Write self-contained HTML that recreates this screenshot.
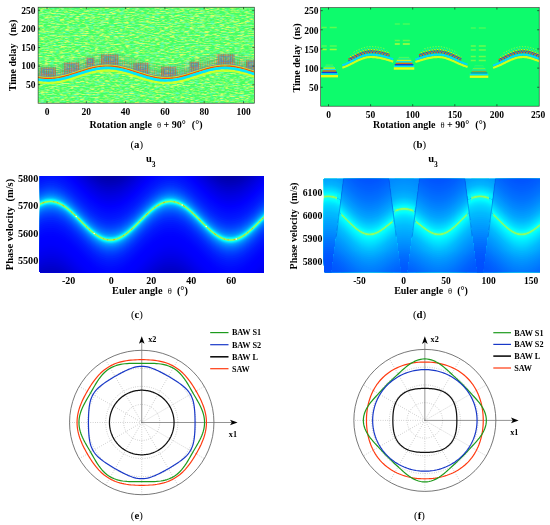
<!DOCTYPE html>
<html lang="en"><head><meta charset="utf-8"><title>Figure</title>
<style>html,body{margin:0;padding:0;background:#fff}svg{display:block}text{font-family:"Liberation Serif",serif;fill:#000}</style>
</head><body>
<svg width="550" height="525" viewBox="0 0 550 525">
<rect width="550" height="525" fill="#fff"/>
<defs>
<filter id="nzA" x="0" y="0" width="100%" height="100%"><feTurbulence type="fractalNoise" baseFrequency="0.2 0.9" numOctaves="2" seed="3"/><feColorMatrix type="matrix" values="0 0 0 0 0.72  0 0 0 0 1  0 0 0 0 0.14  3.2 0 0 0 -1.36"/></filter>
<filter id="nzA2" x="0" y="0" width="100%" height="100%"><feTurbulence type="fractalNoise" baseFrequency="0.2 0.9" numOctaves="2" seed="11"/><feColorMatrix type="matrix" values="0 0 0 0 0.10  0 0 0 0 1  0 0 0 0 0.55  2.4 0 0 0 -1.12"/></filter>
<filter id="b1" filterUnits="userSpaceOnUse" x="0" y="0" width="550" height="525"><feGaussianBlur stdDeviation="0.5"/></filter>
<filter id="b2" filterUnits="userSpaceOnUse" x="0" y="0" width="550" height="525"><feGaussianBlur stdDeviation="0.35"/></filter>
<clipPath id="cA"><rect x="38.1" y="7.2" width="216.2" height="96"/></clipPath>
<clipPath id="cB"><rect x="320.7" y="7.5" width="218.5" height="98.7"/></clipPath>
<clipPath id="cC"><rect x="39.9" y="176" width="223.8" height="96.3"/></clipPath>
<clipPath id="cD"><rect x="323.9" y="178.8" width="216.1" height="93.4"/></clipPath>
</defs>
<g clip-path="url(#cA)">
<rect x="38" y="7" width="216.5" height="96.5" fill="#44ff62"/>
<rect x="38" y="7" width="216.5" height="96.5" filter="url(#nzA)"/>
<rect x="38" y="7" width="216.5" height="96.5" filter="url(#nzA2)"/>
<defs><pattern id="stA" width="2.3" height="4" patternUnits="userSpaceOnUse"><rect width="2.3" height="4" fill="#9aa8b0" fill-opacity="0.18"/><rect x="0" width="0.85" height="4" fill="#c8452c"/><rect x="1.1" width="0.85" height="4" fill="#4a5cc4"/></pattern>
<clipPath id="rgA1"><path d="M35.21 75.54 L37.17 75.93 L39.14 76.26 L41.1 76.54 L43.07 76.75 L45.03 76.9 L47 76.98 L48.97 77 L50.93 76.94 L52.9 76.82 L54.86 76.63 L56.83 76.38 L58.79 76.07 L60.76 75.7 L62.72 75.27 L64.69 74.8 L66.65 74.28 L68.62 73.73 L70.58 73.14 L72.55 72.53 L74.51 71.9 L76.47 71.25 L78.44 70.61 L80.41 69.96 L82.37 69.32 L84.34 68.7 L86.3 68.1 L88.27 67.53 L90.23 67 L92.19 66.51 L94.16 66.06 L96.12 65.67 L98.09 65.34 L100.06 65.06 L102.02 64.85 L103.98 64.7 L105.95 64.62 L107.91 64.6 L109.88 64.66 L111.84 64.78 L113.81 64.97 L115.78 65.22 L117.74 65.53 L119.7 65.9 L121.67 66.33 L123.64 66.8 L125.6 67.32 L127.56 67.87 L129.53 68.46 L131.5 69.07 L133.46 69.7 L135.43 70.35 L137.39 70.99 L139.36 71.64 L141.32 72.28 L143.29 72.9 L145.25 73.5 L147.22 74.07 L149.18 74.6 L151.15 75.09 L153.11 75.54 L155.07 75.93 L157.04 76.26 L159 76.54 L160.97 76.75 L162.94 76.9 L164.9 76.98 L166.87 77 L168.83 76.94 L170.8 76.82 L172.76 76.63 L174.73 76.38 L176.69 76.07 L178.66 75.7 L180.62 75.27 L182.59 74.8 L184.55 74.28 L186.52 73.73 L188.48 73.14 L190.44 72.53 L192.41 71.9 L194.38 71.25 L196.34 70.61 L198.31 69.96 L200.27 69.32 L202.24 68.7 L204.2 68.1 L206.17 67.53 L208.13 67 L210.09 66.51 L212.06 66.06 L214.03 65.67 L215.99 65.34 L217.96 65.06 L219.92 64.85 L221.89 64.7 L223.85 64.62 L225.81 64.6 L227.78 64.66 L229.75 64.78 L231.71 64.97 L233.68 65.22 L235.64 65.53 L237.61 65.9 L239.57 66.33 L241.53 66.8 L243.5 67.32 L245.47 67.87 L247.43 68.46 L249.4 69.07 L251.36 69.7 L253.33 70.35 L255.29 70.99 L257.25 71.64 L257.25 65.54 L255.29 64.89 L253.33 64.25 L251.36 63.6 L249.4 62.97 L247.43 62.36 L245.47 61.77 L243.5 61.22 L241.53 60.7 L239.57 60.23 L237.61 59.8 L235.64 59.43 L233.68 59.12 L231.71 58.87 L229.75 58.68 L227.78 58.56 L225.81 58.5 L223.85 58.52 L221.89 58.6 L219.92 58.75 L217.96 58.96 L215.99 59.24 L214.03 59.57 L212.06 59.96 L210.09 60.41 L208.13 60.9 L206.17 61.43 L204.2 62 L202.24 62.6 L200.27 63.22 L198.31 63.86 L196.34 64.51 L194.38 65.15 L192.41 65.8 L190.44 66.43 L188.48 67.04 L186.52 67.63 L184.55 68.18 L182.59 68.7 L180.62 69.17 L178.66 69.6 L176.69 69.97 L174.73 70.28 L172.76 70.53 L170.8 70.72 L168.83 70.84 L166.87 70.9 L164.9 70.88 L162.94 70.8 L160.97 70.65 L159 70.44 L157.04 70.16 L155.07 69.83 L153.11 69.44 L151.15 68.99 L149.18 68.5 L147.22 67.97 L145.25 67.4 L143.29 66.8 L141.32 66.18 L139.36 65.54 L137.39 64.89 L135.43 64.25 L133.46 63.6 L131.5 62.97 L129.53 62.36 L127.56 61.77 L125.6 61.22 L123.64 60.7 L121.67 60.23 L119.7 59.8 L117.74 59.43 L115.78 59.12 L113.81 58.87 L111.84 58.68 L109.88 58.56 L107.91 58.5 L105.95 58.52 L103.98 58.6 L102.02 58.75 L100.06 58.96 L98.09 59.24 L96.12 59.57 L94.16 59.96 L92.19 60.41 L90.23 60.9 L88.27 61.43 L86.3 62 L84.34 62.6 L82.37 63.22 L80.41 63.86 L78.44 64.51 L76.47 65.15 L74.51 65.8 L72.55 66.43 L70.58 67.04 L68.62 67.63 L66.65 68.18 L64.69 68.7 L62.72 69.17 L60.76 69.6 L58.79 69.97 L56.83 70.28 L54.86 70.53 L52.9 70.72 L50.93 70.84 L48.97 70.9 L47 70.88 L45.03 70.8 L43.07 70.65 L41.1 70.44 L39.14 70.16 L37.17 69.83 L35.21 69.44Z"/></clipPath>
<clipPath id="rgA2"><path d="M35.21 69.44 L37.17 69.83 L39.14 70.16 L41.1 70.44 L43.07 70.65 L45.03 70.8 L47 70.88 L48.97 70.9 L50.93 70.84 L52.9 70.72 L54.86 70.53 L56.83 70.28 L58.79 69.97 L60.76 69.6 L62.72 69.17 L64.69 68.7 L66.65 68.18 L68.62 67.63 L70.58 67.04 L72.55 66.43 L74.51 65.8 L76.47 65.15 L78.44 64.51 L80.41 63.86 L82.37 63.22 L84.34 62.6 L86.3 62 L88.27 61.43 L90.23 60.9 L92.19 60.41 L94.16 59.96 L96.12 59.57 L98.09 59.24 L100.06 58.96 L102.02 58.75 L103.98 58.6 L105.95 58.52 L107.91 58.5 L109.88 58.56 L111.84 58.68 L113.81 58.87 L115.78 59.12 L117.74 59.43 L119.7 59.8 L121.67 60.23 L123.64 60.7 L125.6 61.22 L127.56 61.77 L129.53 62.36 L131.5 62.97 L133.46 63.6 L135.43 64.25 L137.39 64.89 L139.36 65.54 L141.32 66.18 L143.29 66.8 L145.25 67.4 L147.22 67.97 L149.18 68.5 L151.15 68.99 L153.11 69.44 L155.07 69.83 L157.04 70.16 L159 70.44 L160.97 70.65 L162.94 70.8 L164.9 70.88 L166.87 70.9 L168.83 70.84 L170.8 70.72 L172.76 70.53 L174.73 70.28 L176.69 69.97 L178.66 69.6 L180.62 69.17 L182.59 68.7 L184.55 68.18 L186.52 67.63 L188.48 67.04 L190.44 66.43 L192.41 65.8 L194.38 65.15 L196.34 64.51 L198.31 63.86 L200.27 63.22 L202.24 62.6 L204.2 62 L206.17 61.43 L208.13 60.9 L210.09 60.41 L212.06 59.96 L214.03 59.57 L215.99 59.24 L217.96 58.96 L219.92 58.75 L221.89 58.6 L223.85 58.52 L225.81 58.5 L227.78 58.56 L229.75 58.68 L231.71 58.87 L233.68 59.12 L235.64 59.43 L237.61 59.8 L239.57 60.23 L241.53 60.7 L243.5 61.22 L245.47 61.77 L247.43 62.36 L249.4 62.97 L251.36 63.6 L253.33 64.25 L255.29 64.89 L257.25 65.54 L257.25 59.54 L255.29 58.89 L253.33 58.25 L251.36 57.6 L249.4 56.97 L247.43 56.36 L245.47 55.77 L243.5 55.22 L241.53 54.7 L239.57 54.23 L237.61 53.8 L235.64 53.43 L233.68 53.12 L231.71 52.87 L229.75 52.68 L227.78 52.56 L225.81 52.5 L223.85 52.52 L221.89 52.6 L219.92 52.75 L217.96 52.96 L215.99 53.24 L214.03 53.57 L212.06 53.96 L210.09 54.41 L208.13 54.9 L206.17 55.43 L204.2 56 L202.24 56.6 L200.27 57.22 L198.31 57.86 L196.34 58.51 L194.38 59.15 L192.41 59.8 L190.44 60.43 L188.48 61.04 L186.52 61.63 L184.55 62.18 L182.59 62.7 L180.62 63.17 L178.66 63.6 L176.69 63.97 L174.73 64.28 L172.76 64.53 L170.8 64.72 L168.83 64.84 L166.87 64.9 L164.9 64.88 L162.94 64.8 L160.97 64.65 L159 64.44 L157.04 64.16 L155.07 63.83 L153.11 63.44 L151.15 62.99 L149.18 62.5 L147.22 61.97 L145.25 61.4 L143.29 60.8 L141.32 60.18 L139.36 59.54 L137.39 58.89 L135.43 58.25 L133.46 57.6 L131.5 56.97 L129.53 56.36 L127.56 55.77 L125.6 55.22 L123.64 54.7 L121.67 54.23 L119.7 53.8 L117.74 53.43 L115.78 53.12 L113.81 52.87 L111.84 52.68 L109.88 52.56 L107.91 52.5 L105.95 52.52 L103.98 52.6 L102.02 52.75 L100.06 52.96 L98.09 53.24 L96.12 53.57 L94.16 53.96 L92.19 54.41 L90.23 54.9 L88.27 55.43 L86.3 56 L84.34 56.6 L82.37 57.22 L80.41 57.86 L78.44 58.51 L76.47 59.15 L74.51 59.8 L72.55 60.43 L70.58 61.04 L68.62 61.63 L66.65 62.18 L64.69 62.7 L62.72 63.17 L60.76 63.6 L58.79 63.97 L56.83 64.28 L54.86 64.53 L52.9 64.72 L50.93 64.84 L48.97 64.9 L47 64.88 L45.03 64.8 L43.07 64.65 L41.1 64.44 L39.14 64.16 L37.17 63.83 L35.21 63.44Z"/></clipPath>
<clipPath id="rgA3"><path d="M35.21 75.54 L37.17 75.93 L39.14 76.26 L41.1 76.54 L43.07 76.75 L45.03 76.9 L47 76.98 L48.97 77 L50.93 76.94 L52.9 76.82 L54.86 76.63 L56.83 76.38 L58.79 76.07 L60.76 75.7 L62.72 75.27 L64.69 74.8 L66.65 74.28 L68.62 73.73 L70.58 73.14 L72.55 72.53 L74.51 71.9 L76.47 71.25 L78.44 70.61 L80.41 69.96 L82.37 69.32 L84.34 68.7 L86.3 68.1 L88.27 67.53 L90.23 67 L92.19 66.51 L94.16 66.06 L96.12 65.67 L98.09 65.34 L100.06 65.06 L102.02 64.85 L103.98 64.7 L105.95 64.62 L107.91 64.6 L109.88 64.66 L111.84 64.78 L113.81 64.97 L115.78 65.22 L117.74 65.53 L119.7 65.9 L121.67 66.33 L123.64 66.8 L125.6 67.32 L127.56 67.87 L129.53 68.46 L131.5 69.07 L133.46 69.7 L135.43 70.35 L137.39 70.99 L139.36 71.64 L141.32 72.28 L143.29 72.9 L145.25 73.5 L147.22 74.07 L149.18 74.6 L151.15 75.09 L153.11 75.54 L155.07 75.93 L157.04 76.26 L159 76.54 L160.97 76.75 L162.94 76.9 L164.9 76.98 L166.87 77 L168.83 76.94 L170.8 76.82 L172.76 76.63 L174.73 76.38 L176.69 76.07 L178.66 75.7 L180.62 75.27 L182.59 74.8 L184.55 74.28 L186.52 73.73 L188.48 73.14 L190.44 72.53 L192.41 71.9 L194.38 71.25 L196.34 70.61 L198.31 69.96 L200.27 69.32 L202.24 68.7 L204.2 68.1 L206.17 67.53 L208.13 67 L210.09 66.51 L212.06 66.06 L214.03 65.67 L215.99 65.34 L217.96 65.06 L219.92 64.85 L221.89 64.7 L223.85 64.62 L225.81 64.6 L227.78 64.66 L229.75 64.78 L231.71 64.97 L233.68 65.22 L235.64 65.53 L237.61 65.9 L239.57 66.33 L241.53 66.8 L243.5 67.32 L245.47 67.87 L247.43 68.46 L249.4 69.07 L251.36 69.7 L253.33 70.35 L255.29 70.99 L257.25 71.64 L257.25 45.04 L255.29 44.39 L253.33 43.75 L251.36 43.1 L249.4 42.47 L247.43 41.86 L245.47 41.27 L243.5 40.72 L241.53 40.2 L239.57 39.73 L237.61 39.3 L235.64 38.93 L233.68 38.62 L231.71 38.37 L229.75 38.18 L227.78 38.06 L225.81 38 L223.85 38.02 L221.89 38.1 L219.92 38.25 L217.96 38.46 L215.99 38.74 L214.03 39.07 L212.06 39.46 L210.09 39.91 L208.13 40.4 L206.17 40.93 L204.2 41.5 L202.24 42.1 L200.27 42.72 L198.31 43.36 L196.34 44.01 L194.38 44.65 L192.41 45.3 L190.44 45.93 L188.48 46.54 L186.52 47.13 L184.55 47.68 L182.59 48.2 L180.62 48.67 L178.66 49.1 L176.69 49.47 L174.73 49.78 L172.76 50.03 L170.8 50.22 L168.83 50.34 L166.87 50.4 L164.9 50.38 L162.94 50.3 L160.97 50.15 L159 49.94 L157.04 49.66 L155.07 49.33 L153.11 48.94 L151.15 48.49 L149.18 48 L147.22 47.47 L145.25 46.9 L143.29 46.3 L141.32 45.68 L139.36 45.04 L137.39 44.39 L135.43 43.75 L133.46 43.1 L131.5 42.47 L129.53 41.86 L127.56 41.27 L125.6 40.72 L123.64 40.2 L121.67 39.73 L119.7 39.3 L117.74 38.93 L115.78 38.62 L113.81 38.37 L111.84 38.18 L109.88 38.06 L107.91 38 L105.95 38.02 L103.98 38.1 L102.02 38.25 L100.06 38.46 L98.09 38.74 L96.12 39.07 L94.16 39.46 L92.19 39.91 L90.23 40.4 L88.27 40.93 L86.3 41.5 L84.34 42.1 L82.37 42.72 L80.41 43.36 L78.44 44.01 L76.47 44.65 L74.51 45.3 L72.55 45.93 L70.58 46.54 L68.62 47.13 L66.65 47.68 L64.69 48.2 L62.72 48.67 L60.76 49.1 L58.79 49.47 L56.83 49.78 L54.86 50.03 L52.9 50.22 L50.93 50.34 L48.97 50.4 L47 50.38 L45.03 50.3 L43.07 50.15 L41.1 49.94 L39.14 49.66 L37.17 49.33 L35.21 48.94Z"/></clipPath></defs>
<g filter="url(#b1)">
<rect x="38" y="40" width="216" height="50" fill="url(#stA)" fill-opacity="0.4" clip-path="url(#rgA1)"/>
<rect x="38" y="40" width="216" height="50" fill="url(#stA)" fill-opacity="0.16" clip-path="url(#rgA2)"/>
<rect x="39.98" y="67.19" width="16" height="16.4" fill="url(#stA)" fill-opacity="0.5" clip-path="url(#rgA3)"/>
<rect x="43.58" y="69.5" width="8.8" height="3.78" fill="none" stroke="#6878b8" stroke-width="0.9" stroke-opacity="0.7"/>
<rect x="41.58" y="68.24" width="12.8" height="6.3" fill="none" stroke="#c87850" stroke-width="0.8" stroke-opacity="0.6"/>
<rect x="63.56" y="62.3" width="16" height="17" fill="url(#stA)" fill-opacity="0.5" clip-path="url(#rgA3)"/>
<rect x="67.16" y="64.78" width="8.8" height="4.05" fill="none" stroke="#6878b8" stroke-width="0.9" stroke-opacity="0.7"/>
<rect x="65.16" y="63.43" width="12.8" height="6.75" fill="none" stroke="#c87850" stroke-width="0.8" stroke-opacity="0.6"/>
<rect x="100.88" y="54.34" width="18" height="17.6" fill="url(#stA)" fill-opacity="0.5" clip-path="url(#rgA3)"/>
<rect x="104.93" y="56.98" width="9.9" height="4.32" fill="none" stroke="#6878b8" stroke-width="0.9" stroke-opacity="0.7"/>
<rect x="102.68" y="55.54" width="14.4" height="7.2" fill="none" stroke="#c87850" stroke-width="0.8" stroke-opacity="0.6"/>
<rect x="133.32" y="62.62" width="16" height="17" fill="url(#stA)" fill-opacity="0.5" clip-path="url(#rgA3)"/>
<rect x="136.92" y="65.09" width="8.8" height="4.05" fill="none" stroke="#6878b8" stroke-width="0.9" stroke-opacity="0.7"/>
<rect x="134.92" y="63.74" width="12.8" height="6.75" fill="none" stroke="#c87850" stroke-width="0.8" stroke-opacity="0.6"/>
<rect x="160.83" y="66.46" width="16" height="17.6" fill="url(#stA)" fill-opacity="0.5" clip-path="url(#rgA3)"/>
<rect x="164.43" y="69.1" width="8.8" height="4.32" fill="none" stroke="#6878b8" stroke-width="0.9" stroke-opacity="0.7"/>
<rect x="162.43" y="67.66" width="12.8" height="7.2" fill="none" stroke="#c87850" stroke-width="0.8" stroke-opacity="0.6"/>
<rect x="216.81" y="54.03" width="18" height="18" fill="url(#stA)" fill-opacity="0.5" clip-path="url(#rgA3)"/>
<rect x="220.87" y="56.78" width="9.9" height="4.5" fill="none" stroke="#6878b8" stroke-width="0.9" stroke-opacity="0.7"/>
<rect x="218.62" y="55.28" width="14.4" height="7.5" fill="none" stroke="#c87850" stroke-width="0.8" stroke-opacity="0.6"/>
<rect x="246.36" y="60.05" width="10" height="17" fill="url(#stA)" fill-opacity="0.5" clip-path="url(#rgA3)"/>
<rect x="248.61" y="62.53" width="5.5" height="4.05" fill="none" stroke="#6878b8" stroke-width="0.9" stroke-opacity="0.7"/>
<rect x="247.36" y="61.18" width="8" height="6.75" fill="none" stroke="#c87850" stroke-width="0.8" stroke-opacity="0.6"/>
<rect x="86.23" y="57.55" width="8" height="15" fill="url(#stA)" fill-opacity="0.5" clip-path="url(#rgA3)"/>
<rect x="88.03" y="59.48" width="4.4" height="3.15" fill="none" stroke="#6878b8" stroke-width="0.9" stroke-opacity="0.7"/>
<rect x="87.03" y="58.43" width="6.4" height="5.25" fill="none" stroke="#c87850" stroke-width="0.8" stroke-opacity="0.6"/>
<rect x="189.38" y="61.7" width="10" height="15" fill="url(#stA)" fill-opacity="0.5" clip-path="url(#rgA3)"/>
<rect x="191.62" y="63.62" width="5.5" height="3.15" fill="none" stroke="#6878b8" stroke-width="0.9" stroke-opacity="0.7"/>
<rect x="190.38" y="62.58" width="8" height="5.25" fill="none" stroke="#c87850" stroke-width="0.8" stroke-opacity="0.6"/>
</g>
<path d="M35.21 81.44 L37.17 81.83 L39.14 82.16 L41.1 82.44 L43.07 82.65 L45.03 82.8 L47 82.88 L48.97 82.9 L50.93 82.84 L52.9 82.72 L54.86 82.53 L56.83 82.28 L58.79 81.97 L60.76 81.6 L62.72 81.17 L64.69 80.7 L66.65 80.18 L68.62 79.63 L70.58 79.04 L72.55 78.43 L74.51 77.8 L76.47 77.15 L78.44 76.51 L80.41 75.86 L82.37 75.22 L84.34 74.6 L86.3 74 L88.27 73.43 L90.23 72.9 L92.19 72.41 L94.16 71.96 L96.12 71.57 L98.09 71.24 L100.06 70.96 L102.02 70.75 L103.98 70.6 L105.95 70.52 L107.91 70.5 L109.88 70.56 L111.84 70.68 L113.81 70.87 L115.78 71.12 L117.74 71.43 L119.7 71.8 L121.67 72.23 L123.64 72.7 L125.6 73.22 L127.56 73.77 L129.53 74.36 L131.5 74.97 L133.46 75.6 L135.43 76.25 L137.39 76.89 L139.36 77.54 L141.32 78.18 L143.29 78.8 L145.25 79.4 L147.22 79.97 L149.18 80.5 L151.15 80.99 L153.11 81.44 L155.07 81.83 L157.04 82.16 L159 82.44 L160.97 82.65 L162.94 82.8 L164.9 82.88 L166.87 82.9 L168.83 82.84 L170.8 82.72 L172.76 82.53 L174.73 82.28 L176.69 81.97 L178.66 81.6 L180.62 81.17 L182.59 80.7 L184.55 80.18 L186.52 79.63 L188.48 79.04 L190.44 78.43 L192.41 77.8 L194.38 77.15 L196.34 76.51 L198.31 75.86 L200.27 75.22 L202.24 74.6 L204.2 74 L206.17 73.43 L208.13 72.9 L210.09 72.41 L212.06 71.96 L214.03 71.57 L215.99 71.24 L217.96 70.96 L219.92 70.75 L221.89 70.6 L223.85 70.52 L225.81 70.5 L227.78 70.56 L229.75 70.68 L231.71 70.87 L233.68 71.12 L235.64 71.43 L237.61 71.8 L239.57 72.23 L241.53 72.7 L243.5 73.22 L245.47 73.77 L247.43 74.36 L249.4 74.97 L251.36 75.6 L253.33 76.25 L255.29 76.89 L257.25 77.54" fill="none" stroke="#dcff20" stroke-width="2.4" stroke-opacity="0.85" filter="url(#b1)"/>
<path d="M35.21 75.04 L37.17 75.43 L39.14 75.76 L41.1 76.04 L43.07 76.25 L45.03 76.4 L47 76.48 L48.97 76.5 L50.93 76.44 L52.9 76.32 L54.86 76.13 L56.83 75.88 L58.79 75.57 L60.76 75.2 L62.72 74.77 L64.69 74.3 L66.65 73.78 L68.62 73.23 L70.58 72.64 L72.55 72.03 L74.51 71.4 L76.47 70.75 L78.44 70.11 L80.41 69.46 L82.37 68.82 L84.34 68.2 L86.3 67.6 L88.27 67.03 L90.23 66.5 L92.19 66.01 L94.16 65.56 L96.12 65.17 L98.09 64.84 L100.06 64.56 L102.02 64.35 L103.98 64.2 L105.95 64.12 L107.91 64.1 L109.88 64.16 L111.84 64.28 L113.81 64.47 L115.78 64.72 L117.74 65.03 L119.7 65.4 L121.67 65.83 L123.64 66.3 L125.6 66.82 L127.56 67.37 L129.53 67.96 L131.5 68.57 L133.46 69.2 L135.43 69.85 L137.39 70.49 L139.36 71.14 L141.32 71.78 L143.29 72.4 L145.25 73 L147.22 73.57 L149.18 74.1 L151.15 74.59 L153.11 75.04 L155.07 75.43 L157.04 75.76 L159 76.04 L160.97 76.25 L162.94 76.4 L164.9 76.48 L166.87 76.5 L168.83 76.44 L170.8 76.32 L172.76 76.13 L174.73 75.88 L176.69 75.57 L178.66 75.2 L180.62 74.77 L182.59 74.3 L184.55 73.78 L186.52 73.23 L188.48 72.64 L190.44 72.03 L192.41 71.4 L194.38 70.75 L196.34 70.11 L198.31 69.46 L200.27 68.82 L202.24 68.2 L204.2 67.6 L206.17 67.03 L208.13 66.5 L210.09 66.01 L212.06 65.56 L214.03 65.17 L215.99 64.84 L217.96 64.56 L219.92 64.35 L221.89 64.2 L223.85 64.12 L225.81 64.1 L227.78 64.16 L229.75 64.28 L231.71 64.47 L233.68 64.72 L235.64 65.03 L237.61 65.4 L239.57 65.83 L241.53 66.3 L243.5 66.82 L245.47 67.37 L247.43 67.96 L249.4 68.57 L251.36 69.2 L253.33 69.85 L255.29 70.49 L257.25 71.14" fill="none" stroke="#6a78c0" stroke-width="0.9" stroke-opacity="0.8"/>
<path d="M35.21 75.94 L37.17 76.33 L39.14 76.66 L41.1 76.94 L43.07 77.15 L45.03 77.3 L47 77.38 L48.97 77.4 L50.93 77.34 L52.9 77.22 L54.86 77.03 L56.83 76.78 L58.79 76.47 L60.76 76.1 L62.72 75.67 L64.69 75.2 L66.65 74.68 L68.62 74.13 L70.58 73.54 L72.55 72.93 L74.51 72.3 L76.47 71.65 L78.44 71.01 L80.41 70.36 L82.37 69.72 L84.34 69.1 L86.3 68.5 L88.27 67.93 L90.23 67.4 L92.19 66.91 L94.16 66.46 L96.12 66.07 L98.09 65.74 L100.06 65.46 L102.02 65.25 L103.98 65.1 L105.95 65.02 L107.91 65 L109.88 65.06 L111.84 65.18 L113.81 65.37 L115.78 65.62 L117.74 65.93 L119.7 66.3 L121.67 66.73 L123.64 67.2 L125.6 67.72 L127.56 68.27 L129.53 68.86 L131.5 69.47 L133.46 70.1 L135.43 70.75 L137.39 71.39 L139.36 72.04 L141.32 72.68 L143.29 73.3 L145.25 73.9 L147.22 74.47 L149.18 75 L151.15 75.49 L153.11 75.94 L155.07 76.33 L157.04 76.66 L159 76.94 L160.97 77.15 L162.94 77.3 L164.9 77.38 L166.87 77.4 L168.83 77.34 L170.8 77.22 L172.76 77.03 L174.73 76.78 L176.69 76.47 L178.66 76.1 L180.62 75.67 L182.59 75.2 L184.55 74.68 L186.52 74.13 L188.48 73.54 L190.44 72.93 L192.41 72.3 L194.38 71.65 L196.34 71.01 L198.31 70.36 L200.27 69.72 L202.24 69.1 L204.2 68.5 L206.17 67.93 L208.13 67.4 L210.09 66.91 L212.06 66.46 L214.03 66.07 L215.99 65.74 L217.96 65.46 L219.92 65.25 L221.89 65.1 L223.85 65.02 L225.81 65 L227.78 65.06 L229.75 65.18 L231.71 65.37 L233.68 65.62 L235.64 65.93 L237.61 66.3 L239.57 66.73 L241.53 67.2 L243.5 67.72 L245.47 68.27 L247.43 68.86 L249.4 69.47 L251.36 70.1 L253.33 70.75 L255.29 71.39 L257.25 72.04" fill="none" stroke="#fff200" stroke-width="0.7"/>
<path d="M35.21 76.94 L37.17 77.33 L39.14 77.66 L41.1 77.94 L43.07 78.15 L45.03 78.3 L47 78.38 L48.97 78.4 L50.93 78.34 L52.9 78.22 L54.86 78.03 L56.83 77.78 L58.79 77.47 L60.76 77.1 L62.72 76.67 L64.69 76.2 L66.65 75.68 L68.62 75.13 L70.58 74.54 L72.55 73.93 L74.51 73.3 L76.47 72.65 L78.44 72.01 L80.41 71.36 L82.37 70.72 L84.34 70.1 L86.3 69.5 L88.27 68.93 L90.23 68.4 L92.19 67.91 L94.16 67.46 L96.12 67.07 L98.09 66.74 L100.06 66.46 L102.02 66.25 L103.98 66.1 L105.95 66.02 L107.91 66 L109.88 66.06 L111.84 66.18 L113.81 66.37 L115.78 66.62 L117.74 66.93 L119.7 67.3 L121.67 67.73 L123.64 68.2 L125.6 68.72 L127.56 69.27 L129.53 69.86 L131.5 70.47 L133.46 71.1 L135.43 71.75 L137.39 72.39 L139.36 73.04 L141.32 73.68 L143.29 74.3 L145.25 74.9 L147.22 75.47 L149.18 76 L151.15 76.49 L153.11 76.94 L155.07 77.33 L157.04 77.66 L159 77.94 L160.97 78.15 L162.94 78.3 L164.9 78.38 L166.87 78.4 L168.83 78.34 L170.8 78.22 L172.76 78.03 L174.73 77.78 L176.69 77.47 L178.66 77.1 L180.62 76.67 L182.59 76.2 L184.55 75.68 L186.52 75.13 L188.48 74.54 L190.44 73.93 L192.41 73.3 L194.38 72.65 L196.34 72.01 L198.31 71.36 L200.27 70.72 L202.24 70.1 L204.2 69.5 L206.17 68.93 L208.13 68.4 L210.09 67.91 L212.06 67.46 L214.03 67.07 L215.99 66.74 L217.96 66.46 L219.92 66.25 L221.89 66.1 L223.85 66.02 L225.81 66 L227.78 66.06 L229.75 66.18 L231.71 66.37 L233.68 66.62 L235.64 66.93 L237.61 67.3 L239.57 67.73 L241.53 68.2 L243.5 68.72 L245.47 69.27 L247.43 69.86 L249.4 70.47 L251.36 71.1 L253.33 71.75 L255.29 72.39 L257.25 73.04" fill="none" stroke="#ff4a00" stroke-width="1.2"/>
<path d="M35.21 78.94 L37.17 79.33 L39.14 79.66 L41.1 79.94 L43.07 80.15 L45.03 80.3 L47 80.38 L48.97 80.4 L50.93 80.34 L52.9 80.22 L54.86 80.03 L56.83 79.78 L58.79 79.47 L60.76 79.1 L62.72 78.67 L64.69 78.2 L66.65 77.68 L68.62 77.13 L70.58 76.54 L72.55 75.93 L74.51 75.3 L76.47 74.65 L78.44 74.01 L80.41 73.36 L82.37 72.72 L84.34 72.1 L86.3 71.5 L88.27 70.93 L90.23 70.4 L92.19 69.91 L94.16 69.46 L96.12 69.07 L98.09 68.74 L100.06 68.46 L102.02 68.25 L103.98 68.1 L105.95 68.02 L107.91 68 L109.88 68.06 L111.84 68.18 L113.81 68.37 L115.78 68.62 L117.74 68.93 L119.7 69.3 L121.67 69.73 L123.64 70.2 L125.6 70.72 L127.56 71.27 L129.53 71.86 L131.5 72.47 L133.46 73.1 L135.43 73.75 L137.39 74.39 L139.36 75.04 L141.32 75.68 L143.29 76.3 L145.25 76.9 L147.22 77.47 L149.18 78 L151.15 78.49 L153.11 78.94 L155.07 79.33 L157.04 79.66 L159 79.94 L160.97 80.15 L162.94 80.3 L164.9 80.38 L166.87 80.4 L168.83 80.34 L170.8 80.22 L172.76 80.03 L174.73 79.78 L176.69 79.47 L178.66 79.1 L180.62 78.67 L182.59 78.2 L184.55 77.68 L186.52 77.13 L188.48 76.54 L190.44 75.93 L192.41 75.3 L194.38 74.65 L196.34 74.01 L198.31 73.36 L200.27 72.72 L202.24 72.1 L204.2 71.5 L206.17 70.93 L208.13 70.4 L210.09 69.91 L212.06 69.46 L214.03 69.07 L215.99 68.74 L217.96 68.46 L219.92 68.25 L221.89 68.1 L223.85 68.02 L225.81 68 L227.78 68.06 L229.75 68.18 L231.71 68.37 L233.68 68.62 L235.64 68.93 L237.61 69.3 L239.57 69.73 L241.53 70.2 L243.5 70.72 L245.47 71.27 L247.43 71.86 L249.4 72.47 L251.36 73.1 L253.33 73.75 L255.29 74.39 L257.25 75.04" fill="none" stroke="#00e6ff" stroke-width="2.5"/>
</g>
<path d="M47 103.2 v-2 M47 7.2 v2 M86.3 103.2 v-2 M86.3 7.2 v2 M125.6 103.2 v-2 M125.6 7.2 v2 M164.9 103.2 v-2 M164.9 7.2 v2 M204.2 103.2 v-2 M204.2 7.2 v2 M243.5 103.2 v-2 M243.5 7.2 v2 M38.1 84.7 h2 M254.3 84.7 h-2 M38.1 66.1 h2 M254.3 66.1 h-2 M38.1 47.5 h2 M254.3 47.5 h-2 M38.1 28.9 h2 M254.3 28.9 h-2 M38.1 10.3 h2 M254.3 10.3 h-2" stroke="#111" stroke-width="0.6" fill="none"/>
<rect x="38.1" y="7.2" width="216.2" height="96" fill="none" stroke="#1a2a1a" stroke-width="0.6"/>
<text x="47" y="115.3" font-size="9.5" text-anchor="middle" font-weight="bold" >0</text>
<text x="86.3" y="115.3" font-size="9.5" text-anchor="middle" font-weight="bold" >20</text>
<text x="125.6" y="115.3" font-size="9.5" text-anchor="middle" font-weight="bold" >40</text>
<text x="164.9" y="115.3" font-size="9.5" text-anchor="middle" font-weight="bold" >60</text>
<text x="204.2" y="115.3" font-size="9.5" text-anchor="middle" font-weight="bold" >80</text>
<text x="243.5" y="115.3" font-size="9.5" text-anchor="middle" font-weight="bold" >100</text>
<text x="35.5" y="87.9" font-size="9.5" text-anchor="end" font-weight="bold" >50</text>
<text x="35.5" y="69.3" font-size="9.5" text-anchor="end" font-weight="bold" >100</text>
<text x="35.5" y="50.7" font-size="9.5" text-anchor="end" font-weight="bold" >150</text>
<text x="35.5" y="32.1" font-size="9.5" text-anchor="end" font-weight="bold" >200</text>
<text x="35.5" y="13.5" font-size="9.5" text-anchor="end" font-weight="bold" >250</text>
<text x="146" y="128.2" font-size="10" text-anchor="middle" font-weight="bold" >Rotation angle&#160;&#160;<tspan font-weight="normal" font-size="8.5">&#952;</tspan> + 90&#176;&#160;&#160;<tspan dx="1">(&#176;)</tspan></text>
<text transform="translate(16 55.5) rotate(-90)" font-size="10.1" text-anchor="middle" font-weight="bold">Time delay&#160;&#160;&#160;(ns)</text>
<text x="136.8" y="147.9" font-size="10.8" text-anchor="middle">(<tspan font-weight="bold">a</tspan>)</text>
<g clip-path="url(#cB)"><g filter="url(#b2)">
<rect x="320.7" y="7.5" width="219" height="99" fill="#0efb6c"/>
<path d="M320.7 76.2 H338" fill="none" stroke="#f0ff10" stroke-width="2.4" stroke-opacity="0.95" filter="url(#b1)"/>
<path d="M320.7 73.9 H338" fill="none" stroke="#00e0ff" stroke-width="1.6" stroke-opacity="1"/>
<path d="M321.7 72.4 H337" fill="none" stroke="#1838d8" stroke-width="1.5" stroke-opacity="1.0"/>
<path d="M322.7 70.9 H336" fill="none" stroke="#ff5000" stroke-width="1.3" stroke-opacity="1.0"/>
<path d="M322.7 69.5 H336" fill="none" stroke="#20d8ff" stroke-width="1.3" stroke-opacity="0.9"/>
<path d="M323.7 68.1 H335" fill="none" stroke="#fff000" stroke-width="1.2" stroke-opacity="0.8"/>
<path d="M324.7 66.6 H334" fill="none" stroke="#50e0ff" stroke-width="1.0" stroke-opacity="0.35"/>
<path d="M325.7 65.1 H333" fill="none" stroke="#f0ff30" stroke-width="1.0" stroke-opacity="0.3"/>
<path d="M321.7 49.5 H337" fill="none" stroke="#f4ff20" stroke-width="1.3" stroke-opacity="0.6" stroke-dasharray="5 3 7 4" filter="url(#b1)"/>
<path d="M321.7 27.5 H337" fill="none" stroke="#f4ff20" stroke-width="1.3" stroke-opacity="0.35" stroke-dasharray="5 3 7 4" filter="url(#b1)"/>
<path d="M321.7 46 H337" fill="none" stroke="#f4ff20" stroke-width="1.3" stroke-opacity="0.3" stroke-dasharray="5 3 7 4" filter="url(#b1)"/>
<path d="M353.5 52.24 L354.3 51.83 L355.1 51.42 L355.9 51.02 L356.7 50.62 L357.51 50.24 L358.31 49.86 L359.11 49.5 L359.91 49.15 L360.71 48.82 L361.51 48.51 L362.32 48.21 L363.12 47.94 L363.92 47.69 L364.72 47.46 L365.52 47.26 L366.32 47.08 L367.13 46.93 L367.93 46.81 L368.73 46.72 L369.53 46.65 L370.33 46.61 L371.13 46.6 L371.94 46.61 L372.74 46.64 L373.54 46.68 L374.34 46.73 L375.14 46.81 L375.94 46.89 L376.75 46.99 L377.55 47.11 L378.35 47.23 L379.15 47.37 L379.95 47.53 L380.75 47.69 L381.56 47.87 L382.36 48.06 L383.16 48.25 L383.96 48.46 L384.76 48.67 L385.56 48.89" fill="none" stroke="#f4ff20" stroke-width="1" stroke-opacity="0.5" stroke-dasharray="1.3 1.5" filter="url(#b1)"/>
<path d="M351.46 54.78 L352.37 54.32 L353.27 53.85 L354.17 53.39 L355.08 52.93 L355.98 52.48 L356.88 52.04 L357.79 51.6 L358.69 51.19 L359.59 50.79 L360.5 50.41 L361.4 50.05 L362.3 49.72 L363.21 49.41 L364.11 49.13 L365.01 48.89 L365.92 48.67 L366.82 48.49 L367.72 48.34 L368.63 48.23 L369.53 48.15 L370.43 48.11 L371.34 48.1 L372.24 48.12 L373.15 48.16 L374.05 48.21 L374.95 48.29 L375.86 48.38 L376.76 48.49 L377.66 48.62 L378.57 48.77 L379.47 48.93 L380.37 49.11 L381.28 49.31 L382.18 49.51 L383.08 49.73 L383.99 49.96 L384.89 50.21 L385.79 50.46 L386.7 50.72 L387.6 50.98" fill="none" stroke="#40d0ff" stroke-width="0.9" stroke-opacity="0.55" stroke-dasharray="1.3 1.5"/>
<path d="M349.94 56.94 L350.93 56.45 L351.92 55.94 L352.91 55.44 L353.91 54.93 L354.9 54.42 L355.89 53.92 L356.88 53.44 L357.88 52.96 L358.87 52.51 L359.86 52.07 L360.85 51.66 L361.85 51.28 L362.84 50.93 L363.83 50.62 L364.82 50.34 L365.82 50.09 L366.81 49.89 L367.8 49.73 L368.79 49.61 L369.79 49.53 L370.78 49.5 L371.77 49.51 L372.76 49.54 L373.76 49.59 L374.75 49.67 L375.74 49.77 L376.73 49.89 L377.73 50.03 L378.72 50.2 L379.71 50.38 L380.7 50.58 L381.7 50.8 L382.69 51.04 L383.68 51.29 L384.67 51.55 L385.67 51.82 L386.66 52.11 L387.65 52.4 L388.64 52.7 L389.64 53" fill="none" stroke="#ffe000" stroke-width="1.1" stroke-opacity="0.9" stroke-dasharray="1.3 1.5"/>
<path d="M342.3 67.6 L343.57 67.19 L344.85 66.72 L346.12 66.21 L347.39 65.65 L348.66 65.06 L349.94 64.44 L351.21 63.81 L352.48 63.16 L353.75 62.51 L355.02 61.86 L356.3 61.22 L357.57 60.61 L358.84 60.02 L360.12 59.47 L361.39 58.96 L362.66 58.49 L363.93 58.09 L365.2 57.74 L366.48 57.45 L367.75 57.24 L369.02 57.09 L370.3 57.01 L371.57 57 L372.84 57.04 L374.11 57.12 L375.38 57.23 L376.66 57.38 L377.93 57.56 L379.2 57.78 L380.48 58.03 L381.75 58.31 L383.02 58.62 L384.29 58.95 L385.56 59.29 L386.84 59.66 L388.11 60.04 L389.38 60.42 L390.65 60.81 L391.93 61.21 L393.2 61.6" fill="none" stroke="#f0ff10" stroke-width="2.2" stroke-opacity="0.85" filter="url(#b1)"/>
<path d="M342.3 65.2 L343.57 64.79 L344.85 64.32 L346.12 63.81 L347.39 63.25 L348.66 62.66 L349.94 62.04 L351.21 61.41 L352.48 60.76 L353.75 60.11 L355.02 59.46 L356.3 58.82 L357.57 58.21 L358.84 57.62 L360.12 57.07 L361.39 56.56 L362.66 56.09 L363.93 55.69 L365.2 55.34 L366.48 55.05 L367.75 54.84 L369.02 54.69 L370.3 54.61 L371.57 54.6 L372.84 54.64 L374.11 54.72 L375.38 54.83 L376.66 54.98 L377.93 55.16 L379.2 55.38 L380.48 55.63 L381.75 55.91 L383.02 56.22 L384.29 56.55 L385.56 56.89 L386.84 57.26 L388.11 57.64 L389.38 58.02 L390.65 58.41 L391.93 58.81 L393.2 59.2" fill="none" stroke="#00d8ff" stroke-width="2.0"/>
<path d="M348.41 59.18 L349.44 58.69 L350.47 58.18 L351.5 57.66 L352.53 57.13 L353.56 56.6 L354.59 56.08 L355.62 55.56 L356.65 55.05 L357.68 54.55 L358.72 54.08 L359.75 53.62 L360.78 53.2 L361.81 52.8 L362.84 52.43 L363.87 52.11 L364.9 51.82 L365.93 51.57 L366.96 51.36 L367.99 51.2 L369.02 51.09 L370.05 51.02 L371.08 51 L372.11 51.01 L373.15 51.06 L374.18 51.12 L375.21 51.21 L376.24 51.33 L377.27 51.46 L378.3 51.62 L379.33 51.81 L380.36 52.01 L381.39 52.23 L382.42 52.47 L383.45 52.73 L384.48 53 L385.51 53.28 L386.54 53.57 L387.58 53.88 L388.61 54.19 L389.64 54.5" fill="none" stroke="#ff4800" stroke-width="1.3" stroke-dasharray="1.3 1.5"/>
<path d="M348.41 59.18 L349.44 58.69 L350.47 58.18 L351.5 57.66 L352.53 57.13 L353.56 56.6 L354.59 56.08 L355.62 55.56 L356.65 55.05 L357.68 54.55 L358.72 54.08 L359.75 53.62 L360.78 53.2 L361.81 52.8 L362.84 52.43 L363.87 52.11 L364.9 51.82 L365.93 51.57 L366.96 51.36 L367.99 51.2 L369.02 51.09 L370.05 51.02 L371.08 51 L372.11 51.01 L373.15 51.06 L374.18 51.12 L375.21 51.21 L376.24 51.33 L377.27 51.46 L378.3 51.62 L379.33 51.81 L380.36 52.01 L381.39 52.23 L382.42 52.47 L383.45 52.73 L384.48 53 L385.51 53.28 L386.54 53.57 L387.58 53.88 L388.61 54.19 L389.64 54.5" fill="none" stroke="#2440d8" stroke-width="1.3" stroke-dasharray="1.3 1.5" stroke-dashoffset="1.4"/>
<path d="M348.41 60.68 L349.44 60.19 L350.47 59.68 L351.5 59.16 L352.53 58.63 L353.56 58.1 L354.59 57.58 L355.62 57.06 L356.65 56.55 L357.68 56.05 L358.72 55.58 L359.75 55.12 L360.78 54.7 L361.81 54.3 L362.84 53.93 L363.87 53.61 L364.9 53.32 L365.93 53.07 L366.96 52.86 L367.99 52.7 L369.02 52.59 L370.05 52.52 L371.08 52.5 L372.11 52.51 L373.15 52.56 L374.18 52.62 L375.21 52.71 L376.24 52.83 L377.27 52.96 L378.3 53.12 L379.33 53.31 L380.36 53.51 L381.39 53.73 L382.42 53.97 L383.45 54.23 L384.48 54.5 L385.51 54.78 L386.54 55.07 L387.58 55.38 L388.61 55.69 L389.64 56" fill="none" stroke="#1848e0" stroke-width="1.3" stroke-dasharray="1.3 1.5"/>
<path d="M348.41 60.68 L349.44 60.19 L350.47 59.68 L351.5 59.16 L352.53 58.63 L353.56 58.1 L354.59 57.58 L355.62 57.06 L356.65 56.55 L357.68 56.05 L358.72 55.58 L359.75 55.12 L360.78 54.7 L361.81 54.3 L362.84 53.93 L363.87 53.61 L364.9 53.32 L365.93 53.07 L366.96 52.86 L367.99 52.7 L369.02 52.59 L370.05 52.52 L371.08 52.5 L372.11 52.51 L373.15 52.56 L374.18 52.62 L375.21 52.71 L376.24 52.83 L377.27 52.96 L378.3 53.12 L379.33 53.31 L380.36 53.51 L381.39 53.73 L382.42 53.97 L383.45 54.23 L384.48 54.5 L385.51 54.78 L386.54 55.07 L387.58 55.38 L388.61 55.69 L389.64 56" fill="none" stroke="#ff5a10" stroke-width="1.3" stroke-dasharray="1.3 1.5" stroke-dashoffset="1.4"/>
<path d="M393.8 68.5 H414.3" fill="none" stroke="#f0ff10" stroke-width="2.4" stroke-opacity="0.95" filter="url(#b1)"/>
<path d="M393.8 66.2 H414.3" fill="none" stroke="#00e0ff" stroke-width="1.6" stroke-opacity="1"/>
<path d="M394.8 64.7 H413.3" fill="none" stroke="#1838d8" stroke-width="1.5" stroke-opacity="1.0"/>
<path d="M395.8 63.2 H412.3" fill="none" stroke="#ff5000" stroke-width="1.3" stroke-opacity="1.0"/>
<path d="M395.8 61.8 H412.3" fill="none" stroke="#20d8ff" stroke-width="1.3" stroke-opacity="0.9"/>
<path d="M396.8 60.4 H411.3" fill="none" stroke="#fff000" stroke-width="1.2" stroke-opacity="0.8"/>
<path d="M397.8 58.9 H410.3" fill="none" stroke="#50e0ff" stroke-width="1.0" stroke-opacity="0.35"/>
<path d="M398.8 57.4 H409.3" fill="none" stroke="#f0ff30" stroke-width="1.0" stroke-opacity="0.3"/>
<path d="M394.8 44 H413.3" fill="none" stroke="#f4ff20" stroke-width="1.3" stroke-opacity="0.7" stroke-dasharray="5 3 7 4" filter="url(#b1)"/>
<path d="M394.8 40.5 H413.3" fill="none" stroke="#f4ff20" stroke-width="1.3" stroke-opacity="0.35" stroke-dasharray="5 3 7 4" filter="url(#b1)"/>
<path d="M394.8 24 H413.3" fill="none" stroke="#f4ff20" stroke-width="1.3" stroke-opacity="0.25" stroke-dasharray="5 3 7 4" filter="url(#b1)"/>
<path d="M424.27 48.77 L425.1 48.54 L425.92 48.32 L426.74 48.11 L427.56 47.91 L428.38 47.72 L429.21 47.54 L430.03 47.38 L430.85 47.23 L431.67 47.1 L432.5 46.98 L433.32 46.87 L434.14 46.79 L434.96 46.72 L435.78 46.66 L436.61 46.62 L437.43 46.6 L438.25 46.6 L439.07 46.62 L439.89 46.67 L440.72 46.74 L441.54 46.85 L442.36 46.97 L443.18 47.12 L444.01 47.3 L444.83 47.49 L445.65 47.71 L446.47 47.96 L447.29 48.22 L448.12 48.5 L448.94 48.8 L449.76 49.11 L450.58 49.44 L451.4 49.78 L452.23 50.13 L453.05 50.49 L453.87 50.86 L454.69 51.24 L455.52 51.62 L456.34 52 L457.16 52.38" fill="none" stroke="#f4ff20" stroke-width="1" stroke-opacity="0.5" stroke-dasharray="1.3 1.5" filter="url(#b1)"/>
<path d="M422.19 50.89 L423.11 50.61 L424.04 50.34 L424.97 50.07 L425.89 49.82 L426.82 49.59 L427.75 49.36 L428.67 49.15 L429.6 48.96 L430.52 48.79 L431.45 48.63 L432.38 48.49 L433.3 48.38 L434.23 48.28 L435.16 48.2 L436.08 48.15 L437.01 48.11 L437.94 48.1 L438.86 48.11 L439.79 48.16 L440.72 48.24 L441.64 48.36 L442.57 48.51 L443.5 48.69 L444.42 48.89 L445.35 49.13 L446.28 49.4 L447.2 49.69 L448.13 50 L449.06 50.34 L449.98 50.7 L450.91 51.07 L451.84 51.46 L452.76 51.86 L453.69 52.28 L454.62 52.7 L455.54 53.13 L456.47 53.56 L457.39 53.99 L458.32 54.42 L459.25 54.84" fill="none" stroke="#40d0ff" stroke-width="0.9" stroke-opacity="0.55" stroke-dasharray="1.3 1.5"/>
<path d="M420.62 52.79 L421.64 52.46 L422.66 52.15 L423.67 51.84 L424.69 51.55 L425.71 51.27 L426.73 51.01 L427.75 50.76 L428.76 50.53 L429.78 50.33 L430.8 50.14 L431.82 49.97 L432.83 49.83 L433.85 49.72 L434.87 49.62 L435.89 49.56 L436.91 49.52 L437.92 49.5 L438.94 49.52 L439.96 49.58 L440.98 49.67 L442 49.81 L443.01 49.99 L444.03 50.2 L445.05 50.45 L446.07 50.73 L447.09 51.05 L448.1 51.39 L449.12 51.76 L450.14 52.16 L451.16 52.57 L452.17 53.01 L453.19 53.46 L454.21 53.92 L455.23 54.38 L456.25 54.85 L457.26 55.33 L458.28 55.8 L459.3 56.26 L460.32 56.72 L461.34 57.16" fill="none" stroke="#ffe000" stroke-width="1.1" stroke-opacity="0.9" stroke-dasharray="1.3 1.5"/>
<path d="M415.4 62 L416.7 61.57 L418.01 61.14 L419.31 60.71 L420.62 60.29 L421.92 59.87 L423.23 59.48 L424.53 59.1 L425.84 58.74 L427.14 58.41 L428.45 58.1 L429.75 57.83 L431.06 57.59 L432.37 57.4 L433.67 57.23 L434.98 57.12 L436.28 57.04 L437.58 57 L438.89 57.02 L440.19 57.09 L441.5 57.24 L442.81 57.45 L444.11 57.72 L445.42 58.05 L446.72 58.43 L448.02 58.87 L449.33 59.34 L450.63 59.86 L451.94 60.41 L453.25 60.98 L454.55 61.57 L455.86 62.17 L457.16 62.78 L458.47 63.38 L459.77 63.97 L461.08 64.55 L462.38 65.09 L463.69 65.61 L464.99 66.08 L466.3 66.52 L467.6 66.9" fill="none" stroke="#f0ff10" stroke-width="2.2" stroke-opacity="0.85" filter="url(#b1)"/>
<path d="M415.4 59.6 L416.7 59.17 L418.01 58.74 L419.31 58.31 L420.62 57.89 L421.92 57.47 L423.23 57.08 L424.53 56.7 L425.84 56.34 L427.14 56.01 L428.45 55.7 L429.75 55.43 L431.06 55.19 L432.37 55 L433.67 54.83 L434.98 54.72 L436.28 54.64 L437.58 54.6 L438.89 54.62 L440.19 54.69 L441.5 54.84 L442.81 55.05 L444.11 55.32 L445.42 55.65 L446.72 56.03 L448.02 56.47 L449.33 56.94 L450.63 57.46 L451.94 58.01 L453.25 58.58 L454.55 59.17 L455.86 59.77 L457.16 60.38 L458.47 60.98 L459.77 61.57 L461.08 62.15 L462.38 62.69 L463.69 63.21 L464.99 63.68 L466.3 64.12 L467.6 64.5" fill="none" stroke="#00d8ff" stroke-width="2.0"/>
<path d="M419.05 54.8 L420.11 54.45 L421.17 54.11 L422.23 53.78 L423.28 53.46 L424.34 53.15 L425.4 52.86 L426.45 52.58 L427.51 52.32 L428.57 52.08 L429.62 51.86 L430.68 51.66 L431.74 51.49 L432.8 51.34 L433.85 51.22 L434.91 51.12 L435.97 51.05 L437.02 51.01 L438.08 51 L439.14 51.03 L440.19 51.09 L441.25 51.21 L442.31 51.36 L443.37 51.56 L444.42 51.79 L445.48 52.07 L446.54 52.38 L447.59 52.72 L448.65 53.09 L449.71 53.49 L450.77 53.91 L451.82 54.36 L452.88 54.82 L453.94 55.29 L454.99 55.77 L456.05 56.26 L457.11 56.75 L458.16 57.24 L459.22 57.73 L460.28 58.2 L461.34 58.66" fill="none" stroke="#ff4800" stroke-width="1.3" stroke-dasharray="1.3 1.5"/>
<path d="M419.05 54.8 L420.11 54.45 L421.17 54.11 L422.23 53.78 L423.28 53.46 L424.34 53.15 L425.4 52.86 L426.45 52.58 L427.51 52.32 L428.57 52.08 L429.62 51.86 L430.68 51.66 L431.74 51.49 L432.8 51.34 L433.85 51.22 L434.91 51.12 L435.97 51.05 L437.02 51.01 L438.08 51 L439.14 51.03 L440.19 51.09 L441.25 51.21 L442.31 51.36 L443.37 51.56 L444.42 51.79 L445.48 52.07 L446.54 52.38 L447.59 52.72 L448.65 53.09 L449.71 53.49 L450.77 53.91 L451.82 54.36 L452.88 54.82 L453.94 55.29 L454.99 55.77 L456.05 56.26 L457.11 56.75 L458.16 57.24 L459.22 57.73 L460.28 58.2 L461.34 58.66" fill="none" stroke="#2440d8" stroke-width="1.3" stroke-dasharray="1.3 1.5" stroke-dashoffset="1.4"/>
<path d="M419.05 56.3 L420.11 55.95 L421.17 55.61 L422.23 55.28 L423.28 54.96 L424.34 54.65 L425.4 54.36 L426.45 54.08 L427.51 53.82 L428.57 53.58 L429.62 53.36 L430.68 53.16 L431.74 52.99 L432.8 52.84 L433.85 52.72 L434.91 52.62 L435.97 52.55 L437.02 52.51 L438.08 52.5 L439.14 52.53 L440.19 52.59 L441.25 52.71 L442.31 52.86 L443.37 53.06 L444.42 53.29 L445.48 53.57 L446.54 53.88 L447.59 54.22 L448.65 54.59 L449.71 54.99 L450.77 55.41 L451.82 55.86 L452.88 56.32 L453.94 56.79 L454.99 57.27 L456.05 57.76 L457.11 58.25 L458.16 58.74 L459.22 59.23 L460.28 59.7 L461.34 60.16" fill="none" stroke="#1848e0" stroke-width="1.3" stroke-dasharray="1.3 1.5"/>
<path d="M419.05 56.3 L420.11 55.95 L421.17 55.61 L422.23 55.28 L423.28 54.96 L424.34 54.65 L425.4 54.36 L426.45 54.08 L427.51 53.82 L428.57 53.58 L429.62 53.36 L430.68 53.16 L431.74 52.99 L432.8 52.84 L433.85 52.72 L434.91 52.62 L435.97 52.55 L437.02 52.51 L438.08 52.5 L439.14 52.53 L440.19 52.59 L441.25 52.71 L442.31 52.86 L443.37 53.06 L444.42 53.29 L445.48 53.57 L446.54 53.88 L447.59 54.22 L448.65 54.59 L449.71 54.99 L450.77 55.41 L451.82 55.86 L452.88 56.32 L453.94 56.79 L454.99 57.27 L456.05 57.76 L457.11 58.25 L458.16 58.74 L459.22 59.23 L460.28 59.7 L461.34 60.16" fill="none" stroke="#ff5a10" stroke-width="1.3" stroke-dasharray="1.3 1.5" stroke-dashoffset="1.4"/>
<path d="M469.8 76.7 H488.3" fill="none" stroke="#f0ff10" stroke-width="2.4" stroke-opacity="0.95" filter="url(#b1)"/>
<path d="M469.8 74.4 H488.3" fill="none" stroke="#00e0ff" stroke-width="1.6" stroke-opacity="1"/>
<path d="M470.8 72.9 H487.3" fill="none" stroke="#1838d8" stroke-width="1.5" stroke-opacity="0.45"/>
<path d="M471.8 71.4 H486.3" fill="none" stroke="#ff5000" stroke-width="1.3" stroke-opacity="0.45"/>
<path d="M471.8 70 H486.3" fill="none" stroke="#20d8ff" stroke-width="1.3" stroke-opacity="0.405"/>
<path d="M472.8 68.6 H485.3" fill="none" stroke="#fff000" stroke-width="1.2" stroke-opacity="0.36000000000000004"/>
<path d="M473.8 67.1 H484.3" fill="none" stroke="#50e0ff" stroke-width="1.0" stroke-opacity="0.1575"/>
<path d="M474.8 65.6 H483.3" fill="none" stroke="#f0ff30" stroke-width="1.0" stroke-opacity="0.135"/>
<path d="M470.8 50 H487.3" fill="none" stroke="#f4ff20" stroke-width="1.3" stroke-opacity="0.4" stroke-dasharray="5 3 7 4" filter="url(#b1)"/>
<path d="M470.8 46 H487.3" fill="none" stroke="#f4ff20" stroke-width="1.3" stroke-opacity="0.4" stroke-dasharray="5 3 7 4" filter="url(#b1)"/>
<path d="M470.8 28 H487.3" fill="none" stroke="#f4ff20" stroke-width="1.3" stroke-opacity="0.25" stroke-dasharray="5 3 7 4" filter="url(#b1)"/>
<path d="M470.8 60.5 H487.3" fill="none" stroke="#f4ff20" stroke-width="1.3" stroke-opacity="0.4" stroke-dasharray="5 3 7 4" filter="url(#b1)"/>
<path d="M470.8 56.5 H487.3" fill="none" stroke="#f4ff20" stroke-width="1.3" stroke-opacity="0.4" stroke-dasharray="5 3 7 4" filter="url(#b1)"/>
<path d="M503.45 52.97 L504.28 52.55 L505.11 52.14 L505.94 51.73 L506.77 51.32 L507.61 50.91 L508.44 50.52 L509.27 50.13 L510.1 49.76 L510.93 49.4 L511.76 49.06 L512.59 48.73 L513.42 48.42 L514.26 48.13 L515.09 47.86 L515.92 47.62 L516.75 47.4 L517.58 47.2 L518.41 47.04 L519.24 46.89 L520.08 46.78 L520.91 46.69 L521.74 46.63 L522.57 46.6 L523.4 46.6 L524.23 46.63 L525.06 46.69 L525.89 46.77 L526.73 46.88 L527.56 47.01 L528.39 47.17 L529.22 47.36 L530.05 47.57 L530.88 47.79 L531.71 48.04 L532.54 48.31 L533.38 48.59 L534.21 48.89 L535.04 49.2 L535.87 49.52 L536.7 49.85" fill="none" stroke="#f4ff20" stroke-width="1" stroke-opacity="0.5" stroke-dasharray="1.3 1.5" filter="url(#b1)"/>
<path d="M501.55 55.41 L502.48 54.95 L503.4 54.49 L504.33 54.03 L505.25 53.57 L506.18 53.11 L507.11 52.65 L508.03 52.21 L508.96 51.78 L509.89 51.35 L510.81 50.95 L511.74 50.57 L512.66 50.2 L513.59 49.86 L514.52 49.55 L515.44 49.26 L516.37 49 L517.3 48.77 L518.22 48.57 L519.15 48.41 L520.08 48.28 L521 48.18 L521.93 48.12 L522.85 48.1 L523.78 48.11 L524.71 48.16 L525.63 48.24 L526.56 48.35 L527.49 48.5 L528.41 48.68 L529.34 48.89 L530.26 49.12 L531.19 49.38 L532.12 49.67 L533.04 49.98 L533.97 50.31 L534.89 50.65 L535.82 51 L536.75 51.37 L537.67 51.75 L538.6 52.12" fill="none" stroke="#40d0ff" stroke-width="0.9" stroke-opacity="0.55" stroke-dasharray="1.3 1.5"/>
<path d="M500.12 57.49 L501.13 57.01 L502.14 56.52 L503.15 56.02 L504.16 55.51 L505.17 55.01 L506.18 54.51 L507.19 54.01 L508.2 53.53 L509.21 53.06 L510.22 52.61 L511.23 52.18 L512.24 51.77 L513.25 51.38 L514.26 51.03 L515.27 50.71 L516.27 50.42 L517.28 50.17 L518.29 49.96 L519.3 49.78 L520.31 49.65 L521.32 49.56 L522.33 49.51 L523.34 49.5 L524.35 49.54 L525.36 49.61 L526.37 49.73 L527.38 49.88 L528.39 50.07 L529.4 50.3 L530.41 50.56 L531.42 50.85 L532.42 51.17 L533.43 51.51 L534.44 51.88 L535.45 52.26 L536.46 52.66 L537.47 53.06 L538.48 53.48 L539.49 53.89 L540.5 54.3" fill="none" stroke="#ffe000" stroke-width="1.1" stroke-opacity="0.9" stroke-dasharray="1.3 1.5"/>
<path d="M493 67.8 L494.19 67.43 L495.38 67.01 L496.56 66.55 L497.75 66.06 L498.94 65.54 L500.12 64.99 L501.31 64.42 L502.5 63.84 L503.69 63.25 L504.88 62.66 L506.06 62.07 L507.25 61.49 L508.44 60.92 L509.62 60.37 L510.81 59.85 L512 59.36 L513.19 58.91 L514.38 58.49 L515.56 58.12 L516.75 57.8 L517.94 57.53 L519.12 57.31 L520.31 57.15 L521.5 57.05 L522.69 57 L523.88 57.02 L525.06 57.09 L526.25 57.21 L527.44 57.39 L528.62 57.62 L529.81 57.9 L531 58.23 L532.19 58.59 L533.38 58.99 L534.56 59.42 L535.75 59.88 L536.94 60.35 L538.12 60.83 L539.31 61.32 L540.5 61.8" fill="none" stroke="#f0ff10" stroke-width="2.2" stroke-opacity="0.85" filter="url(#b1)"/>
<path d="M493 65.4 L494.19 65.03 L495.38 64.61 L496.56 64.15 L497.75 63.66 L498.94 63.14 L500.12 62.59 L501.31 62.02 L502.5 61.44 L503.69 60.85 L504.88 60.26 L506.06 59.67 L507.25 59.09 L508.44 58.52 L509.62 57.97 L510.81 57.45 L512 56.96 L513.19 56.51 L514.38 56.09 L515.56 55.72 L516.75 55.4 L517.94 55.13 L519.12 54.91 L520.31 54.75 L521.5 54.65 L522.69 54.6 L523.88 54.62 L525.06 54.69 L526.25 54.81 L527.44 54.99 L528.62 55.22 L529.81 55.5 L531 55.83 L532.19 56.19 L533.38 56.59 L534.56 57.02 L535.75 57.48 L536.94 57.95 L538.12 58.43 L539.31 58.92 L540.5 59.4" fill="none" stroke="#00d8ff" stroke-width="2.0"/>
<path d="M498.7 59.65 L499.75 59.17 L500.79 58.68 L501.83 58.17 L502.88 57.65 L503.93 57.13 L504.97 56.61 L506.01 56.09 L507.06 55.58 L508.11 55.08 L509.15 54.59 L510.19 54.12 L511.24 53.67 L512.28 53.25 L513.33 52.85 L514.38 52.49 L515.42 52.16 L516.47 51.87 L517.51 51.62 L518.55 51.41 L519.6 51.24 L520.64 51.12 L521.69 51.04 L522.74 51 L523.78 51.01 L524.83 51.07 L525.87 51.17 L526.91 51.31 L527.96 51.49 L529 51.71 L530.05 51.97 L531.1 52.26 L532.14 52.58 L533.18 52.93 L534.23 53.3 L535.27 53.69 L536.32 54.1 L537.37 54.52 L538.41 54.95 L539.46 55.37 L540.5 55.8" fill="none" stroke="#ff4800" stroke-width="1.3" stroke-dasharray="1.3 1.5"/>
<path d="M498.7 59.65 L499.75 59.17 L500.79 58.68 L501.83 58.17 L502.88 57.65 L503.93 57.13 L504.97 56.61 L506.01 56.09 L507.06 55.58 L508.11 55.08 L509.15 54.59 L510.19 54.12 L511.24 53.67 L512.28 53.25 L513.33 52.85 L514.38 52.49 L515.42 52.16 L516.47 51.87 L517.51 51.62 L518.55 51.41 L519.6 51.24 L520.64 51.12 L521.69 51.04 L522.74 51 L523.78 51.01 L524.83 51.07 L525.87 51.17 L526.91 51.31 L527.96 51.49 L529 51.71 L530.05 51.97 L531.1 52.26 L532.14 52.58 L533.18 52.93 L534.23 53.3 L535.27 53.69 L536.32 54.1 L537.37 54.52 L538.41 54.95 L539.46 55.37 L540.5 55.8" fill="none" stroke="#2440d8" stroke-width="1.3" stroke-dasharray="1.3 1.5" stroke-dashoffset="1.4"/>
<path d="M498.7 61.15 L499.75 60.67 L500.79 60.18 L501.83 59.67 L502.88 59.15 L503.93 58.63 L504.97 58.11 L506.01 57.59 L507.06 57.08 L508.11 56.58 L509.15 56.09 L510.19 55.62 L511.24 55.17 L512.28 54.75 L513.33 54.35 L514.38 53.99 L515.42 53.66 L516.47 53.37 L517.51 53.12 L518.55 52.91 L519.6 52.74 L520.64 52.62 L521.69 52.54 L522.74 52.5 L523.78 52.51 L524.83 52.57 L525.87 52.67 L526.91 52.81 L527.96 52.99 L529 53.21 L530.05 53.47 L531.1 53.76 L532.14 54.08 L533.18 54.43 L534.23 54.8 L535.27 55.19 L536.32 55.6 L537.37 56.02 L538.41 56.45 L539.46 56.87 L540.5 57.3" fill="none" stroke="#1848e0" stroke-width="1.3" stroke-dasharray="1.3 1.5"/>
<path d="M498.7 61.15 L499.75 60.67 L500.79 60.18 L501.83 59.67 L502.88 59.15 L503.93 58.63 L504.97 58.11 L506.01 57.59 L507.06 57.08 L508.11 56.58 L509.15 56.09 L510.19 55.62 L511.24 55.17 L512.28 54.75 L513.33 54.35 L514.38 53.99 L515.42 53.66 L516.47 53.37 L517.51 53.12 L518.55 52.91 L519.6 52.74 L520.64 52.62 L521.69 52.54 L522.74 52.5 L523.78 52.51 L524.83 52.57 L525.87 52.67 L526.91 52.81 L527.96 52.99 L529 53.21 L530.05 53.47 L531.1 53.76 L532.14 54.08 L533.18 54.43 L534.23 54.8 L535.27 55.19 L536.32 55.6 L537.37 56.02 L538.41 56.45 L539.46 56.87 L540.5 57.3" fill="none" stroke="#ff5a10" stroke-width="1.3" stroke-dasharray="1.3 1.5" stroke-dashoffset="1.4"/>
</g></g>
<path d="M328.5 106.2 v-2 M328.5 7.5 v2 M370.6 106.2 v-2 M370.6 7.5 v2 M412.7 106.2 v-2 M412.7 7.5 v2 M454.8 106.2 v-2 M454.8 7.5 v2 M496.9 106.2 v-2 M496.9 7.5 v2 M320.7 87.25 h2 M539.2 87.25 h-2 M320.7 68.1 h2 M539.2 68.1 h-2 M320.7 48.95 h2 M539.2 48.95 h-2 M320.7 29.8 h2 M539.2 29.8 h-2 M320.7 10.65 h2 M539.2 10.65 h-2" stroke="#111" stroke-width="0.6" fill="none"/>
<rect x="320.7" y="7.5" width="218.5" height="98.7" fill="none" stroke="#1a2a1a" stroke-width="0.6"/>
<text x="328.5" y="117.8" font-size="9.5" text-anchor="middle" font-weight="bold" >0</text>
<text x="370.6" y="117.8" font-size="9.5" text-anchor="middle" font-weight="bold" >50</text>
<text x="412.7" y="117.8" font-size="9.5" text-anchor="middle" font-weight="bold" >100</text>
<text x="454.8" y="117.8" font-size="9.5" text-anchor="middle" font-weight="bold" >150</text>
<text x="496.9" y="117.8" font-size="9.5" text-anchor="middle" font-weight="bold" >200</text>
<text x="545.3" y="117.8" font-size="9.5" text-anchor="end" font-weight="bold" >250</text>
<text x="318.5" y="91.05" font-size="9.5" text-anchor="end" font-weight="bold" >50</text>
<text x="318.5" y="71.9" font-size="9.5" text-anchor="end" font-weight="bold" >100</text>
<text x="318.5" y="52.75" font-size="9.5" text-anchor="end" font-weight="bold" >150</text>
<text x="318.5" y="33.6" font-size="9.5" text-anchor="end" font-weight="bold" >200</text>
<text x="318.5" y="14.45" font-size="9.5" text-anchor="end" font-weight="bold" >250</text>
<text x="429.5" y="128.2" font-size="10" text-anchor="middle" font-weight="bold" >Rotation angle&#160;&#160;<tspan font-weight="normal" font-size="8.5">&#952;</tspan> + 90&#176;&#160;&#160;<tspan dx="1">(&#176;)</tspan></text>
<text transform="translate(299.8 58) rotate(-90)" font-size="10.1" text-anchor="middle" font-weight="bold">Time delay&#160;&#160;(ns)</text>
<text x="419.5" y="147.9" font-size="10.8" text-anchor="middle">(<tspan font-weight="bold">b</tspan>)</text>
<g clip-path="url(#cC)">
<rect x="39.9" y="175.7" width="223.8" height="96.6" fill="#0000ff"/>
<defs><path id="k1" d="M37.2 205.83 L38.7 204.91 L40.2 204.09 L41.7 203.37 L43.2 202.76 L44.7 202.25 L46.2 201.86 L47.7 201.59 L49.2 201.44 L50.7 201.4 L52.2 201.49 L53.7 201.69 L55.2 202.01 L56.7 202.44 L58.2 202.99 L59.7 203.64 L61.2 204.4 L62.7 205.27 L64.2 206.22 L65.7 207.27 L67.2 208.4 L68.7 209.6 L70.2 210.88 L71.7 212.21 L73.2 213.6 L74.7 215.03 L76.2 216.49 L77.7 217.98 L79.2 219.49 L80.7 221 L82.2 222.52 L83.7 224.02 L85.2 225.5 L86.7 226.95 L88.2 228.36 L89.7 229.73 L91.2 231.04 L92.7 232.29 L94.2 233.46 L95.7 234.56 L97.2 235.57 L98.7 236.49 L100.2 237.31 L101.7 238.03 L103.2 238.64 L104.7 239.15 L106.2 239.54 L107.7 239.81 L109.2 239.96 L110.7 240 L112.2 239.91 L113.7 239.71 L115.2 239.39 L116.7 238.96 L118.2 238.41 L119.7 237.76 L121.2 237 L122.7 236.13 L124.2 235.18 L125.7 234.13 L127.2 233 L128.7 231.8 L130.2 230.52 L131.7 229.19 L133.2 227.8 L134.7 226.37 L136.2 224.91 L137.7 223.42 L139.2 221.91 L140.7 220.4 L142.2 218.88 L143.7 217.38 L145.2 215.9 L146.7 214.45 L148.2 213.04 L149.7 211.67 L151.2 210.36 L152.7 209.11 L154.2 207.94 L155.7 206.84 L157.2 205.83 L158.7 204.91 L160.2 204.09 L161.7 203.37 L163.2 202.76 L164.7 202.25 L166.2 201.86 L167.7 201.59 L169.2 201.44 L170.7 201.4 L172.2 201.49 L173.7 201.69 L175.2 202.01 L176.7 202.44 L178.2 202.99 L179.7 203.64 L181.2 204.4 L182.7 205.27 L184.2 206.22 L185.7 207.27 L187.2 208.4 L188.7 209.6 L190.2 210.88 L191.7 212.21 L193.2 213.6 L194.7 215.03 L196.2 216.49 L197.7 217.98 L199.2 219.49 L200.7 221 L202.2 222.52 L203.7 224.02 L205.2 225.5 L206.7 226.95 L208.2 228.36 L209.7 229.73 L211.2 231.04 L212.7 232.29 L214.2 233.46 L215.7 234.56 L217.2 235.57 L218.7 236.49 L220.2 237.31 L221.7 238.03 L223.2 238.64 L224.7 239.15 L226.2 239.54 L227.7 239.81 L229.2 239.96 L230.7 240 L232.2 239.91 L233.7 239.71 L235.2 239.39 L236.7 238.96 L238.2 238.41 L239.7 237.76 L241.2 237 L242.7 236.13 L244.2 235.18 L245.7 234.13 L247.2 233 L248.7 231.8 L250.2 230.52 L251.7 229.19 L253.2 227.8 L254.7 226.37 L256.2 224.91 L257.7 223.42 L259.2 221.91 L260.7 220.4 L262.2 218.88 L263.7 217.38 L265.2 215.9 L266.7 214.45 L268.2 213.04 L269.7 211.67 L269.7 11.67 L37.2 5.83Z"/></defs>
<use href="#k1" y="-0" fill="#85ff7a"/>
<use href="#k1" y="-0.6" fill="#3dffc2"/>
<use href="#k1" y="-1.2" fill="#12ffed"/>
<use href="#k1" y="-1.8" fill="#00f0ff"/>
<use href="#k1" y="-2.4" fill="#00d5ff"/>
<use href="#k1" y="-3" fill="#00bfff"/>
<use href="#k1" y="-3.6" fill="#00aeff"/>
<use href="#k1" y="-4.2" fill="#009eff"/>
<use href="#k1" y="-4.8" fill="#0094ff"/>
<use href="#k1" y="-5.4" fill="#008bff"/>
<use href="#k1" y="-6" fill="#0081ff"/>
<use href="#k1" y="-6.6" fill="#0077ff"/>
<use href="#k1" y="-7.6" fill="#006bff"/>
<use href="#k1" y="-8.6" fill="#0060ff"/>
<use href="#k1" y="-9.6" fill="#0058ff"/>
<use href="#k1" y="-10.6" fill="#004fff"/>
<use href="#k1" y="-11.6" fill="#0047ff"/>
<use href="#k1" y="-12.6" fill="#0041ff"/>
<use href="#k1" y="-13.6" fill="#003bff"/>
<use href="#k1" y="-14.6" fill="#0035ff"/>
<use href="#k1" y="-15.6" fill="#0030ff"/>
<use href="#k1" y="-16.6" fill="#0029ff"/>
<use href="#k1" y="-18.6" fill="#0021ff"/>
<use href="#k1" y="-20.6" fill="#001aff"/>
<use href="#k1" y="-22.6" fill="#0015ff"/>
<use href="#k1" y="-24.6" fill="#0011ff"/>
<use href="#k1" y="-26.6" fill="#000cff"/>
<use href="#k1" y="-28.6" fill="#0008ff"/>
<use href="#k1" y="-30.6" fill="#0004ff"/>
<use href="#k1" y="-32.6" fill="#0000fe"/>
<use href="#k1" y="-34.6" fill="#0000f9"/>
<use href="#k1" y="-36.6" fill="#0000f4"/>
<use href="#k1" y="-38.6" fill="#0000ee"/>
<use href="#k1" y="-40.6" fill="#0000e9"/>
<use href="#k1" y="-42.6" fill="#0000e4"/>
<use href="#k1" y="-44.6" fill="#0000de"/>
<use href="#k1" y="-46.6" fill="#0000d8"/>
<use href="#k1" y="-48.6" fill="#0000d2"/>
<use href="#k1" y="-50.6" fill="#0000cc"/>
<use href="#k1" y="-52.6" fill="#0000c5"/>
<use href="#k1" y="-54.6" fill="#0000be"/>
<use href="#k1" y="-56.6" fill="#0000b8"/>
<use href="#k1" y="-58.6" fill="#0000b2"/>
<use href="#k1" y="-60.6" fill="#0000ac"/>
<use href="#k1" y="-62.6" fill="#0000a8"/>
<use href="#k1" y="-64.6" fill="#0000a5"/>
<use href="#k1" y="-66.6" fill="#0000a2"/>
<use href="#k1" y="-68.6" fill="#00009f"/>
<defs><path id="k2" d="M37.2 205.83 L38.7 204.91 L40.2 204.09 L41.7 203.37 L43.2 202.76 L44.7 202.25 L46.2 201.86 L47.7 201.59 L49.2 201.44 L50.7 201.4 L52.2 201.49 L53.7 201.69 L55.2 202.01 L56.7 202.44 L58.2 202.99 L59.7 203.64 L61.2 204.4 L62.7 205.27 L64.2 206.22 L65.7 207.27 L67.2 208.4 L68.7 209.6 L70.2 210.88 L71.7 212.21 L73.2 213.6 L74.7 215.03 L76.2 216.49 L77.7 217.98 L79.2 219.49 L80.7 221 L82.2 222.52 L83.7 224.02 L85.2 225.5 L86.7 226.95 L88.2 228.36 L89.7 229.73 L91.2 231.04 L92.7 232.29 L94.2 233.46 L95.7 234.56 L97.2 235.57 L98.7 236.49 L100.2 237.31 L101.7 238.03 L103.2 238.64 L104.7 239.15 L106.2 239.54 L107.7 239.81 L109.2 239.96 L110.7 240 L112.2 239.91 L113.7 239.71 L115.2 239.39 L116.7 238.96 L118.2 238.41 L119.7 237.76 L121.2 237 L122.7 236.13 L124.2 235.18 L125.7 234.13 L127.2 233 L128.7 231.8 L130.2 230.52 L131.7 229.19 L133.2 227.8 L134.7 226.37 L136.2 224.91 L137.7 223.42 L139.2 221.91 L140.7 220.4 L142.2 218.88 L143.7 217.38 L145.2 215.9 L146.7 214.45 L148.2 213.04 L149.7 211.67 L151.2 210.36 L152.7 209.11 L154.2 207.94 L155.7 206.84 L157.2 205.83 L158.7 204.91 L160.2 204.09 L161.7 203.37 L163.2 202.76 L164.7 202.25 L166.2 201.86 L167.7 201.59 L169.2 201.44 L170.7 201.4 L172.2 201.49 L173.7 201.69 L175.2 202.01 L176.7 202.44 L178.2 202.99 L179.7 203.64 L181.2 204.4 L182.7 205.27 L184.2 206.22 L185.7 207.27 L187.2 208.4 L188.7 209.6 L190.2 210.88 L191.7 212.21 L193.2 213.6 L194.7 215.03 L196.2 216.49 L197.7 217.98 L199.2 219.49 L200.7 221 L202.2 222.52 L203.7 224.02 L205.2 225.5 L206.7 226.95 L208.2 228.36 L209.7 229.73 L211.2 231.04 L212.7 232.29 L214.2 233.46 L215.7 234.56 L217.2 235.57 L218.7 236.49 L220.2 237.31 L221.7 238.03 L223.2 238.64 L224.7 239.15 L226.2 239.54 L227.7 239.81 L229.2 239.96 L230.7 240 L232.2 239.91 L233.7 239.71 L235.2 239.39 L236.7 238.96 L238.2 238.41 L239.7 237.76 L241.2 237 L242.7 236.13 L244.2 235.18 L245.7 234.13 L247.2 233 L248.7 231.8 L250.2 230.52 L251.7 229.19 L253.2 227.8 L254.7 226.37 L256.2 224.91 L257.7 223.42 L259.2 221.91 L260.7 220.4 L262.2 218.88 L263.7 217.38 L265.2 215.9 L266.7 214.45 L268.2 213.04 L269.7 211.67 L269.7 411.67 L37.2 405.83Z"/></defs>
<use href="#k2" y="0" fill="#85ff7a"/>
<use href="#k2" y="0.6" fill="#3dffc2"/>
<use href="#k2" y="1.2" fill="#12ffed"/>
<use href="#k2" y="1.8" fill="#00f0ff"/>
<use href="#k2" y="2.4" fill="#00d5ff"/>
<use href="#k2" y="3" fill="#00bfff"/>
<use href="#k2" y="3.6" fill="#00aeff"/>
<use href="#k2" y="4.2" fill="#009eff"/>
<use href="#k2" y="4.8" fill="#0094ff"/>
<use href="#k2" y="5.4" fill="#008bff"/>
<use href="#k2" y="6" fill="#0081ff"/>
<use href="#k2" y="6.6" fill="#0077ff"/>
<use href="#k2" y="7.6" fill="#006bff"/>
<use href="#k2" y="8.6" fill="#0060ff"/>
<use href="#k2" y="9.6" fill="#0058ff"/>
<use href="#k2" y="10.6" fill="#004fff"/>
<use href="#k2" y="11.6" fill="#0047ff"/>
<use href="#k2" y="12.6" fill="#0041ff"/>
<use href="#k2" y="13.6" fill="#003bff"/>
<use href="#k2" y="14.6" fill="#0035ff"/>
<use href="#k2" y="15.6" fill="#0030ff"/>
<use href="#k2" y="16.6" fill="#0029ff"/>
<use href="#k2" y="18.6" fill="#0021ff"/>
<use href="#k2" y="20.6" fill="#001aff"/>
<use href="#k2" y="22.6" fill="#0015ff"/>
<use href="#k2" y="24.6" fill="#0011ff"/>
<use href="#k2" y="26.6" fill="#000cff"/>
<use href="#k2" y="28.6" fill="#0009ff"/>
<use href="#k2" y="30.6" fill="#0005ff"/>
<use href="#k2" y="32.6" fill="#0003ff"/>
<use href="#k2" y="34.6" fill="#0001ff"/>
<use href="#k2" y="36.6" fill="#0000ff"/>
<use href="#k2" y="38.6" fill="#0000fd"/>
<use href="#k2" y="40.6" fill="#0000fc"/>
<use href="#k2" y="42.6" fill="#0000fa"/>
<use href="#k2" y="44.6" fill="#0000f7"/>
<use href="#k2" y="46.6" fill="#0000f4"/>
<use href="#k2" y="48.6" fill="#0000f0"/>
<use href="#k2" y="50.6" fill="#0000ed"/>
<use href="#k2" y="52.6" fill="#0000e9"/>
<use href="#k2" y="54.6" fill="#0000e5"/>
<use href="#k2" y="56.6" fill="#0000e0"/>
<use href="#k2" y="58.6" fill="#0000dc"/>
<use href="#k2" y="60.6" fill="#0000d7"/>
<use href="#k2" y="62.6" fill="#0000d2"/>
<use href="#k2" y="64.6" fill="#0000cd"/>
<use href="#k2" y="66.6" fill="#0000c8"/>
<use href="#k2" y="68.6" fill="#0000c4"/>
<use href="#k2" y="70.6" fill="#0000c1"/>
<use href="#k2" y="72.6" fill="#0000be"/>
<path d="M37.2 205.83 L38.7 204.91 L40.2 204.09 L41.7 203.37 L43.2 202.76 L44.7 202.25 L46.2 201.86 L47.7 201.59 L49.2 201.44 L50.7 201.4 L52.2 201.49 L53.7 201.69 L55.2 202.01 L56.7 202.44 L58.2 202.99 L59.7 203.64 L61.2 204.4 L62.7 205.27 L64.2 206.22 L65.7 207.27 L67.2 208.4 L68.7 209.6 L70.2 210.88 L71.7 212.21 L73.2 213.6 L74.7 215.03 L76.2 216.49 L77.7 217.98 L79.2 219.49 L80.7 221 L82.2 222.52 L83.7 224.02 L85.2 225.5 L86.7 226.95 L88.2 228.36 L89.7 229.73 L91.2 231.04 L92.7 232.29 L94.2 233.46 L95.7 234.56 L97.2 235.57 L98.7 236.49 L100.2 237.31 L101.7 238.03 L103.2 238.64 L104.7 239.15 L106.2 239.54 L107.7 239.81 L109.2 239.96 L110.7 240 L112.2 239.91 L113.7 239.71 L115.2 239.39 L116.7 238.96 L118.2 238.41 L119.7 237.76 L121.2 237 L122.7 236.13 L124.2 235.18 L125.7 234.13 L127.2 233 L128.7 231.8 L130.2 230.52 L131.7 229.19 L133.2 227.8 L134.7 226.37 L136.2 224.91 L137.7 223.42 L139.2 221.91 L140.7 220.4 L142.2 218.88 L143.7 217.38 L145.2 215.9 L146.7 214.45 L148.2 213.04 L149.7 211.67 L151.2 210.36 L152.7 209.11 L154.2 207.94 L155.7 206.84 L157.2 205.83 L158.7 204.91 L160.2 204.09 L161.7 203.37 L163.2 202.76 L164.7 202.25 L166.2 201.86 L167.7 201.59 L169.2 201.44 L170.7 201.4 L172.2 201.49 L173.7 201.69 L175.2 202.01 L176.7 202.44 L178.2 202.99 L179.7 203.64 L181.2 204.4 L182.7 205.27 L184.2 206.22 L185.7 207.27 L187.2 208.4 L188.7 209.6 L190.2 210.88 L191.7 212.21 L193.2 213.6 L194.7 215.03 L196.2 216.49 L197.7 217.98 L199.2 219.49 L200.7 221 L202.2 222.52 L203.7 224.02 L205.2 225.5 L206.7 226.95 L208.2 228.36 L209.7 229.73 L211.2 231.04 L212.7 232.29 L214.2 233.46 L215.7 234.56 L217.2 235.57 L218.7 236.49 L220.2 237.31 L221.7 238.03 L223.2 238.64 L224.7 239.15 L226.2 239.54 L227.7 239.81 L229.2 239.96 L230.7 240 L232.2 239.91 L233.7 239.71 L235.2 239.39 L236.7 238.96 L238.2 238.41 L239.7 237.76 L241.2 237 L242.7 236.13 L244.2 235.18 L245.7 234.13 L247.2 233 L248.7 231.8 L250.2 230.52 L251.7 229.19 L253.2 227.8 L254.7 226.37 L256.2 224.91 L257.7 223.42 L259.2 221.91 L260.7 220.4 L262.2 218.88 L263.7 217.38 L265.2 215.9 L266.7 214.45 L268.2 213.04 L269.7 211.67" fill="none" stroke="#9cff50" stroke-width="1.1"/>
<path d="M37.2 205.83 L38.7 204.91 L40.2 204.09 L41.7 203.37 L43.2 202.76 L44.7 202.25 L46.2 201.86 L47.7 201.59 L49.2 201.44 L50.7 201.4 L52.2 201.49 L53.7 201.69 L55.2 202.01 L56.7 202.44 L58.2 202.99 L59.7 203.64 L61.2 204.4 L62.7 205.27 L64.2 206.22 L65.7 207.27 L67.2 208.4 L68.7 209.6 L70.2 210.88 L71.7 212.21 L73.2 213.6 L74.7 215.03 L76.2 216.49 L77.7 217.98 L79.2 219.49 L80.7 221 L82.2 222.52 L83.7 224.02 L85.2 225.5 L86.7 226.95 L88.2 228.36 L89.7 229.73 L91.2 231.04 L92.7 232.29 L94.2 233.46 L95.7 234.56 L97.2 235.57 L98.7 236.49 L100.2 237.31 L101.7 238.03 L103.2 238.64 L104.7 239.15 L106.2 239.54 L107.7 239.81 L109.2 239.96 L110.7 240 L112.2 239.91 L113.7 239.71 L115.2 239.39 L116.7 238.96 L118.2 238.41 L119.7 237.76 L121.2 237 L122.7 236.13 L124.2 235.18 L125.7 234.13 L127.2 233 L128.7 231.8 L130.2 230.52 L131.7 229.19 L133.2 227.8 L134.7 226.37 L136.2 224.91 L137.7 223.42 L139.2 221.91 L140.7 220.4 L142.2 218.88 L143.7 217.38 L145.2 215.9 L146.7 214.45 L148.2 213.04 L149.7 211.67 L151.2 210.36 L152.7 209.11 L154.2 207.94 L155.7 206.84 L157.2 205.83 L158.7 204.91 L160.2 204.09 L161.7 203.37 L163.2 202.76 L164.7 202.25 L166.2 201.86 L167.7 201.59 L169.2 201.44 L170.7 201.4 L172.2 201.49 L173.7 201.69 L175.2 202.01 L176.7 202.44 L178.2 202.99 L179.7 203.64 L181.2 204.4 L182.7 205.27 L184.2 206.22 L185.7 207.27 L187.2 208.4 L188.7 209.6 L190.2 210.88 L191.7 212.21 L193.2 213.6 L194.7 215.03 L196.2 216.49 L197.7 217.98 L199.2 219.49 L200.7 221 L202.2 222.52 L203.7 224.02 L205.2 225.5 L206.7 226.95 L208.2 228.36 L209.7 229.73 L211.2 231.04 L212.7 232.29 L214.2 233.46 L215.7 234.56 L217.2 235.57 L218.7 236.49 L220.2 237.31 L221.7 238.03 L223.2 238.64 L224.7 239.15 L226.2 239.54 L227.7 239.81 L229.2 239.96 L230.7 240 L232.2 239.91 L233.7 239.71 L235.2 239.39 L236.7 238.96 L238.2 238.41 L239.7 237.76 L241.2 237 L242.7 236.13 L244.2 235.18 L245.7 234.13 L247.2 233 L248.7 231.8 L250.2 230.52 L251.7 229.19 L253.2 227.8 L254.7 226.37 L256.2 224.91 L257.7 223.42 L259.2 221.91 L260.7 220.4 L262.2 218.88 L263.7 217.38 L265.2 215.9 L266.7 214.45 L268.2 213.04 L269.7 211.67" fill="none" stroke="#ff9000" stroke-width="0.7" stroke-dasharray="1 5 2 9 1 3"/>
<circle cx="76.2" cy="216.49" r="0.8" fill="#f4fff0"/>
<circle cx="94.2" cy="233.46" r="0.8" fill="#f4fff0"/>
<circle cx="182.2" cy="204.97" r="0.8" fill="#f4fff0"/>
<circle cx="206.2" cy="226.47" r="0.8" fill="#f4fff0"/>
<circle cx="236.2" cy="239.12" r="0.8" fill="#f4fff0"/>
</g>
<text x="68.7" y="284.2" font-size="10" text-anchor="middle" font-weight="bold" >-20</text>
<text x="111.2" y="284.2" font-size="10" text-anchor="middle" font-weight="bold" >0</text>
<text x="151.2" y="284.2" font-size="10" text-anchor="middle" font-weight="bold" >20</text>
<text x="191.2" y="284.2" font-size="10" text-anchor="middle" font-weight="bold" >40</text>
<text x="231.2" y="284.2" font-size="10" text-anchor="middle" font-weight="bold" >60</text>
<text x="38.3" y="263.8" font-size="10.2" text-anchor="end" font-weight="bold" >5500</text>
<text x="38.3" y="236.5" font-size="10.2" text-anchor="end" font-weight="bold" >5600</text>
<text x="38.3" y="209.2" font-size="10.2" text-anchor="end" font-weight="bold" >5700</text>
<text x="38.3" y="181.9" font-size="10.2" text-anchor="end" font-weight="bold" >5800</text>
<text x="150" y="294.2" font-size="10.3" text-anchor="middle" font-weight="bold" >Euler angle&#160;&#160;<tspan font-weight="normal" font-size="8.5">&#952;</tspan>&#160;&#160;(&#176;)</text>
<text transform="translate(12.8 224.5) rotate(-90)" font-size="10.5" text-anchor="middle" font-weight="bold">Phase velocity&#160;&#160;(m/s)</text>
<text x="150.7" y="162.3" font-size="10.5" text-anchor="middle" font-weight="bold">u<tspan font-size="7.5" dy="4.5">3</tspan></text>
<text x="136.9" y="318.1" font-size="10.8" text-anchor="middle">(<tspan font-weight="bold">c</tspan>)</text>
<g clip-path="url(#cD)">
<rect x="323.9" y="178.7" width="216.2" height="93.5" fill="#004dff"/>
<clipPath id="r1"><path d="M312.94 178.7 L343.54 178.7 L331.74 272.2 L324.74 272.2Z"/></clipPath>
<g clip-path="url(#r1)">
<defs><path id="k3" d="M308.24 205.81 L308.74 205.35 L309.24 204.89 L309.74 204.45 L310.24 204.02 L310.74 203.61 L311.24 203.2 L311.74 202.81 L312.24 202.42 L312.74 202.05 L313.24 201.69 L313.74 201.35 L314.24 201.01 L314.74 200.69 L315.24 200.38 L315.74 200.08 L316.24 199.79 L316.74 199.51 L317.24 199.25 L317.74 198.99 L318.24 198.75 L318.74 198.52 L319.24 198.31 L319.74 198.1 L320.24 197.91 L320.74 197.72 L321.24 197.55 L321.74 197.39 L322.24 197.25 L322.74 197.11 L323.24 196.99 L323.74 196.88 L324.24 196.78 L324.74 196.69 L325.24 196.61 L325.74 196.55 L326.24 196.49 L326.74 196.45 L327.24 196.42 L327.74 196.41 L328.24 196.4 L328.74 196.41 L329.24 196.42 L329.74 196.45 L330.24 196.49 L330.74 196.55 L331.24 196.61 L331.74 196.69 L332.24 196.78 L332.74 196.88 L333.24 196.99 L333.74 197.11 L334.24 197.25 L334.74 197.39 L335.24 197.55 L335.74 197.72 L336.24 197.91 L336.74 198.1 L337.24 198.31 L337.74 198.52 L338.24 198.75 L338.74 198.99 L339.24 199.25 L339.74 199.51 L340.24 199.79 L340.74 200.08 L341.24 200.38 L341.74 200.69 L342.24 201.01 L342.74 201.35 L343.24 201.69 L343.74 202.05 L344.24 202.42 L344.74 202.81 L345.24 203.2 L345.74 203.61 L346.24 204.02 L346.74 204.45 L347.24 204.89 L347.74 205.35 L348.24 205.81 L348.24 5.81 L308.24 5.81Z"/></defs>
<defs><clipPath id="k3c"><rect x="319.44" y="0" width="17.6" height="525"/></clipPath></defs>
<use href="#k3" fill="#00f2ff"/>
<g clip-path="url(#k3c)">
<use href="#k3" y="-0" fill="#8fff70"/>
<use href="#k3" y="-0.6" fill="#47ffb8"/>
<use href="#k3" y="-1.2" fill="#1effe1"/>
<use href="#k3" y="-1.8" fill="#0dfff2"/>
<use href="#k3" y="-2.4" fill="#02fffd"/>
<use href="#k3" y="-3" fill="#00faff"/>
<use href="#k3" y="-3.6" fill="#00f3ff"/>
</g>
<use href="#k3" y="-4.2" fill="#00edff"/>
<use href="#k3" y="-4.8" fill="#00e8ff"/>
<use href="#k3" y="-5.4" fill="#00e2ff"/>
<use href="#k3" y="-6" fill="#00ddff"/>
<use href="#k3" y="-6.6" fill="#00d6ff"/>
<use href="#k3" y="-7.6" fill="#00cfff"/>
<use href="#k3" y="-8.6" fill="#00c8ff"/>
<use href="#k3" y="-9.6" fill="#00c1ff"/>
<use href="#k3" y="-10.6" fill="#00bbff"/>
<use href="#k3" y="-11.6" fill="#00b4ff"/>
<use href="#k3" y="-12.6" fill="#00b1ff"/>
<use href="#k3" y="-13.6" fill="#00aeff"/>
<use href="#k3" y="-14.6" fill="#00abff"/>
<use href="#k3" y="-15.6" fill="#00a8ff"/>
<use href="#k3" y="-16.6" fill="#00a3ff"/>
<use href="#k3" y="-18.6" fill="#009dff"/>
<use href="#k3" y="-20.6" fill="#009aff"/>
<use href="#k3" y="-22.6" fill="#0097ff"/>
<use href="#k3" y="-24.6" fill="#0093ff"/>
<use href="#k3" y="-26.6" fill="#0090ff"/>
<use href="#k3" y="-28.6" fill="#008dff"/>
<use href="#k3" y="-30.6" fill="#008aff"/>
<use href="#k3" y="-32.6" fill="#008aff"/>
<use href="#k3" y="-34.6" fill="#008aff"/>
<use href="#k3" y="-36.6" fill="#008aff"/>
<use href="#k3" y="-38.6" fill="#008aff"/>
<use href="#k3" y="-40.6" fill="#008aff"/>
<use href="#k3" y="-42.6" fill="#008aff"/>
<use href="#k3" y="-44.6" fill="#008aff"/>
<use href="#k3" y="-46.6" fill="#008aff"/>
<use href="#k3" y="-48.6" fill="#008aff"/>
<use href="#k3" y="-50.6" fill="#008aff"/>
<use href="#k3" y="-52.6" fill="#008aff"/>
<use href="#k3" y="-54.6" fill="#008aff"/>
<use href="#k3" y="-56.6" fill="#008aff"/>
<use href="#k3" y="-58.6" fill="#008aff"/>
<use href="#k3" y="-60.6" fill="#008aff"/>
<defs><path id="k4" d="M308.24 205.81 L308.74 205.35 L309.24 204.89 L309.74 204.45 L310.24 204.02 L310.74 203.61 L311.24 203.2 L311.74 202.81 L312.24 202.42 L312.74 202.05 L313.24 201.69 L313.74 201.35 L314.24 201.01 L314.74 200.69 L315.24 200.38 L315.74 200.08 L316.24 199.79 L316.74 199.51 L317.24 199.25 L317.74 198.99 L318.24 198.75 L318.74 198.52 L319.24 198.31 L319.74 198.1 L320.24 197.91 L320.74 197.72 L321.24 197.55 L321.74 197.39 L322.24 197.25 L322.74 197.11 L323.24 196.99 L323.74 196.88 L324.24 196.78 L324.74 196.69 L325.24 196.61 L325.74 196.55 L326.24 196.49 L326.74 196.45 L327.24 196.42 L327.74 196.41 L328.24 196.4 L328.74 196.41 L329.24 196.42 L329.74 196.45 L330.24 196.49 L330.74 196.55 L331.24 196.61 L331.74 196.69 L332.24 196.78 L332.74 196.88 L333.24 196.99 L333.74 197.11 L334.24 197.25 L334.74 197.39 L335.24 197.55 L335.74 197.72 L336.24 197.91 L336.74 198.1 L337.24 198.31 L337.74 198.52 L338.24 198.75 L338.74 198.99 L339.24 199.25 L339.74 199.51 L340.24 199.79 L340.74 200.08 L341.24 200.38 L341.74 200.69 L342.24 201.01 L342.74 201.35 L343.24 201.69 L343.74 202.05 L344.24 202.42 L344.74 202.81 L345.24 203.2 L345.74 203.61 L346.24 204.02 L346.74 204.45 L347.24 204.89 L347.74 205.35 L348.24 205.81 L348.24 405.81 L308.24 405.81Z"/></defs>
<defs><clipPath id="k4c"><rect x="319.44" y="0" width="17.6" height="525"/></clipPath></defs>
<use href="#k4" fill="#00faff"/>
<g clip-path="url(#k4c)">
<use href="#k4" y="0" fill="#8fff70"/>
<use href="#k4" y="0.6" fill="#47ffb8"/>
<use href="#k4" y="1.2" fill="#1fffe0"/>
<use href="#k4" y="1.8" fill="#11ffee"/>
<use href="#k4" y="2.4" fill="#07fff8"/>
<use href="#k4" y="3" fill="#02fffd"/>
<use href="#k4" y="3.6" fill="#00fbff"/>
</g>
<use href="#k4" y="4.2" fill="#00f6ff"/>
<use href="#k4" y="4.8" fill="#00f1ff"/>
<use href="#k4" y="5.4" fill="#00ecff"/>
<use href="#k4" y="6" fill="#00e8ff"/>
<use href="#k4" y="6.6" fill="#00e3ff"/>
<use href="#k4" y="7.6" fill="#00ddff"/>
<use href="#k4" y="8.6" fill="#00d7ff"/>
<use href="#k4" y="9.6" fill="#00d3ff"/>
<use href="#k4" y="10.6" fill="#00cfff"/>
<use href="#k4" y="11.6" fill="#00cbff"/>
<use href="#k4" y="12.6" fill="#00c8ff"/>
<use href="#k4" y="13.6" fill="#00c4ff"/>
<use href="#k4" y="14.6" fill="#00c0ff"/>
<use href="#k4" y="15.6" fill="#00bcff"/>
<use href="#k4" y="16.6" fill="#00b9ff"/>
<use href="#k4" y="18.6" fill="#00b4ff"/>
<use href="#k4" y="20.6" fill="#00aeff"/>
<use href="#k4" y="22.6" fill="#00a9ff"/>
<use href="#k4" y="24.6" fill="#00a5ff"/>
<use href="#k4" y="26.6" fill="#00a0ff"/>
<use href="#k4" y="28.6" fill="#009bff"/>
<use href="#k4" y="30.6" fill="#0097ff"/>
<use href="#k4" y="32.6" fill="#0092ff"/>
<use href="#k4" y="34.6" fill="#008dff"/>
<use href="#k4" y="36.6" fill="#0088ff"/>
<use href="#k4" y="38.6" fill="#0083ff"/>
<use href="#k4" y="40.6" fill="#007dff"/>
<use href="#k4" y="42.6" fill="#0078ff"/>
<use href="#k4" y="44.6" fill="#0073ff"/>
<use href="#k4" y="46.6" fill="#006eff"/>
<use href="#k4" y="48.6" fill="#006aff"/>
<use href="#k4" y="50.6" fill="#0065ff"/>
<use href="#k4" y="52.6" fill="#0061ff"/>
<use href="#k4" y="54.6" fill="#005dff"/>
<use href="#k4" y="56.6" fill="#0059ff"/>
<use href="#k4" y="58.6" fill="#0056ff"/>
<use href="#k4" y="60.6" fill="#0053ff"/>
<use href="#k4" y="62.6" fill="#004fff"/>
<use href="#k4" y="64.6" fill="#004dff"/>
<use href="#k4" y="66.6" fill="#004bff"/>
<use href="#k4" y="68.6" fill="#0049ff"/>
<use href="#k4" y="70.6" fill="#0047ff"/>
<use href="#k4" y="72.6" fill="#0046ff"/>
<use href="#k4" y="74.6" fill="#0045ff"/>
<use href="#k4" y="76.6" fill="#0044ff"/>
<use href="#k4" y="78.6" fill="#0043ff"/>
</g>
<clipPath id="r2"><path d="M388.9 178.7 L419.5 178.7 L407.7 272.2 L400.7 272.2Z"/></clipPath>
<g clip-path="url(#r2)">
<defs><path id="k5" d="M384.2 218.31 L384.7 217.85 L385.2 217.39 L385.7 216.95 L386.2 216.52 L386.7 216.11 L387.2 215.7 L387.7 215.31 L388.2 214.92 L388.7 214.55 L389.2 214.19 L389.7 213.85 L390.2 213.51 L390.7 213.19 L391.2 212.88 L391.7 212.58 L392.2 212.29 L392.7 212.01 L393.2 211.75 L393.7 211.49 L394.2 211.25 L394.7 211.02 L395.2 210.81 L395.7 210.6 L396.2 210.41 L396.7 210.22 L397.2 210.05 L397.7 209.89 L398.2 209.75 L398.7 209.61 L399.2 209.49 L399.7 209.38 L400.2 209.28 L400.7 209.19 L401.2 209.11 L401.7 209.05 L402.2 208.99 L402.7 208.95 L403.2 208.92 L403.7 208.91 L404.2 208.9 L404.7 208.91 L405.2 208.92 L405.7 208.95 L406.2 208.99 L406.7 209.05 L407.2 209.11 L407.7 209.19 L408.2 209.28 L408.7 209.38 L409.2 209.49 L409.7 209.61 L410.2 209.75 L410.7 209.89 L411.2 210.05 L411.7 210.22 L412.2 210.41 L412.7 210.6 L413.2 210.81 L413.7 211.02 L414.2 211.25 L414.7 211.49 L415.2 211.75 L415.7 212.01 L416.2 212.29 L416.7 212.58 L417.2 212.88 L417.7 213.19 L418.2 213.51 L418.7 213.85 L419.2 214.19 L419.7 214.55 L420.2 214.92 L420.7 215.31 L421.2 215.7 L421.7 216.11 L422.2 216.52 L422.7 216.95 L423.2 217.39 L423.7 217.85 L424.2 218.31 L424.2 18.31 L384.2 18.31Z"/></defs>
<defs><clipPath id="k5c"><rect x="394.7" y="0" width="19" height="525"/></clipPath></defs>
<use href="#k5" fill="#00f2ff"/>
<g clip-path="url(#k5c)">
<use href="#k5" y="-0" fill="#8fff70"/>
<use href="#k5" y="-0.6" fill="#47ffb8"/>
<use href="#k5" y="-1.2" fill="#1effe1"/>
<use href="#k5" y="-1.8" fill="#0dfff2"/>
<use href="#k5" y="-2.4" fill="#02fffd"/>
<use href="#k5" y="-3" fill="#00faff"/>
<use href="#k5" y="-3.6" fill="#00f3ff"/>
</g>
<use href="#k5" y="-4.2" fill="#00edff"/>
<use href="#k5" y="-4.8" fill="#00e8ff"/>
<use href="#k5" y="-5.4" fill="#00e2ff"/>
<use href="#k5" y="-6" fill="#00ddff"/>
<use href="#k5" y="-6.6" fill="#00d6ff"/>
<use href="#k5" y="-7.6" fill="#00cfff"/>
<use href="#k5" y="-8.6" fill="#00c8ff"/>
<use href="#k5" y="-9.6" fill="#00c1ff"/>
<use href="#k5" y="-10.6" fill="#00bbff"/>
<use href="#k5" y="-11.6" fill="#00b4ff"/>
<use href="#k5" y="-12.6" fill="#00b1ff"/>
<use href="#k5" y="-13.6" fill="#00aeff"/>
<use href="#k5" y="-14.6" fill="#00abff"/>
<use href="#k5" y="-15.6" fill="#00a8ff"/>
<use href="#k5" y="-16.6" fill="#00a3ff"/>
<use href="#k5" y="-18.6" fill="#009dff"/>
<use href="#k5" y="-20.6" fill="#009aff"/>
<use href="#k5" y="-22.6" fill="#0097ff"/>
<use href="#k5" y="-24.6" fill="#0093ff"/>
<use href="#k5" y="-26.6" fill="#0090ff"/>
<use href="#k5" y="-28.6" fill="#008dff"/>
<use href="#k5" y="-30.6" fill="#008aff"/>
<use href="#k5" y="-32.6" fill="#008aff"/>
<use href="#k5" y="-34.6" fill="#008aff"/>
<use href="#k5" y="-36.6" fill="#008aff"/>
<use href="#k5" y="-38.6" fill="#008aff"/>
<use href="#k5" y="-40.6" fill="#008aff"/>
<use href="#k5" y="-42.6" fill="#008aff"/>
<use href="#k5" y="-44.6" fill="#008aff"/>
<use href="#k5" y="-46.6" fill="#008aff"/>
<use href="#k5" y="-48.6" fill="#008aff"/>
<use href="#k5" y="-50.6" fill="#008aff"/>
<use href="#k5" y="-52.6" fill="#008aff"/>
<use href="#k5" y="-54.6" fill="#008aff"/>
<use href="#k5" y="-56.6" fill="#008aff"/>
<use href="#k5" y="-58.6" fill="#008aff"/>
<use href="#k5" y="-60.6" fill="#008aff"/>
<defs><path id="k6" d="M384.2 218.31 L384.7 217.85 L385.2 217.39 L385.7 216.95 L386.2 216.52 L386.7 216.11 L387.2 215.7 L387.7 215.31 L388.2 214.92 L388.7 214.55 L389.2 214.19 L389.7 213.85 L390.2 213.51 L390.7 213.19 L391.2 212.88 L391.7 212.58 L392.2 212.29 L392.7 212.01 L393.2 211.75 L393.7 211.49 L394.2 211.25 L394.7 211.02 L395.2 210.81 L395.7 210.6 L396.2 210.41 L396.7 210.22 L397.2 210.05 L397.7 209.89 L398.2 209.75 L398.7 209.61 L399.2 209.49 L399.7 209.38 L400.2 209.28 L400.7 209.19 L401.2 209.11 L401.7 209.05 L402.2 208.99 L402.7 208.95 L403.2 208.92 L403.7 208.91 L404.2 208.9 L404.7 208.91 L405.2 208.92 L405.7 208.95 L406.2 208.99 L406.7 209.05 L407.2 209.11 L407.7 209.19 L408.2 209.28 L408.7 209.38 L409.2 209.49 L409.7 209.61 L410.2 209.75 L410.7 209.89 L411.2 210.05 L411.7 210.22 L412.2 210.41 L412.7 210.6 L413.2 210.81 L413.7 211.02 L414.2 211.25 L414.7 211.49 L415.2 211.75 L415.7 212.01 L416.2 212.29 L416.7 212.58 L417.2 212.88 L417.7 213.19 L418.2 213.51 L418.7 213.85 L419.2 214.19 L419.7 214.55 L420.2 214.92 L420.7 215.31 L421.2 215.7 L421.7 216.11 L422.2 216.52 L422.7 216.95 L423.2 217.39 L423.7 217.85 L424.2 218.31 L424.2 418.31 L384.2 418.31Z"/></defs>
<defs><clipPath id="k6c"><rect x="394.7" y="0" width="19" height="525"/></clipPath></defs>
<use href="#k6" fill="#00faff"/>
<g clip-path="url(#k6c)">
<use href="#k6" y="0" fill="#8fff70"/>
<use href="#k6" y="0.6" fill="#47ffb8"/>
<use href="#k6" y="1.2" fill="#1fffe0"/>
<use href="#k6" y="1.8" fill="#11ffee"/>
<use href="#k6" y="2.4" fill="#07fff8"/>
<use href="#k6" y="3" fill="#02fffd"/>
<use href="#k6" y="3.6" fill="#00fbff"/>
</g>
<use href="#k6" y="4.2" fill="#00f6ff"/>
<use href="#k6" y="4.8" fill="#00f1ff"/>
<use href="#k6" y="5.4" fill="#00ecff"/>
<use href="#k6" y="6" fill="#00e8ff"/>
<use href="#k6" y="6.6" fill="#00e3ff"/>
<use href="#k6" y="7.6" fill="#00ddff"/>
<use href="#k6" y="8.6" fill="#00d7ff"/>
<use href="#k6" y="9.6" fill="#00d3ff"/>
<use href="#k6" y="10.6" fill="#00cfff"/>
<use href="#k6" y="11.6" fill="#00cbff"/>
<use href="#k6" y="12.6" fill="#00c8ff"/>
<use href="#k6" y="13.6" fill="#00c4ff"/>
<use href="#k6" y="14.6" fill="#00c0ff"/>
<use href="#k6" y="15.6" fill="#00bcff"/>
<use href="#k6" y="16.6" fill="#00b9ff"/>
<use href="#k6" y="18.6" fill="#00b4ff"/>
<use href="#k6" y="20.6" fill="#00aeff"/>
<use href="#k6" y="22.6" fill="#00a9ff"/>
<use href="#k6" y="24.6" fill="#00a5ff"/>
<use href="#k6" y="26.6" fill="#00a0ff"/>
<use href="#k6" y="28.6" fill="#009bff"/>
<use href="#k6" y="30.6" fill="#0097ff"/>
<use href="#k6" y="32.6" fill="#0092ff"/>
<use href="#k6" y="34.6" fill="#008dff"/>
<use href="#k6" y="36.6" fill="#0088ff"/>
<use href="#k6" y="38.6" fill="#0083ff"/>
<use href="#k6" y="40.6" fill="#007dff"/>
<use href="#k6" y="42.6" fill="#0078ff"/>
<use href="#k6" y="44.6" fill="#0073ff"/>
<use href="#k6" y="46.6" fill="#006eff"/>
<use href="#k6" y="48.6" fill="#006aff"/>
<use href="#k6" y="50.6" fill="#0065ff"/>
<use href="#k6" y="52.6" fill="#0061ff"/>
<use href="#k6" y="54.6" fill="#005dff"/>
<use href="#k6" y="56.6" fill="#0059ff"/>
<use href="#k6" y="58.6" fill="#0056ff"/>
<use href="#k6" y="60.6" fill="#0053ff"/>
<use href="#k6" y="62.6" fill="#004fff"/>
<use href="#k6" y="64.6" fill="#004dff"/>
<use href="#k6" y="66.6" fill="#004bff"/>
<use href="#k6" y="68.6" fill="#0049ff"/>
<use href="#k6" y="70.6" fill="#0047ff"/>
<use href="#k6" y="72.6" fill="#0046ff"/>
<use href="#k6" y="74.6" fill="#0045ff"/>
<use href="#k6" y="76.6" fill="#0044ff"/>
<use href="#k6" y="78.6" fill="#0043ff"/>
</g>
<clipPath id="r3"><path d="M464.86 178.7 L495.46 178.7 L483.66 272.2 L476.66 272.2Z"/></clipPath>
<g clip-path="url(#r3)">
<defs><path id="k7" d="M460.16 205.81 L460.66 205.35 L461.16 204.89 L461.66 204.45 L462.16 204.02 L462.66 203.61 L463.16 203.2 L463.66 202.81 L464.16 202.42 L464.66 202.05 L465.16 201.69 L465.66 201.35 L466.16 201.01 L466.66 200.69 L467.16 200.38 L467.66 200.08 L468.16 199.79 L468.66 199.51 L469.16 199.25 L469.66 198.99 L470.16 198.75 L470.66 198.52 L471.16 198.31 L471.66 198.1 L472.16 197.91 L472.66 197.72 L473.16 197.55 L473.66 197.39 L474.16 197.25 L474.66 197.11 L475.16 196.99 L475.66 196.88 L476.16 196.78 L476.66 196.69 L477.16 196.61 L477.66 196.55 L478.16 196.49 L478.66 196.45 L479.16 196.42 L479.66 196.41 L480.16 196.4 L480.66 196.41 L481.16 196.42 L481.66 196.45 L482.16 196.49 L482.66 196.55 L483.16 196.61 L483.66 196.69 L484.16 196.78 L484.66 196.88 L485.16 196.99 L485.66 197.11 L486.16 197.25 L486.66 197.39 L487.16 197.55 L487.66 197.72 L488.16 197.91 L488.66 198.1 L489.16 198.31 L489.66 198.52 L490.16 198.75 L490.66 198.99 L491.16 199.25 L491.66 199.51 L492.16 199.79 L492.66 200.08 L493.16 200.38 L493.66 200.69 L494.16 201.01 L494.66 201.35 L495.16 201.69 L495.66 202.05 L496.16 202.42 L496.66 202.81 L497.16 203.2 L497.66 203.61 L498.16 204.02 L498.66 204.45 L499.16 204.89 L499.66 205.35 L500.16 205.81 L500.16 5.81 L460.16 5.81Z"/></defs>
<defs><clipPath id="k7c"><rect x="471.36" y="0" width="17.6" height="525"/></clipPath></defs>
<use href="#k7" fill="#00f2ff"/>
<g clip-path="url(#k7c)">
<use href="#k7" y="-0" fill="#8fff70"/>
<use href="#k7" y="-0.6" fill="#47ffb8"/>
<use href="#k7" y="-1.2" fill="#1effe1"/>
<use href="#k7" y="-1.8" fill="#0dfff2"/>
<use href="#k7" y="-2.4" fill="#02fffd"/>
<use href="#k7" y="-3" fill="#00faff"/>
<use href="#k7" y="-3.6" fill="#00f3ff"/>
</g>
<use href="#k7" y="-4.2" fill="#00edff"/>
<use href="#k7" y="-4.8" fill="#00e8ff"/>
<use href="#k7" y="-5.4" fill="#00e2ff"/>
<use href="#k7" y="-6" fill="#00ddff"/>
<use href="#k7" y="-6.6" fill="#00d6ff"/>
<use href="#k7" y="-7.6" fill="#00cfff"/>
<use href="#k7" y="-8.6" fill="#00c8ff"/>
<use href="#k7" y="-9.6" fill="#00c1ff"/>
<use href="#k7" y="-10.6" fill="#00bbff"/>
<use href="#k7" y="-11.6" fill="#00b4ff"/>
<use href="#k7" y="-12.6" fill="#00b1ff"/>
<use href="#k7" y="-13.6" fill="#00aeff"/>
<use href="#k7" y="-14.6" fill="#00abff"/>
<use href="#k7" y="-15.6" fill="#00a8ff"/>
<use href="#k7" y="-16.6" fill="#00a3ff"/>
<use href="#k7" y="-18.6" fill="#009dff"/>
<use href="#k7" y="-20.6" fill="#009aff"/>
<use href="#k7" y="-22.6" fill="#0097ff"/>
<use href="#k7" y="-24.6" fill="#0093ff"/>
<use href="#k7" y="-26.6" fill="#0090ff"/>
<use href="#k7" y="-28.6" fill="#008dff"/>
<use href="#k7" y="-30.6" fill="#008aff"/>
<use href="#k7" y="-32.6" fill="#008aff"/>
<use href="#k7" y="-34.6" fill="#008aff"/>
<use href="#k7" y="-36.6" fill="#008aff"/>
<use href="#k7" y="-38.6" fill="#008aff"/>
<use href="#k7" y="-40.6" fill="#008aff"/>
<use href="#k7" y="-42.6" fill="#008aff"/>
<use href="#k7" y="-44.6" fill="#008aff"/>
<use href="#k7" y="-46.6" fill="#008aff"/>
<use href="#k7" y="-48.6" fill="#008aff"/>
<use href="#k7" y="-50.6" fill="#008aff"/>
<use href="#k7" y="-52.6" fill="#008aff"/>
<use href="#k7" y="-54.6" fill="#008aff"/>
<use href="#k7" y="-56.6" fill="#008aff"/>
<use href="#k7" y="-58.6" fill="#008aff"/>
<use href="#k7" y="-60.6" fill="#008aff"/>
<defs><path id="k8" d="M460.16 205.81 L460.66 205.35 L461.16 204.89 L461.66 204.45 L462.16 204.02 L462.66 203.61 L463.16 203.2 L463.66 202.81 L464.16 202.42 L464.66 202.05 L465.16 201.69 L465.66 201.35 L466.16 201.01 L466.66 200.69 L467.16 200.38 L467.66 200.08 L468.16 199.79 L468.66 199.51 L469.16 199.25 L469.66 198.99 L470.16 198.75 L470.66 198.52 L471.16 198.31 L471.66 198.1 L472.16 197.91 L472.66 197.72 L473.16 197.55 L473.66 197.39 L474.16 197.25 L474.66 197.11 L475.16 196.99 L475.66 196.88 L476.16 196.78 L476.66 196.69 L477.16 196.61 L477.66 196.55 L478.16 196.49 L478.66 196.45 L479.16 196.42 L479.66 196.41 L480.16 196.4 L480.66 196.41 L481.16 196.42 L481.66 196.45 L482.16 196.49 L482.66 196.55 L483.16 196.61 L483.66 196.69 L484.16 196.78 L484.66 196.88 L485.16 196.99 L485.66 197.11 L486.16 197.25 L486.66 197.39 L487.16 197.55 L487.66 197.72 L488.16 197.91 L488.66 198.1 L489.16 198.31 L489.66 198.52 L490.16 198.75 L490.66 198.99 L491.16 199.25 L491.66 199.51 L492.16 199.79 L492.66 200.08 L493.16 200.38 L493.66 200.69 L494.16 201.01 L494.66 201.35 L495.16 201.69 L495.66 202.05 L496.16 202.42 L496.66 202.81 L497.16 203.2 L497.66 203.61 L498.16 204.02 L498.66 204.45 L499.16 204.89 L499.66 205.35 L500.16 205.81 L500.16 405.81 L460.16 405.81Z"/></defs>
<defs><clipPath id="k8c"><rect x="471.36" y="0" width="17.6" height="525"/></clipPath></defs>
<use href="#k8" fill="#00faff"/>
<g clip-path="url(#k8c)">
<use href="#k8" y="0" fill="#8fff70"/>
<use href="#k8" y="0.6" fill="#47ffb8"/>
<use href="#k8" y="1.2" fill="#1fffe0"/>
<use href="#k8" y="1.8" fill="#11ffee"/>
<use href="#k8" y="2.4" fill="#07fff8"/>
<use href="#k8" y="3" fill="#02fffd"/>
<use href="#k8" y="3.6" fill="#00fbff"/>
</g>
<use href="#k8" y="4.2" fill="#00f6ff"/>
<use href="#k8" y="4.8" fill="#00f1ff"/>
<use href="#k8" y="5.4" fill="#00ecff"/>
<use href="#k8" y="6" fill="#00e8ff"/>
<use href="#k8" y="6.6" fill="#00e3ff"/>
<use href="#k8" y="7.6" fill="#00ddff"/>
<use href="#k8" y="8.6" fill="#00d7ff"/>
<use href="#k8" y="9.6" fill="#00d3ff"/>
<use href="#k8" y="10.6" fill="#00cfff"/>
<use href="#k8" y="11.6" fill="#00cbff"/>
<use href="#k8" y="12.6" fill="#00c8ff"/>
<use href="#k8" y="13.6" fill="#00c4ff"/>
<use href="#k8" y="14.6" fill="#00c0ff"/>
<use href="#k8" y="15.6" fill="#00bcff"/>
<use href="#k8" y="16.6" fill="#00b9ff"/>
<use href="#k8" y="18.6" fill="#00b4ff"/>
<use href="#k8" y="20.6" fill="#00aeff"/>
<use href="#k8" y="22.6" fill="#00a9ff"/>
<use href="#k8" y="24.6" fill="#00a5ff"/>
<use href="#k8" y="26.6" fill="#00a0ff"/>
<use href="#k8" y="28.6" fill="#009bff"/>
<use href="#k8" y="30.6" fill="#0097ff"/>
<use href="#k8" y="32.6" fill="#0092ff"/>
<use href="#k8" y="34.6" fill="#008dff"/>
<use href="#k8" y="36.6" fill="#0088ff"/>
<use href="#k8" y="38.6" fill="#0083ff"/>
<use href="#k8" y="40.6" fill="#007dff"/>
<use href="#k8" y="42.6" fill="#0078ff"/>
<use href="#k8" y="44.6" fill="#0073ff"/>
<use href="#k8" y="46.6" fill="#006eff"/>
<use href="#k8" y="48.6" fill="#006aff"/>
<use href="#k8" y="50.6" fill="#0065ff"/>
<use href="#k8" y="52.6" fill="#0061ff"/>
<use href="#k8" y="54.6" fill="#005dff"/>
<use href="#k8" y="56.6" fill="#0059ff"/>
<use href="#k8" y="58.6" fill="#0056ff"/>
<use href="#k8" y="60.6" fill="#0053ff"/>
<use href="#k8" y="62.6" fill="#004fff"/>
<use href="#k8" y="64.6" fill="#004dff"/>
<use href="#k8" y="66.6" fill="#004bff"/>
<use href="#k8" y="68.6" fill="#0049ff"/>
<use href="#k8" y="70.6" fill="#0047ff"/>
<use href="#k8" y="72.6" fill="#0046ff"/>
<use href="#k8" y="74.6" fill="#0045ff"/>
<use href="#k8" y="76.6" fill="#0044ff"/>
<use href="#k8" y="78.6" fill="#0043ff"/>
</g>
<clipPath id="r4"><path d="M343.54 178.7 L388.9 178.7 L400.7 272.2 L331.74 272.2Z"/></clipPath>
<g clip-path="url(#r4)">
<defs><path id="k9" d="M322.22 207.88 L322.72 207.88 L323.22 207.88 L323.72 207.88 L324.22 207.88 L324.72 207.88 L325.22 207.88 L325.72 207.88 L326.22 207.88 L326.72 207.88 L327.22 207.88 L327.72 207.88 L328.22 207.88 L328.72 207.88 L329.22 207.88 L329.72 207.88 L330.22 207.88 L330.72 207.88 L331.22 207.88 L331.72 207.88 L332.22 207.88 L332.72 207.88 L333.22 208.14 L333.72 208.44 L334.22 208.76 L334.72 209.09 L335.22 209.43 L335.72 209.78 L336.22 210.15 L336.72 210.53 L337.22 210.91 L337.72 211.31 L338.22 211.72 L338.72 212.14 L339.22 212.57 L339.72 213.01 L340.22 213.45 L340.72 213.91 L341.22 214.37 L341.72 214.83 L342.22 215.3 L342.72 215.78 L343.22 216.27 L343.72 216.75 L344.22 217.24 L344.72 217.74 L345.22 218.24 L345.72 218.73 L346.22 219.23 L346.72 219.73 L347.22 220.24 L347.72 220.74 L348.22 221.24 L348.72 221.73 L349.22 222.23 L349.72 222.72 L350.22 223.21 L350.72 223.7 L351.22 224.18 L351.72 224.66 L352.22 225.13 L352.72 225.59 L353.22 226.05 L353.72 226.5 L354.22 226.94 L354.72 227.37 L355.22 227.8 L355.72 228.21 L356.22 228.62 L356.72 229.01 L357.22 229.4 L357.72 229.77 L358.22 230.13 L358.72 230.48 L359.22 230.82 L359.72 231.14 L360.22 231.45 L360.72 231.74 L361.22 232.03 L361.72 232.29 L362.22 232.55 L362.72 232.78 L363.22 233.01 L363.72 233.21 L364.22 233.4 L364.72 233.58 L365.22 233.74 L365.72 233.88 L366.22 234 L366.72 234.11 L367.22 234.2 L367.72 234.28 L368.22 234.33 L368.72 234.37 L369.22 234.39 L369.72 234.4 L370.22 234.39 L370.72 234.36 L371.22 234.31 L371.72 234.25 L372.22 234.17 L372.72 234.08 L373.22 233.96 L373.72 233.84 L374.22 233.69 L374.72 233.53 L375.22 233.36 L375.72 233.17 L376.22 232.96 L376.72 232.74 L377.22 232.51 L377.72 232.26 L378.22 232 L378.72 231.73 L379.22 231.44 L379.72 231.15 L380.22 230.84 L380.72 230.52 L381.22 230.2 L381.72 229.86 L382.22 229.52 L382.72 229.16 L383.22 228.8 L383.72 228.44 L384.22 228.07 L384.72 227.69 L385.22 227.31 L385.72 226.92 L386.22 226.53 L386.72 226.14 L387.22 225.75 L387.72 225.35 L388.22 224.96 L388.72 224.56 L389.22 224.17 L389.72 223.78 L390.22 223.39 L390.72 223.01 L391.22 222.63 L391.72 222.25 L392.22 221.88 L392.72 221.52 L393.22 221.16 L393.72 220.81 L394.22 220.47 L394.72 220.14 L395.22 219.81 L395.72 219.5 L396.22 219.2 L396.72 218.91 L397.22 218.63 L397.72 218.36 L398.22 218.1 L398.72 217.86 L399.22 217.64 L399.72 217.42 L400.22 217.22 L400.72 217.04 L401.22 216.87 L401.72 216.72 L402.22 216.58 L402.72 216.51 L403.22 216.51 L403.72 216.51 L404.22 216.51 L404.72 216.51 L405.22 216.51 L405.72 216.51 L406.22 216.51 L406.72 216.51 L407.22 216.51 L407.72 216.51 L408.22 216.51 L408.72 216.51 L409.22 216.51 L409.72 216.51 L410.22 216.51 L410.22 16.51 L322.22 7.88Z"/></defs>
<defs><clipPath id="k9c"><rect x="341.12" y="0" width="51.6" height="525"/></clipPath></defs>
<use href="#k9" fill="#00f2ff"/>
<g clip-path="url(#k9c)">
<use href="#k9" y="-0" fill="#8fff70"/>
<use href="#k9" y="-0.6" fill="#47ffb8"/>
<use href="#k9" y="-1.2" fill="#1effe1"/>
<use href="#k9" y="-1.8" fill="#0dfff2"/>
<use href="#k9" y="-2.4" fill="#02fffd"/>
<use href="#k9" y="-3" fill="#00faff"/>
<use href="#k9" y="-3.6" fill="#00f3ff"/>
</g>
<use href="#k9" y="-4.2" fill="#00eeff"/>
<use href="#k9" y="-4.8" fill="#00e9ff"/>
<use href="#k9" y="-5.4" fill="#00e4ff"/>
<use href="#k9" y="-6" fill="#00dfff"/>
<use href="#k9" y="-6.6" fill="#00daff"/>
<use href="#k9" y="-7.6" fill="#00d4ff"/>
<use href="#k9" y="-8.6" fill="#00cdff"/>
<use href="#k9" y="-9.6" fill="#00c7ff"/>
<use href="#k9" y="-10.6" fill="#00c1ff"/>
<use href="#k9" y="-11.6" fill="#00bbff"/>
<use href="#k9" y="-12.6" fill="#00b5ff"/>
<use href="#k9" y="-13.6" fill="#00b1ff"/>
<use href="#k9" y="-14.6" fill="#00adff"/>
<use href="#k9" y="-15.6" fill="#00a8ff"/>
<use href="#k9" y="-16.6" fill="#00a2ff"/>
<use href="#k9" y="-18.6" fill="#009bff"/>
<use href="#k9" y="-20.6" fill="#0095ff"/>
<use href="#k9" y="-22.6" fill="#008eff"/>
<use href="#k9" y="-24.6" fill="#0088ff"/>
<use href="#k9" y="-26.6" fill="#0083ff"/>
<use href="#k9" y="-28.6" fill="#007eff"/>
<use href="#k9" y="-30.6" fill="#0079ff"/>
<use href="#k9" y="-32.6" fill="#0074ff"/>
<use href="#k9" y="-34.6" fill="#0070ff"/>
<use href="#k9" y="-36.6" fill="#006dff"/>
<use href="#k9" y="-38.6" fill="#0069ff"/>
<use href="#k9" y="-40.6" fill="#0066ff"/>
<use href="#k9" y="-42.6" fill="#0062ff"/>
<use href="#k9" y="-44.6" fill="#005fff"/>
<use href="#k9" y="-46.6" fill="#005dff"/>
<use href="#k9" y="-48.6" fill="#005aff"/>
<use href="#k9" y="-50.6" fill="#0057ff"/>
<use href="#k9" y="-52.6" fill="#0055ff"/>
<use href="#k9" y="-54.6" fill="#0052ff"/>
<use href="#k9" y="-56.6" fill="#0052ff"/>
<use href="#k9" y="-58.6" fill="#0052ff"/>
<use href="#k9" y="-60.6" fill="#0052ff"/>
<defs><path id="k10" d="M322.22 207.88 L322.72 207.88 L323.22 207.88 L323.72 207.88 L324.22 207.88 L324.72 207.88 L325.22 207.88 L325.72 207.88 L326.22 207.88 L326.72 207.88 L327.22 207.88 L327.72 207.88 L328.22 207.88 L328.72 207.88 L329.22 207.88 L329.72 207.88 L330.22 207.88 L330.72 207.88 L331.22 207.88 L331.72 207.88 L332.22 207.88 L332.72 207.88 L333.22 208.14 L333.72 208.44 L334.22 208.76 L334.72 209.09 L335.22 209.43 L335.72 209.78 L336.22 210.15 L336.72 210.53 L337.22 210.91 L337.72 211.31 L338.22 211.72 L338.72 212.14 L339.22 212.57 L339.72 213.01 L340.22 213.45 L340.72 213.91 L341.22 214.37 L341.72 214.83 L342.22 215.3 L342.72 215.78 L343.22 216.27 L343.72 216.75 L344.22 217.24 L344.72 217.74 L345.22 218.24 L345.72 218.73 L346.22 219.23 L346.72 219.73 L347.22 220.24 L347.72 220.74 L348.22 221.24 L348.72 221.73 L349.22 222.23 L349.72 222.72 L350.22 223.21 L350.72 223.7 L351.22 224.18 L351.72 224.66 L352.22 225.13 L352.72 225.59 L353.22 226.05 L353.72 226.5 L354.22 226.94 L354.72 227.37 L355.22 227.8 L355.72 228.21 L356.22 228.62 L356.72 229.01 L357.22 229.4 L357.72 229.77 L358.22 230.13 L358.72 230.48 L359.22 230.82 L359.72 231.14 L360.22 231.45 L360.72 231.74 L361.22 232.03 L361.72 232.29 L362.22 232.55 L362.72 232.78 L363.22 233.01 L363.72 233.21 L364.22 233.4 L364.72 233.58 L365.22 233.74 L365.72 233.88 L366.22 234 L366.72 234.11 L367.22 234.2 L367.72 234.28 L368.22 234.33 L368.72 234.37 L369.22 234.39 L369.72 234.4 L370.22 234.39 L370.72 234.36 L371.22 234.31 L371.72 234.25 L372.22 234.17 L372.72 234.08 L373.22 233.96 L373.72 233.84 L374.22 233.69 L374.72 233.53 L375.22 233.36 L375.72 233.17 L376.22 232.96 L376.72 232.74 L377.22 232.51 L377.72 232.26 L378.22 232 L378.72 231.73 L379.22 231.44 L379.72 231.15 L380.22 230.84 L380.72 230.52 L381.22 230.2 L381.72 229.86 L382.22 229.52 L382.72 229.16 L383.22 228.8 L383.72 228.44 L384.22 228.07 L384.72 227.69 L385.22 227.31 L385.72 226.92 L386.22 226.53 L386.72 226.14 L387.22 225.75 L387.72 225.35 L388.22 224.96 L388.72 224.56 L389.22 224.17 L389.72 223.78 L390.22 223.39 L390.72 223.01 L391.22 222.63 L391.72 222.25 L392.22 221.88 L392.72 221.52 L393.22 221.16 L393.72 220.81 L394.22 220.47 L394.72 220.14 L395.22 219.81 L395.72 219.5 L396.22 219.2 L396.72 218.91 L397.22 218.63 L397.72 218.36 L398.22 218.1 L398.72 217.86 L399.22 217.64 L399.72 217.42 L400.22 217.22 L400.72 217.04 L401.22 216.87 L401.72 216.72 L402.22 216.58 L402.72 216.51 L403.22 216.51 L403.72 216.51 L404.22 216.51 L404.72 216.51 L405.22 216.51 L405.72 216.51 L406.22 216.51 L406.72 216.51 L407.22 216.51 L407.72 216.51 L408.22 216.51 L408.72 216.51 L409.22 216.51 L409.72 216.51 L410.22 216.51 L410.22 416.51 L322.22 407.88Z"/></defs>
<defs><clipPath id="k10c"><rect x="341.12" y="0" width="51.6" height="525"/></clipPath></defs>
<use href="#k10" fill="#00faff"/>
<g clip-path="url(#k10c)">
<use href="#k10" y="0" fill="#8fff70"/>
<use href="#k10" y="0.6" fill="#47ffb8"/>
<use href="#k10" y="1.2" fill="#1fffe0"/>
<use href="#k10" y="1.8" fill="#11ffee"/>
<use href="#k10" y="2.4" fill="#07fff8"/>
<use href="#k10" y="3" fill="#02fffd"/>
<use href="#k10" y="3.6" fill="#00fbff"/>
</g>
<use href="#k10" y="4.2" fill="#00f7ff"/>
<use href="#k10" y="4.8" fill="#00f4ff"/>
<use href="#k10" y="5.4" fill="#00f1ff"/>
<use href="#k10" y="6" fill="#00eeff"/>
<use href="#k10" y="6.6" fill="#00e9ff"/>
<use href="#k10" y="7.6" fill="#00e4ff"/>
<use href="#k10" y="8.6" fill="#00dfff"/>
<use href="#k10" y="9.6" fill="#00daff"/>
<use href="#k10" y="10.6" fill="#00d5ff"/>
<use href="#k10" y="11.6" fill="#00d0ff"/>
<use href="#k10" y="12.6" fill="#00cbff"/>
<use href="#k10" y="13.6" fill="#00c6ff"/>
<use href="#k10" y="14.6" fill="#00c2ff"/>
<use href="#k10" y="15.6" fill="#00beff"/>
<use href="#k10" y="16.6" fill="#00b8ff"/>
<use href="#k10" y="18.6" fill="#00b2ff"/>
<use href="#k10" y="20.6" fill="#00acff"/>
<use href="#k10" y="22.6" fill="#00a6ff"/>
<use href="#k10" y="24.6" fill="#00a0ff"/>
<use href="#k10" y="26.6" fill="#009bff"/>
<use href="#k10" y="28.6" fill="#0096ff"/>
<use href="#k10" y="30.6" fill="#0091ff"/>
<use href="#k10" y="32.6" fill="#008cff"/>
<use href="#k10" y="34.6" fill="#0088ff"/>
<use href="#k10" y="36.6" fill="#0083ff"/>
<use href="#k10" y="38.6" fill="#007eff"/>
<use href="#k10" y="40.6" fill="#0079ff"/>
<use href="#k10" y="42.6" fill="#0074ff"/>
<use href="#k10" y="44.6" fill="#0070ff"/>
<use href="#k10" y="46.6" fill="#006bff"/>
<use href="#k10" y="48.6" fill="#0066ff"/>
<use href="#k10" y="50.6" fill="#0062ff"/>
<use href="#k10" y="52.6" fill="#005eff"/>
<use href="#k10" y="54.6" fill="#005aff"/>
<use href="#k10" y="56.6" fill="#0057ff"/>
<use href="#k10" y="58.6" fill="#0053ff"/>
<use href="#k10" y="60.6" fill="#0052ff"/>
<use href="#k10" y="62.6" fill="#0051ff"/>
<use href="#k10" y="64.6" fill="#004fff"/>
<use href="#k10" y="66.6" fill="#004eff"/>
<use href="#k10" y="68.6" fill="#004dff"/>
<use href="#k10" y="70.6" fill="#004cff"/>
<use href="#k10" y="72.6" fill="#004bff"/>
<use href="#k10" y="74.6" fill="#004aff"/>
<use href="#k10" y="76.6" fill="#0049ff"/>
<use href="#k10" y="78.6" fill="#0048ff"/>
</g>
<clipPath id="r5"><path d="M419.5 178.7 L464.86 178.7 L476.66 272.2 L407.7 272.2Z"/></clipPath>
<g clip-path="url(#r5)">
<defs><path id="k11" d="M398.18 216.51 L398.68 216.51 L399.18 216.51 L399.68 216.51 L400.18 216.51 L400.68 216.51 L401.18 216.51 L401.68 216.51 L402.18 216.51 L402.68 216.51 L403.18 216.51 L403.68 216.51 L404.18 216.51 L404.68 216.51 L405.18 216.51 L405.68 216.51 L406.18 216.58 L406.68 216.72 L407.18 216.87 L407.68 217.04 L408.18 217.22 L408.68 217.42 L409.18 217.64 L409.68 217.86 L410.18 218.1 L410.68 218.36 L411.18 218.63 L411.68 218.91 L412.18 219.2 L412.68 219.5 L413.18 219.81 L413.68 220.14 L414.18 220.47 L414.68 220.81 L415.18 221.16 L415.68 221.52 L416.18 221.88 L416.68 222.25 L417.18 222.63 L417.68 223.01 L418.18 223.39 L418.68 223.78 L419.18 224.17 L419.68 224.56 L420.18 224.96 L420.68 225.35 L421.18 225.75 L421.68 226.14 L422.18 226.53 L422.68 226.92 L423.18 227.31 L423.68 227.69 L424.18 228.07 L424.68 228.44 L425.18 228.8 L425.68 229.16 L426.18 229.52 L426.68 229.86 L427.18 230.2 L427.68 230.52 L428.18 230.84 L428.68 231.15 L429.18 231.44 L429.68 231.73 L430.18 232 L430.68 232.26 L431.18 232.51 L431.68 232.74 L432.18 232.96 L432.68 233.17 L433.18 233.36 L433.68 233.53 L434.18 233.69 L434.68 233.84 L435.18 233.96 L435.68 234.08 L436.18 234.17 L436.68 234.25 L437.18 234.31 L437.68 234.36 L438.18 234.39 L438.68 234.4 L439.18 234.39 L439.68 234.37 L440.18 234.33 L440.68 234.28 L441.18 234.2 L441.68 234.11 L442.18 234 L442.68 233.88 L443.18 233.74 L443.68 233.58 L444.18 233.4 L444.68 233.21 L445.18 233.01 L445.68 232.78 L446.18 232.55 L446.68 232.29 L447.18 232.03 L447.68 231.74 L448.18 231.45 L448.68 231.14 L449.18 230.82 L449.68 230.48 L450.18 230.13 L450.68 229.77 L451.18 229.4 L451.68 229.01 L452.18 228.62 L452.68 228.21 L453.18 227.8 L453.68 227.37 L454.18 226.94 L454.68 226.5 L455.18 226.05 L455.68 225.59 L456.18 225.13 L456.68 224.66 L457.18 224.18 L457.68 223.7 L458.18 223.21 L458.68 222.72 L459.18 222.23 L459.68 221.73 L460.18 221.24 L460.68 220.74 L461.18 220.24 L461.68 219.73 L462.18 219.23 L462.68 218.73 L463.18 218.24 L463.68 217.74 L464.18 217.24 L464.68 216.75 L465.18 216.27 L465.68 215.78 L466.18 215.3 L466.68 214.83 L467.18 214.37 L467.68 213.91 L468.18 213.45 L468.68 213.01 L469.18 212.57 L469.68 212.14 L470.18 211.72 L470.68 211.31 L471.18 210.91 L471.68 210.53 L472.18 210.15 L472.68 209.78 L473.18 209.43 L473.68 209.09 L474.18 208.76 L474.68 208.44 L475.18 208.14 L475.68 207.88 L476.18 207.88 L476.68 207.88 L477.18 207.88 L477.68 207.88 L478.18 207.88 L478.68 207.88 L479.18 207.88 L479.68 207.88 L480.18 207.88 L480.68 207.88 L481.18 207.88 L481.68 207.88 L482.18 207.88 L482.68 207.88 L483.18 207.88 L483.68 207.88 L484.18 207.88 L484.68 207.88 L485.18 207.88 L485.68 207.88 L486.18 207.88 L486.18 7.88 L398.18 16.51Z"/></defs>
<defs><clipPath id="k11c"><rect x="415.68" y="0" width="51.6" height="525"/></clipPath></defs>
<use href="#k11" fill="#00f2ff"/>
<g clip-path="url(#k11c)">
<use href="#k11" y="-0" fill="#8fff70"/>
<use href="#k11" y="-0.6" fill="#47ffb8"/>
<use href="#k11" y="-1.2" fill="#1effe1"/>
<use href="#k11" y="-1.8" fill="#0dfff2"/>
<use href="#k11" y="-2.4" fill="#02fffd"/>
<use href="#k11" y="-3" fill="#00faff"/>
<use href="#k11" y="-3.6" fill="#00f3ff"/>
</g>
<use href="#k11" y="-4.2" fill="#00eeff"/>
<use href="#k11" y="-4.8" fill="#00e9ff"/>
<use href="#k11" y="-5.4" fill="#00e4ff"/>
<use href="#k11" y="-6" fill="#00dfff"/>
<use href="#k11" y="-6.6" fill="#00daff"/>
<use href="#k11" y="-7.6" fill="#00d4ff"/>
<use href="#k11" y="-8.6" fill="#00cdff"/>
<use href="#k11" y="-9.6" fill="#00c7ff"/>
<use href="#k11" y="-10.6" fill="#00c1ff"/>
<use href="#k11" y="-11.6" fill="#00bbff"/>
<use href="#k11" y="-12.6" fill="#00b5ff"/>
<use href="#k11" y="-13.6" fill="#00b1ff"/>
<use href="#k11" y="-14.6" fill="#00adff"/>
<use href="#k11" y="-15.6" fill="#00a8ff"/>
<use href="#k11" y="-16.6" fill="#00a2ff"/>
<use href="#k11" y="-18.6" fill="#009bff"/>
<use href="#k11" y="-20.6" fill="#0095ff"/>
<use href="#k11" y="-22.6" fill="#008eff"/>
<use href="#k11" y="-24.6" fill="#0088ff"/>
<use href="#k11" y="-26.6" fill="#0083ff"/>
<use href="#k11" y="-28.6" fill="#007eff"/>
<use href="#k11" y="-30.6" fill="#0079ff"/>
<use href="#k11" y="-32.6" fill="#0074ff"/>
<use href="#k11" y="-34.6" fill="#0070ff"/>
<use href="#k11" y="-36.6" fill="#006dff"/>
<use href="#k11" y="-38.6" fill="#0069ff"/>
<use href="#k11" y="-40.6" fill="#0066ff"/>
<use href="#k11" y="-42.6" fill="#0062ff"/>
<use href="#k11" y="-44.6" fill="#005fff"/>
<use href="#k11" y="-46.6" fill="#005dff"/>
<use href="#k11" y="-48.6" fill="#005aff"/>
<use href="#k11" y="-50.6" fill="#0057ff"/>
<use href="#k11" y="-52.6" fill="#0055ff"/>
<use href="#k11" y="-54.6" fill="#0052ff"/>
<use href="#k11" y="-56.6" fill="#0052ff"/>
<use href="#k11" y="-58.6" fill="#0052ff"/>
<use href="#k11" y="-60.6" fill="#0052ff"/>
<defs><path id="k12" d="M398.18 216.51 L398.68 216.51 L399.18 216.51 L399.68 216.51 L400.18 216.51 L400.68 216.51 L401.18 216.51 L401.68 216.51 L402.18 216.51 L402.68 216.51 L403.18 216.51 L403.68 216.51 L404.18 216.51 L404.68 216.51 L405.18 216.51 L405.68 216.51 L406.18 216.58 L406.68 216.72 L407.18 216.87 L407.68 217.04 L408.18 217.22 L408.68 217.42 L409.18 217.64 L409.68 217.86 L410.18 218.1 L410.68 218.36 L411.18 218.63 L411.68 218.91 L412.18 219.2 L412.68 219.5 L413.18 219.81 L413.68 220.14 L414.18 220.47 L414.68 220.81 L415.18 221.16 L415.68 221.52 L416.18 221.88 L416.68 222.25 L417.18 222.63 L417.68 223.01 L418.18 223.39 L418.68 223.78 L419.18 224.17 L419.68 224.56 L420.18 224.96 L420.68 225.35 L421.18 225.75 L421.68 226.14 L422.18 226.53 L422.68 226.92 L423.18 227.31 L423.68 227.69 L424.18 228.07 L424.68 228.44 L425.18 228.8 L425.68 229.16 L426.18 229.52 L426.68 229.86 L427.18 230.2 L427.68 230.52 L428.18 230.84 L428.68 231.15 L429.18 231.44 L429.68 231.73 L430.18 232 L430.68 232.26 L431.18 232.51 L431.68 232.74 L432.18 232.96 L432.68 233.17 L433.18 233.36 L433.68 233.53 L434.18 233.69 L434.68 233.84 L435.18 233.96 L435.68 234.08 L436.18 234.17 L436.68 234.25 L437.18 234.31 L437.68 234.36 L438.18 234.39 L438.68 234.4 L439.18 234.39 L439.68 234.37 L440.18 234.33 L440.68 234.28 L441.18 234.2 L441.68 234.11 L442.18 234 L442.68 233.88 L443.18 233.74 L443.68 233.58 L444.18 233.4 L444.68 233.21 L445.18 233.01 L445.68 232.78 L446.18 232.55 L446.68 232.29 L447.18 232.03 L447.68 231.74 L448.18 231.45 L448.68 231.14 L449.18 230.82 L449.68 230.48 L450.18 230.13 L450.68 229.77 L451.18 229.4 L451.68 229.01 L452.18 228.62 L452.68 228.21 L453.18 227.8 L453.68 227.37 L454.18 226.94 L454.68 226.5 L455.18 226.05 L455.68 225.59 L456.18 225.13 L456.68 224.66 L457.18 224.18 L457.68 223.7 L458.18 223.21 L458.68 222.72 L459.18 222.23 L459.68 221.73 L460.18 221.24 L460.68 220.74 L461.18 220.24 L461.68 219.73 L462.18 219.23 L462.68 218.73 L463.18 218.24 L463.68 217.74 L464.18 217.24 L464.68 216.75 L465.18 216.27 L465.68 215.78 L466.18 215.3 L466.68 214.83 L467.18 214.37 L467.68 213.91 L468.18 213.45 L468.68 213.01 L469.18 212.57 L469.68 212.14 L470.18 211.72 L470.68 211.31 L471.18 210.91 L471.68 210.53 L472.18 210.15 L472.68 209.78 L473.18 209.43 L473.68 209.09 L474.18 208.76 L474.68 208.44 L475.18 208.14 L475.68 207.88 L476.18 207.88 L476.68 207.88 L477.18 207.88 L477.68 207.88 L478.18 207.88 L478.68 207.88 L479.18 207.88 L479.68 207.88 L480.18 207.88 L480.68 207.88 L481.18 207.88 L481.68 207.88 L482.18 207.88 L482.68 207.88 L483.18 207.88 L483.68 207.88 L484.18 207.88 L484.68 207.88 L485.18 207.88 L485.68 207.88 L486.18 207.88 L486.18 407.88 L398.18 416.51Z"/></defs>
<defs><clipPath id="k12c"><rect x="415.68" y="0" width="51.6" height="525"/></clipPath></defs>
<use href="#k12" fill="#00faff"/>
<g clip-path="url(#k12c)">
<use href="#k12" y="0" fill="#8fff70"/>
<use href="#k12" y="0.6" fill="#47ffb8"/>
<use href="#k12" y="1.2" fill="#1fffe0"/>
<use href="#k12" y="1.8" fill="#11ffee"/>
<use href="#k12" y="2.4" fill="#07fff8"/>
<use href="#k12" y="3" fill="#02fffd"/>
<use href="#k12" y="3.6" fill="#00fbff"/>
</g>
<use href="#k12" y="4.2" fill="#00f7ff"/>
<use href="#k12" y="4.8" fill="#00f4ff"/>
<use href="#k12" y="5.4" fill="#00f1ff"/>
<use href="#k12" y="6" fill="#00eeff"/>
<use href="#k12" y="6.6" fill="#00e9ff"/>
<use href="#k12" y="7.6" fill="#00e4ff"/>
<use href="#k12" y="8.6" fill="#00dfff"/>
<use href="#k12" y="9.6" fill="#00daff"/>
<use href="#k12" y="10.6" fill="#00d5ff"/>
<use href="#k12" y="11.6" fill="#00d0ff"/>
<use href="#k12" y="12.6" fill="#00cbff"/>
<use href="#k12" y="13.6" fill="#00c6ff"/>
<use href="#k12" y="14.6" fill="#00c2ff"/>
<use href="#k12" y="15.6" fill="#00beff"/>
<use href="#k12" y="16.6" fill="#00b8ff"/>
<use href="#k12" y="18.6" fill="#00b2ff"/>
<use href="#k12" y="20.6" fill="#00acff"/>
<use href="#k12" y="22.6" fill="#00a6ff"/>
<use href="#k12" y="24.6" fill="#00a0ff"/>
<use href="#k12" y="26.6" fill="#009bff"/>
<use href="#k12" y="28.6" fill="#0096ff"/>
<use href="#k12" y="30.6" fill="#0091ff"/>
<use href="#k12" y="32.6" fill="#008cff"/>
<use href="#k12" y="34.6" fill="#0088ff"/>
<use href="#k12" y="36.6" fill="#0083ff"/>
<use href="#k12" y="38.6" fill="#007eff"/>
<use href="#k12" y="40.6" fill="#0079ff"/>
<use href="#k12" y="42.6" fill="#0074ff"/>
<use href="#k12" y="44.6" fill="#0070ff"/>
<use href="#k12" y="46.6" fill="#006bff"/>
<use href="#k12" y="48.6" fill="#0066ff"/>
<use href="#k12" y="50.6" fill="#0062ff"/>
<use href="#k12" y="52.6" fill="#005eff"/>
<use href="#k12" y="54.6" fill="#005aff"/>
<use href="#k12" y="56.6" fill="#0057ff"/>
<use href="#k12" y="58.6" fill="#0053ff"/>
<use href="#k12" y="60.6" fill="#0052ff"/>
<use href="#k12" y="62.6" fill="#0051ff"/>
<use href="#k12" y="64.6" fill="#004fff"/>
<use href="#k12" y="66.6" fill="#004eff"/>
<use href="#k12" y="68.6" fill="#004dff"/>
<use href="#k12" y="70.6" fill="#004cff"/>
<use href="#k12" y="72.6" fill="#004bff"/>
<use href="#k12" y="74.6" fill="#004aff"/>
<use href="#k12" y="76.6" fill="#0049ff"/>
<use href="#k12" y="78.6" fill="#0048ff"/>
</g>
<clipPath id="r6"><path d="M495.46 178.7 L540.82 178.7 L552.62 272.2 L483.66 272.2Z"/></clipPath>
<g clip-path="url(#r6)">
<defs><path id="k13" d="M474.14 207.88 L474.64 207.88 L475.14 207.88 L475.64 207.88 L476.14 207.88 L476.64 207.88 L477.14 207.88 L477.64 207.88 L478.14 207.88 L478.64 207.88 L479.14 207.88 L479.64 207.88 L480.14 207.88 L480.64 207.88 L481.14 207.88 L481.64 207.88 L482.14 207.88 L482.64 207.88 L483.14 207.88 L483.64 207.88 L484.14 207.88 L484.64 207.88 L485.14 208.14 L485.64 208.44 L486.14 208.76 L486.64 209.09 L487.14 209.43 L487.64 209.78 L488.14 210.15 L488.64 210.53 L489.14 210.91 L489.64 211.31 L490.14 211.72 L490.64 212.14 L491.14 212.57 L491.64 213.01 L492.14 213.45 L492.64 213.91 L493.14 214.37 L493.64 214.83 L494.14 215.3 L494.64 215.78 L495.14 216.27 L495.64 216.75 L496.14 217.24 L496.64 217.74 L497.14 218.24 L497.64 218.73 L498.14 219.23 L498.64 219.73 L499.14 220.24 L499.64 220.74 L500.14 221.24 L500.64 221.73 L501.14 222.23 L501.64 222.72 L502.14 223.21 L502.64 223.7 L503.14 224.18 L503.64 224.66 L504.14 225.13 L504.64 225.59 L505.14 226.05 L505.64 226.5 L506.14 226.94 L506.64 227.37 L507.14 227.8 L507.64 228.21 L508.14 228.62 L508.64 229.01 L509.14 229.4 L509.64 229.77 L510.14 230.13 L510.64 230.48 L511.14 230.82 L511.64 231.14 L512.14 231.45 L512.64 231.74 L513.14 232.03 L513.64 232.29 L514.14 232.55 L514.64 232.78 L515.14 233.01 L515.64 233.21 L516.14 233.4 L516.64 233.58 L517.14 233.74 L517.64 233.88 L518.14 234 L518.64 234.11 L519.14 234.2 L519.64 234.28 L520.14 234.33 L520.64 234.37 L521.14 234.39 L521.64 234.4 L522.14 234.39 L522.64 234.36 L523.14 234.31 L523.64 234.25 L524.14 234.17 L524.64 234.08 L525.14 233.96 L525.64 233.84 L526.14 233.69 L526.64 233.53 L527.14 233.36 L527.64 233.17 L528.14 232.96 L528.64 232.74 L529.14 232.51 L529.64 232.26 L530.14 232 L530.64 231.73 L531.14 231.44 L531.64 231.15 L532.14 230.84 L532.64 230.52 L533.14 230.2 L533.64 229.86 L534.14 229.52 L534.64 229.16 L535.14 228.8 L535.64 228.44 L536.14 228.07 L536.64 227.69 L537.14 227.31 L537.64 226.92 L538.14 226.53 L538.64 226.14 L539.14 225.75 L539.64 225.35 L540.14 224.96 L540.64 224.56 L541.14 224.17 L541.64 223.78 L542.14 223.39 L542.64 223.01 L543.14 222.63 L543.64 222.25 L544.14 221.88 L544.64 221.52 L545.14 221.16 L545.64 220.81 L546.14 220.47 L546.64 220.14 L547.14 219.81 L547.64 219.5 L548.14 219.2 L548.64 218.91 L549.14 218.63 L549.64 218.36 L550.14 218.1 L550.64 217.86 L551.14 217.64 L551.64 217.42 L552.14 217.22 L552.64 217.04 L553.14 216.87 L553.64 216.72 L554.14 216.58 L554.64 216.51 L555.14 216.51 L555.64 216.51 L556.14 216.51 L556.64 216.51 L557.14 216.51 L557.64 216.51 L558.14 216.51 L558.64 216.51 L559.14 216.51 L559.64 216.51 L560.14 216.51 L560.64 216.51 L561.14 216.51 L561.64 216.51 L562.14 216.51 L562.14 16.51 L474.14 7.88Z"/></defs>
<defs><clipPath id="k13c"><rect x="493.04" y="0" width="51.6" height="525"/></clipPath></defs>
<use href="#k13" fill="#00f2ff"/>
<g clip-path="url(#k13c)">
<use href="#k13" y="-0" fill="#8fff70"/>
<use href="#k13" y="-0.6" fill="#47ffb8"/>
<use href="#k13" y="-1.2" fill="#1effe1"/>
<use href="#k13" y="-1.8" fill="#0dfff2"/>
<use href="#k13" y="-2.4" fill="#02fffd"/>
<use href="#k13" y="-3" fill="#00faff"/>
<use href="#k13" y="-3.6" fill="#00f3ff"/>
</g>
<use href="#k13" y="-4.2" fill="#00eeff"/>
<use href="#k13" y="-4.8" fill="#00e9ff"/>
<use href="#k13" y="-5.4" fill="#00e4ff"/>
<use href="#k13" y="-6" fill="#00dfff"/>
<use href="#k13" y="-6.6" fill="#00daff"/>
<use href="#k13" y="-7.6" fill="#00d4ff"/>
<use href="#k13" y="-8.6" fill="#00cdff"/>
<use href="#k13" y="-9.6" fill="#00c7ff"/>
<use href="#k13" y="-10.6" fill="#00c1ff"/>
<use href="#k13" y="-11.6" fill="#00bbff"/>
<use href="#k13" y="-12.6" fill="#00b5ff"/>
<use href="#k13" y="-13.6" fill="#00b1ff"/>
<use href="#k13" y="-14.6" fill="#00adff"/>
<use href="#k13" y="-15.6" fill="#00a8ff"/>
<use href="#k13" y="-16.6" fill="#00a2ff"/>
<use href="#k13" y="-18.6" fill="#009bff"/>
<use href="#k13" y="-20.6" fill="#0095ff"/>
<use href="#k13" y="-22.6" fill="#008eff"/>
<use href="#k13" y="-24.6" fill="#0088ff"/>
<use href="#k13" y="-26.6" fill="#0083ff"/>
<use href="#k13" y="-28.6" fill="#007eff"/>
<use href="#k13" y="-30.6" fill="#0079ff"/>
<use href="#k13" y="-32.6" fill="#0074ff"/>
<use href="#k13" y="-34.6" fill="#0070ff"/>
<use href="#k13" y="-36.6" fill="#006dff"/>
<use href="#k13" y="-38.6" fill="#0069ff"/>
<use href="#k13" y="-40.6" fill="#0066ff"/>
<use href="#k13" y="-42.6" fill="#0062ff"/>
<use href="#k13" y="-44.6" fill="#005fff"/>
<use href="#k13" y="-46.6" fill="#005dff"/>
<use href="#k13" y="-48.6" fill="#005aff"/>
<use href="#k13" y="-50.6" fill="#0057ff"/>
<use href="#k13" y="-52.6" fill="#0055ff"/>
<use href="#k13" y="-54.6" fill="#0052ff"/>
<use href="#k13" y="-56.6" fill="#0052ff"/>
<use href="#k13" y="-58.6" fill="#0052ff"/>
<use href="#k13" y="-60.6" fill="#0052ff"/>
<defs><path id="k14" d="M474.14 207.88 L474.64 207.88 L475.14 207.88 L475.64 207.88 L476.14 207.88 L476.64 207.88 L477.14 207.88 L477.64 207.88 L478.14 207.88 L478.64 207.88 L479.14 207.88 L479.64 207.88 L480.14 207.88 L480.64 207.88 L481.14 207.88 L481.64 207.88 L482.14 207.88 L482.64 207.88 L483.14 207.88 L483.64 207.88 L484.14 207.88 L484.64 207.88 L485.14 208.14 L485.64 208.44 L486.14 208.76 L486.64 209.09 L487.14 209.43 L487.64 209.78 L488.14 210.15 L488.64 210.53 L489.14 210.91 L489.64 211.31 L490.14 211.72 L490.64 212.14 L491.14 212.57 L491.64 213.01 L492.14 213.45 L492.64 213.91 L493.14 214.37 L493.64 214.83 L494.14 215.3 L494.64 215.78 L495.14 216.27 L495.64 216.75 L496.14 217.24 L496.64 217.74 L497.14 218.24 L497.64 218.73 L498.14 219.23 L498.64 219.73 L499.14 220.24 L499.64 220.74 L500.14 221.24 L500.64 221.73 L501.14 222.23 L501.64 222.72 L502.14 223.21 L502.64 223.7 L503.14 224.18 L503.64 224.66 L504.14 225.13 L504.64 225.59 L505.14 226.05 L505.64 226.5 L506.14 226.94 L506.64 227.37 L507.14 227.8 L507.64 228.21 L508.14 228.62 L508.64 229.01 L509.14 229.4 L509.64 229.77 L510.14 230.13 L510.64 230.48 L511.14 230.82 L511.64 231.14 L512.14 231.45 L512.64 231.74 L513.14 232.03 L513.64 232.29 L514.14 232.55 L514.64 232.78 L515.14 233.01 L515.64 233.21 L516.14 233.4 L516.64 233.58 L517.14 233.74 L517.64 233.88 L518.14 234 L518.64 234.11 L519.14 234.2 L519.64 234.28 L520.14 234.33 L520.64 234.37 L521.14 234.39 L521.64 234.4 L522.14 234.39 L522.64 234.36 L523.14 234.31 L523.64 234.25 L524.14 234.17 L524.64 234.08 L525.14 233.96 L525.64 233.84 L526.14 233.69 L526.64 233.53 L527.14 233.36 L527.64 233.17 L528.14 232.96 L528.64 232.74 L529.14 232.51 L529.64 232.26 L530.14 232 L530.64 231.73 L531.14 231.44 L531.64 231.15 L532.14 230.84 L532.64 230.52 L533.14 230.2 L533.64 229.86 L534.14 229.52 L534.64 229.16 L535.14 228.8 L535.64 228.44 L536.14 228.07 L536.64 227.69 L537.14 227.31 L537.64 226.92 L538.14 226.53 L538.64 226.14 L539.14 225.75 L539.64 225.35 L540.14 224.96 L540.64 224.56 L541.14 224.17 L541.64 223.78 L542.14 223.39 L542.64 223.01 L543.14 222.63 L543.64 222.25 L544.14 221.88 L544.64 221.52 L545.14 221.16 L545.64 220.81 L546.14 220.47 L546.64 220.14 L547.14 219.81 L547.64 219.5 L548.14 219.2 L548.64 218.91 L549.14 218.63 L549.64 218.36 L550.14 218.1 L550.64 217.86 L551.14 217.64 L551.64 217.42 L552.14 217.22 L552.64 217.04 L553.14 216.87 L553.64 216.72 L554.14 216.58 L554.64 216.51 L555.14 216.51 L555.64 216.51 L556.14 216.51 L556.64 216.51 L557.14 216.51 L557.64 216.51 L558.14 216.51 L558.64 216.51 L559.14 216.51 L559.64 216.51 L560.14 216.51 L560.64 216.51 L561.14 216.51 L561.64 216.51 L562.14 216.51 L562.14 416.51 L474.14 407.88Z"/></defs>
<defs><clipPath id="k14c"><rect x="493.04" y="0" width="51.6" height="525"/></clipPath></defs>
<use href="#k14" fill="#00faff"/>
<g clip-path="url(#k14c)">
<use href="#k14" y="0" fill="#8fff70"/>
<use href="#k14" y="0.6" fill="#47ffb8"/>
<use href="#k14" y="1.2" fill="#1fffe0"/>
<use href="#k14" y="1.8" fill="#11ffee"/>
<use href="#k14" y="2.4" fill="#07fff8"/>
<use href="#k14" y="3" fill="#02fffd"/>
<use href="#k14" y="3.6" fill="#00fbff"/>
</g>
<use href="#k14" y="4.2" fill="#00f7ff"/>
<use href="#k14" y="4.8" fill="#00f4ff"/>
<use href="#k14" y="5.4" fill="#00f1ff"/>
<use href="#k14" y="6" fill="#00eeff"/>
<use href="#k14" y="6.6" fill="#00e9ff"/>
<use href="#k14" y="7.6" fill="#00e4ff"/>
<use href="#k14" y="8.6" fill="#00dfff"/>
<use href="#k14" y="9.6" fill="#00daff"/>
<use href="#k14" y="10.6" fill="#00d5ff"/>
<use href="#k14" y="11.6" fill="#00d0ff"/>
<use href="#k14" y="12.6" fill="#00cbff"/>
<use href="#k14" y="13.6" fill="#00c6ff"/>
<use href="#k14" y="14.6" fill="#00c2ff"/>
<use href="#k14" y="15.6" fill="#00beff"/>
<use href="#k14" y="16.6" fill="#00b8ff"/>
<use href="#k14" y="18.6" fill="#00b2ff"/>
<use href="#k14" y="20.6" fill="#00acff"/>
<use href="#k14" y="22.6" fill="#00a6ff"/>
<use href="#k14" y="24.6" fill="#00a0ff"/>
<use href="#k14" y="26.6" fill="#009bff"/>
<use href="#k14" y="28.6" fill="#0096ff"/>
<use href="#k14" y="30.6" fill="#0091ff"/>
<use href="#k14" y="32.6" fill="#008cff"/>
<use href="#k14" y="34.6" fill="#0088ff"/>
<use href="#k14" y="36.6" fill="#0083ff"/>
<use href="#k14" y="38.6" fill="#007eff"/>
<use href="#k14" y="40.6" fill="#0079ff"/>
<use href="#k14" y="42.6" fill="#0074ff"/>
<use href="#k14" y="44.6" fill="#0070ff"/>
<use href="#k14" y="46.6" fill="#006bff"/>
<use href="#k14" y="48.6" fill="#0066ff"/>
<use href="#k14" y="50.6" fill="#0062ff"/>
<use href="#k14" y="52.6" fill="#005eff"/>
<use href="#k14" y="54.6" fill="#005aff"/>
<use href="#k14" y="56.6" fill="#0057ff"/>
<use href="#k14" y="58.6" fill="#0053ff"/>
<use href="#k14" y="60.6" fill="#0052ff"/>
<use href="#k14" y="62.6" fill="#0051ff"/>
<use href="#k14" y="64.6" fill="#004fff"/>
<use href="#k14" y="66.6" fill="#004eff"/>
<use href="#k14" y="68.6" fill="#004dff"/>
<use href="#k14" y="70.6" fill="#004cff"/>
<use href="#k14" y="72.6" fill="#004bff"/>
<use href="#k14" y="74.6" fill="#004aff"/>
<use href="#k14" y="76.6" fill="#0049ff"/>
<use href="#k14" y="78.6" fill="#0048ff"/>
</g>
<linearGradient id="fadeD" x1="0" y1="0" x2="0" y2="1"><stop offset="0" stop-color="#0064ff" stop-opacity="0"/><stop offset="1" stop-color="#0064ff" stop-opacity="0.3"/></linearGradient>
<rect x="323.9" y="250" width="216.2" height="22.2" fill="url(#fadeD)"/>
<path d="M312.94 178.7 L320.26 236.67" stroke="#0040dc" stroke-width="0.7" stroke-opacity="0.6" fill="none"/>
<path d="M343.54 178.7 L336.22 236.67" stroke="#0040dc" stroke-width="0.7" stroke-opacity="0.6" fill="none"/>
<path d="M388.9 178.7 L396.22 236.67" stroke="#0040dc" stroke-width="0.7" stroke-opacity="0.6" fill="none"/>
<path d="M419.5 178.7 L412.18 236.67" stroke="#0040dc" stroke-width="0.7" stroke-opacity="0.6" fill="none"/>
<path d="M464.86 178.7 L472.18 236.67" stroke="#0040dc" stroke-width="0.7" stroke-opacity="0.6" fill="none"/>
<path d="M495.46 178.7 L488.14 236.67" stroke="#0040dc" stroke-width="0.7" stroke-opacity="0.6" fill="none"/>
<path d="M320.94 197.65 L321.44 197.49 L321.95 197.33 L322.45 197.19 L322.95 197.06 L323.46 196.94 L323.96 196.83 L324.46 196.74 L324.97 196.65 L325.47 196.58 L325.97 196.52 L326.48 196.47 L326.98 196.44 L327.48 196.41 L327.99 196.4 L328.49 196.4 L329 196.41 L329.5 196.44 L330 196.47 L330.51 196.52 L331.01 196.58 L331.51 196.65 L332.02 196.74 L332.52 196.83 L333.02 196.94 L333.53 197.06 L334.03 197.19 L334.53 197.33 L335.04 197.49 L335.54 197.65" fill="none" stroke="#b8ff30" stroke-width="0.9" stroke-linecap="round"/>
<path d="M396.2 210.41 L396.7 210.22 L397.2 210.05 L397.7 209.89 L398.2 209.75 L398.7 209.61 L399.2 209.49 L399.7 209.38 L400.2 209.28 L400.7 209.19 L401.2 209.11 L401.7 209.05 L402.2 208.99 L402.7 208.95 L403.2 208.92 L403.7 208.91 L404.2 208.9 L404.7 208.91 L405.2 208.92 L405.7 208.95 L406.2 208.99 L406.7 209.05 L407.2 209.11 L407.7 209.19 L408.2 209.28 L408.7 209.38 L409.2 209.49 L409.7 209.61 L410.2 209.75 L410.7 209.89 L411.2 210.05 L411.7 210.22 L412.2 210.41" fill="none" stroke="#b8ff30" stroke-width="0.9" stroke-linecap="round"/>
<path d="M472.86 197.65 L473.36 197.49 L473.87 197.33 L474.37 197.19 L474.87 197.06 L475.38 196.94 L475.88 196.83 L476.38 196.74 L476.89 196.65 L477.39 196.58 L477.89 196.52 L478.4 196.47 L478.9 196.44 L479.4 196.41 L479.91 196.4 L480.41 196.4 L480.92 196.41 L481.42 196.44 L481.92 196.47 L482.43 196.52 L482.93 196.58 L483.43 196.65 L483.94 196.74 L484.44 196.83 L484.94 196.94 L485.45 197.06 L485.95 197.19 L486.45 197.33 L486.96 197.49 L487.46 197.65" fill="none" stroke="#b8ff30" stroke-width="0.9" stroke-linecap="round"/>
<path d="M342.32 215.4 L342.82 215.88 L343.32 216.37 L343.83 216.86 L344.33 217.35 L344.83 217.85 L345.33 218.35 L345.83 218.85 L346.34 219.35 L346.84 219.85 L347.34 220.36 L347.84 220.86 L348.34 221.36 L348.85 221.86 L349.35 222.36 L349.85 222.85 L350.35 223.34 L350.85 223.83 L351.36 224.31 L351.86 224.79 L352.36 225.26 L352.86 225.72 L353.36 226.18 L353.87 226.63 L354.37 227.07 L354.87 227.5 L355.37 227.93 L355.88 228.34 L356.38 228.74 L356.88 229.14 L357.38 229.52 L357.88 229.89 L358.39 230.25 L358.89 230.59 L359.39 230.93 L359.89 231.25 L360.39 231.55 L360.9 231.85 L361.4 232.12 L361.9 232.39 L362.4 232.63 L362.9 232.87 L363.41 233.08 L363.91 233.29 L364.41 233.47 L364.91 233.64 L365.41 233.79 L365.92 233.93 L366.42 234.05 L366.92 234.15 L367.42 234.23 L367.92 234.3 L368.43 234.35 L368.93 234.38 L369.43 234.4 L369.93 234.4 L370.43 234.38 L370.94 234.34 L371.44 234.29 L371.94 234.22 L372.44 234.13 L372.94 234.03 L373.45 233.91 L373.95 233.77 L374.45 233.62 L374.95 233.45 L375.45 233.27 L375.96 233.07 L376.46 232.86 L376.96 232.63 L377.46 232.39 L377.96 232.14 L378.47 231.87 L378.97 231.59 L379.47 231.3 L379.97 230.99 L380.48 230.68 L380.98 230.36 L381.48 230.02 L381.98 229.68 L382.48 229.33 L382.99 228.97 L383.49 228.61 L383.99 228.24 L384.49 227.86 L384.99 227.48 L385.5 227.09 L386 226.7 L386.5 226.31 L387 225.92 L387.5 225.52 L388.01 225.13 L388.51 224.73 L389.01 224.33 L389.51 223.94 L390.01 223.55 L390.52 223.16 L391.02 222.78 L391.52 222.4" fill="none" stroke="#b8ff30" stroke-width="0.9" stroke-linecap="round"/>
<path d="M416.88 222.4 L417.38 222.78 L417.88 223.16 L418.39 223.55 L418.89 223.94 L419.39 224.33 L419.89 224.73 L420.39 225.13 L420.9 225.52 L421.4 225.92 L421.9 226.31 L422.4 226.7 L422.9 227.09 L423.41 227.48 L423.91 227.86 L424.41 228.24 L424.91 228.61 L425.41 228.97 L425.92 229.33 L426.42 229.68 L426.92 230.02 L427.42 230.36 L427.92 230.68 L428.43 230.99 L428.93 231.3 L429.43 231.59 L429.93 231.87 L430.44 232.14 L430.94 232.39 L431.44 232.63 L431.94 232.86 L432.44 233.07 L432.95 233.27 L433.45 233.45 L433.95 233.62 L434.45 233.77 L434.95 233.91 L435.46 234.03 L435.96 234.13 L436.46 234.22 L436.96 234.29 L437.46 234.34 L437.97 234.38 L438.47 234.4 L438.97 234.4 L439.47 234.38 L439.97 234.35 L440.48 234.3 L440.98 234.23 L441.48 234.15 L441.98 234.05 L442.48 233.93 L442.99 233.79 L443.49 233.64 L443.99 233.47 L444.49 233.29 L444.99 233.08 L445.5 232.87 L446 232.63 L446.5 232.39 L447 232.12 L447.5 231.85 L448.01 231.55 L448.51 231.25 L449.01 230.93 L449.51 230.59 L450.01 230.25 L450.52 229.89 L451.02 229.52 L451.52 229.14 L452.02 228.74 L452.52 228.34 L453.03 227.93 L453.53 227.5 L454.03 227.07 L454.53 226.63 L455.04 226.18 L455.54 225.72 L456.04 225.26 L456.54 224.79 L457.04 224.31 L457.55 223.83 L458.05 223.34 L458.55 222.85 L459.05 222.36 L459.55 221.86 L460.06 221.36 L460.56 220.86 L461.06 220.36 L461.56 219.85 L462.06 219.35 L462.57 218.85 L463.07 218.35 L463.57 217.85 L464.07 217.35 L464.57 216.86 L465.08 216.37 L465.58 215.88 L466.08 215.4" fill="none" stroke="#b8ff30" stroke-width="0.9" stroke-linecap="round"/>
<path d="M494.24 215.4 L494.74 215.88 L495.24 216.37 L495.75 216.86 L496.25 217.35 L496.75 217.85 L497.25 218.35 L497.75 218.85 L498.26 219.35 L498.76 219.85 L499.26 220.36 L499.76 220.86 L500.26 221.36 L500.77 221.86 L501.27 222.36 L501.77 222.85 L502.27 223.34 L502.77 223.83 L503.28 224.31 L503.78 224.79 L504.28 225.26 L504.78 225.72 L505.28 226.18 L505.79 226.63 L506.29 227.07 L506.79 227.5 L507.29 227.93 L507.8 228.34 L508.3 228.74 L508.8 229.14 L509.3 229.52 L509.8 229.89 L510.31 230.25 L510.81 230.59 L511.31 230.93 L511.81 231.25 L512.31 231.55 L512.82 231.85 L513.32 232.12 L513.82 232.39 L514.32 232.63 L514.82 232.87 L515.33 233.08 L515.83 233.29 L516.33 233.47 L516.83 233.64 L517.33 233.79 L517.84 233.93 L518.34 234.05 L518.84 234.15 L519.34 234.23 L519.84 234.3 L520.35 234.35 L520.85 234.38 L521.35 234.4 L521.85 234.4 L522.35 234.38 L522.86 234.34 L523.36 234.29 L523.86 234.22 L524.36 234.13 L524.86 234.03 L525.37 233.91 L525.87 233.77 L526.37 233.62 L526.87 233.45 L527.37 233.27 L527.88 233.07 L528.38 232.86 L528.88 232.63 L529.38 232.39 L529.88 232.14 L530.39 231.87 L530.89 231.59 L531.39 231.3 L531.89 230.99 L532.4 230.68 L532.9 230.36 L533.4 230.02 L533.9 229.68 L534.4 229.33 L534.91 228.97 L535.41 228.61 L535.91 228.24 L536.41 227.86 L536.91 227.48 L537.42 227.09 L537.92 226.7 L538.42 226.31 L538.92 225.92 L539.42 225.52 L539.93 225.13 L540.43 224.73 L540.93 224.33 L541.43 223.94 L541.93 223.55 L542.44 223.16 L542.94 222.78 L543.44 222.4" fill="none" stroke="#b8ff30" stroke-width="0.9" stroke-linecap="round"/>
</g>
<text x="359.5" y="284.1" font-size="9.5" text-anchor="middle" font-weight="bold" >-50</text>
<text x="403.5" y="284.1" font-size="9.5" text-anchor="middle" font-weight="bold" >0</text>
<text x="446" y="284.1" font-size="9.5" text-anchor="middle" font-weight="bold" >50</text>
<text x="488.5" y="284.1" font-size="9.5" text-anchor="middle" font-weight="bold" >100</text>
<text x="531" y="284.1" font-size="9.5" text-anchor="middle" font-weight="bold" >150</text>
<text x="322.3" y="264.7" font-size="9.8" text-anchor="end" font-weight="bold" >5800</text>
<text x="322.3" y="241.8" font-size="9.8" text-anchor="end" font-weight="bold" >5900</text>
<text x="322.3" y="218.9" font-size="9.8" text-anchor="end" font-weight="bold" >6000</text>
<text x="322.3" y="196" font-size="9.8" text-anchor="end" font-weight="bold" >6100</text>
<text x="431" y="294.4" font-size="10" text-anchor="middle" font-weight="bold" >Euler angle&#160;&#160;<tspan font-weight="normal" font-size="8.5">&#952;</tspan>&#160;&#160;(&#176;)</text>
<text transform="translate(296.5 226) rotate(-90)" font-size="10" text-anchor="middle" font-weight="bold">Phase velocity&#160;&#160;(m/s)</text>
<text x="433" y="162.3" font-size="10.5" text-anchor="middle" font-weight="bold">u<tspan font-size="7.5" dy="4.5">3</tspan></text>
<text x="419.5" y="318.0" font-size="10.8" text-anchor="middle">(<tspan font-weight="bold">d</tspan>)</text>
<circle cx="141.75" cy="422.5" r="18.05" fill="none" stroke="#888" stroke-width="0.55" stroke-dasharray="0.7 1.6"/>
<circle cx="141.75" cy="422.5" r="36.1" fill="none" stroke="#888" stroke-width="0.55" stroke-dasharray="0.7 1.6"/>
<circle cx="141.75" cy="422.5" r="54.15" fill="none" stroke="#888" stroke-width="0.55" stroke-dasharray="0.7 1.6"/>
<path d="M141.75 422.5 L204.28 386.4 M141.75 422.5 L177.85 359.97 M141.75 422.5 L105.65 359.97 M141.75 422.5 L79.22 386.4 M141.75 422.5 L69.55 422.5 M141.75 422.5 L79.22 458.6 M141.75 422.5 L105.65 485.03 M141.75 422.5 L141.75 494.7 M141.75 422.5 L177.85 485.03 M141.75 422.5 L204.28 458.6" fill="none" stroke="#888" stroke-width="0.55" stroke-dasharray="0.7 1.6"/>
<circle cx="141.75" cy="422.5" r="72.2" fill="none" stroke="#555" stroke-width="0.8"/>
<path d="M141.75 422.5 V340.2 M141.75 422.5 H233.6" stroke="#666" stroke-width="0.7" fill="none"/>
<path d="M141.75 336.2 l-2.8 7.6 l2.8 -1.8 l2.8 1.8Z" fill="#000"/>
<path d="M237.6 422.5 l-7.6 -2.8 l1.8 2.8 l-1.8 2.8Z" fill="#000"/>
<path d="M206.45 422.5 L206.39 420.24 L206.21 417.99 L205.92 415.76 L205.51 413.54 L205 411.35 L204.39 409.18 L203.7 407.05 L202.93 404.96 L202.1 402.89 L201.21 400.86 L200.27 398.86 L199.29 396.88 L198.27 394.93 L197.22 393.01 L196.14 391.1 L195.03 389.21 L193.88 387.34 L192.7 385.48 L191.48 383.64 L190.22 381.83 L188.91 380.04 L187.54 378.28 L186.1 376.57 L184.6 374.91 L183.03 373.3 L181.39 371.76 L179.67 370.3 L177.88 368.93 L176.02 367.65 L174.1 366.47 L172.12 365.39 L170.08 364.42 L167.99 363.56 L165.87 362.8 L163.72 362.15 L161.54 361.59 L159.35 361.12 L157.15 360.74 L154.94 360.43 L152.74 360.19 L150.53 360 L148.33 359.86 L146.14 359.77 L143.94 359.72 L141.75 359.7 L139.56 359.72 L137.36 359.77 L135.17 359.86 L132.97 360 L130.76 360.19 L128.56 360.43 L126.35 360.74 L124.15 361.12 L121.96 361.59 L119.78 362.15 L117.63 362.8 L115.51 363.56 L113.42 364.42 L111.38 365.39 L109.4 366.47 L107.48 367.65 L105.62 368.93 L103.83 370.3 L102.11 371.76 L100.47 373.3 L98.9 374.91 L97.4 376.57 L95.96 378.28 L94.59 380.04 L93.28 381.83 L92.02 383.64 L90.8 385.48 L89.62 387.34 L88.47 389.21 L87.36 391.1 L86.28 393.01 L85.23 394.93 L84.21 396.88 L83.23 398.86 L82.29 400.86 L81.4 402.89 L80.57 404.96 L79.8 407.05 L79.11 409.18 L78.5 411.35 L77.99 413.54 L77.58 415.76 L77.29 417.99 L77.11 420.24 L77.05 422.5 L77.11 424.76 L77.29 427.01 L77.58 429.24 L77.99 431.46 L78.5 433.65 L79.11 435.82 L79.8 437.95 L80.57 440.04 L81.4 442.11 L82.29 444.14 L83.23 446.14 L84.21 448.12 L85.23 450.07 L86.28 451.99 L87.36 453.9 L88.47 455.79 L89.62 457.66 L90.8 459.52 L92.02 461.36 L93.28 463.17 L94.59 464.96 L95.96 466.72 L97.4 468.43 L98.9 470.09 L100.47 471.7 L102.11 473.24 L103.83 474.7 L105.62 476.07 L107.48 477.35 L109.4 478.53 L111.38 479.61 L113.42 480.58 L115.51 481.44 L117.63 482.2 L119.78 482.85 L121.96 483.41 L124.15 483.88 L126.35 484.26 L128.56 484.57 L130.76 484.81 L132.97 485 L135.17 485.14 L137.36 485.23 L139.56 485.28 L141.75 485.3 L143.94 485.28 L146.14 485.23 L148.33 485.14 L150.53 485 L152.74 484.81 L154.94 484.57 L157.15 484.26 L159.35 483.88 L161.54 483.41 L163.72 482.85 L165.87 482.2 L167.99 481.44 L170.08 480.58 L172.12 479.61 L174.1 478.53 L176.02 477.35 L177.88 476.07 L179.67 474.7 L181.39 473.24 L183.03 471.7 L184.6 470.09 L186.1 468.43 L187.54 466.72 L188.91 464.96 L190.22 463.17 L191.48 461.36 L192.7 459.52 L193.88 457.66 L195.03 455.79 L196.14 453.9 L197.22 451.99 L198.27 450.07 L199.29 448.12 L200.27 446.14 L201.21 444.14 L202.1 442.11 L202.93 440.04 L203.7 437.95 L204.39 435.82 L205 433.65 L205.51 431.46 L205.92 429.24 L206.21 427.01 L206.39 424.76 L206.45 422.5Z" fill="none" stroke="#ff3a10" stroke-width="1.2" stroke-linejoin="round"/>
<path d="M204.55 422.5 L204.47 420.31 L204.24 418.13 L203.85 415.97 L203.33 413.85 L202.68 411.76 L201.93 409.71 L201.08 407.71 L200.15 405.75 L199.17 403.84 L198.16 401.97 L197.11 400.13 L196.06 398.32 L195.01 396.52 L193.97 394.74 L192.93 392.95 L191.9 391.16 L190.88 389.36 L189.85 387.55 L188.8 385.74 L187.73 383.92 L186.62 382.1 L185.45 380.29 L184.22 378.52 L182.92 376.78 L181.52 375.1 L180.04 373.5 L178.46 371.98 L176.78 370.57 L175.01 369.28 L173.15 368.11 L171.21 367.09 L169.21 366.2 L167.15 365.45 L165.05 364.84 L162.91 364.36 L160.76 363.99 L158.6 363.73 L156.45 363.55 L154.3 363.44 L152.17 363.39 L150.06 363.37 L147.96 363.37 L145.88 363.38 L143.81 363.4 L141.75 363.4 L139.69 363.4 L137.62 363.38 L135.54 363.37 L133.44 363.37 L131.33 363.39 L129.2 363.44 L127.05 363.55 L124.9 363.73 L122.74 363.99 L120.59 364.36 L118.45 364.84 L116.35 365.45 L114.29 366.2 L112.29 367.09 L110.35 368.11 L108.49 369.28 L106.72 370.57 L105.04 371.98 L103.46 373.5 L101.98 375.1 L100.58 376.78 L99.28 378.52 L98.05 380.29 L96.88 382.1 L95.77 383.92 L94.7 385.74 L93.65 387.55 L92.62 389.36 L91.6 391.16 L90.57 392.95 L89.53 394.74 L88.49 396.52 L87.44 398.32 L86.39 400.13 L85.34 401.97 L84.33 403.84 L83.35 405.75 L82.42 407.71 L81.57 409.71 L80.82 411.76 L80.17 413.85 L79.65 415.97 L79.26 418.13 L79.03 420.31 L78.95 422.5 L79.03 424.69 L79.26 426.87 L79.65 429.03 L80.17 431.15 L80.82 433.24 L81.57 435.29 L82.42 437.29 L83.35 439.25 L84.33 441.16 L85.34 443.03 L86.39 444.87 L87.44 446.68 L88.49 448.48 L89.53 450.26 L90.57 452.05 L91.6 453.84 L92.62 455.64 L93.65 457.45 L94.7 459.26 L95.77 461.08 L96.88 462.9 L98.05 464.71 L99.28 466.48 L100.58 468.22 L101.98 469.9 L103.46 471.5 L105.04 473.02 L106.72 474.43 L108.49 475.72 L110.35 476.89 L112.29 477.91 L114.29 478.8 L116.35 479.55 L118.45 480.16 L120.59 480.64 L122.74 481.01 L124.9 481.27 L127.05 481.45 L129.2 481.56 L131.33 481.61 L133.44 481.63 L135.54 481.63 L137.62 481.62 L139.69 481.6 L141.75 481.6 L143.81 481.6 L145.88 481.62 L147.96 481.63 L150.06 481.63 L152.17 481.61 L154.3 481.56 L156.45 481.45 L158.6 481.27 L160.76 481.01 L162.91 480.64 L165.05 480.16 L167.15 479.55 L169.21 478.8 L171.21 477.91 L173.15 476.89 L175.01 475.72 L176.78 474.43 L178.46 473.02 L180.04 471.5 L181.52 469.9 L182.92 468.22 L184.22 466.48 L185.45 464.71 L186.62 462.9 L187.73 461.08 L188.8 459.26 L189.85 457.45 L190.88 455.64 L191.9 453.84 L192.93 452.05 L193.97 450.26 L195.01 448.48 L196.06 446.68 L197.11 444.87 L198.16 443.03 L199.17 441.16 L200.15 439.25 L201.08 437.29 L201.93 435.29 L202.68 433.24 L203.33 431.15 L203.85 429.03 L204.24 426.87 L204.47 424.69 L204.55 422.5Z" fill="none" stroke="#1c9a1c" stroke-width="1.2" stroke-linejoin="round"/>
<path d="M195.05 422.5 L195.04 420.64 L195.01 418.78 L194.96 416.91 L194.9 415.03 L194.81 413.14 L194.69 411.25 L194.53 409.34 L194.33 407.42 L194.07 405.5 L193.74 403.58 L193.31 401.67 L192.78 399.78 L192.12 397.93 L191.34 396.13 L190.42 394.4 L189.38 392.74 L188.21 391.16 L186.94 389.67 L185.57 388.26 L184.13 386.94 L182.64 385.69 L181.1 384.5 L179.54 383.37 L177.96 382.28 L176.38 381.23 L174.79 380.21 L173.2 379.21 L171.61 378.24 L170.01 377.28 L168.4 376.34 L166.78 375.42 L165.16 374.51 L163.51 373.62 L161.85 372.74 L160.18 371.87 L158.47 371.03 L156.74 370.21 L154.98 369.42 L153.19 368.69 L151.36 368.02 L149.49 367.43 L147.59 366.95 L145.66 366.59 L143.71 366.37 L141.75 366.3 L139.79 366.37 L137.84 366.59 L135.91 366.95 L134.01 367.43 L132.14 368.02 L130.31 368.69 L128.52 369.42 L126.76 370.21 L125.03 371.03 L123.32 371.87 L121.65 372.74 L119.99 373.62 L118.34 374.51 L116.72 375.42 L115.1 376.34 L113.49 377.28 L111.89 378.24 L110.3 379.21 L108.71 380.21 L107.12 381.23 L105.54 382.28 L103.96 383.37 L102.4 384.5 L100.86 385.69 L99.37 386.94 L97.93 388.26 L96.56 389.67 L95.29 391.16 L94.12 392.74 L93.08 394.4 L92.16 396.13 L91.38 397.93 L90.72 399.78 L90.19 401.67 L89.76 403.58 L89.43 405.5 L89.17 407.42 L88.97 409.34 L88.81 411.25 L88.69 413.14 L88.6 415.03 L88.54 416.91 L88.49 418.78 L88.46 420.64 L88.45 422.5 L88.46 424.36 L88.49 426.22 L88.54 428.09 L88.6 429.97 L88.69 431.86 L88.81 433.75 L88.97 435.66 L89.17 437.58 L89.43 439.5 L89.76 441.42 L90.19 443.33 L90.72 445.22 L91.38 447.07 L92.16 448.87 L93.08 450.6 L94.12 452.26 L95.29 453.84 L96.56 455.33 L97.93 456.74 L99.37 458.06 L100.86 459.31 L102.4 460.5 L103.96 461.63 L105.54 462.72 L107.12 463.77 L108.71 464.79 L110.3 465.79 L111.89 466.76 L113.49 467.72 L115.1 468.66 L116.72 469.58 L118.34 470.49 L119.99 471.38 L121.65 472.26 L123.32 473.13 L125.03 473.97 L126.76 474.79 L128.52 475.58 L130.31 476.31 L132.14 476.98 L134.01 477.57 L135.91 478.05 L137.84 478.41 L139.79 478.63 L141.75 478.7 L143.71 478.63 L145.66 478.41 L147.59 478.05 L149.49 477.57 L151.36 476.98 L153.19 476.31 L154.98 475.58 L156.74 474.79 L158.47 473.97 L160.18 473.13 L161.85 472.26 L163.51 471.38 L165.16 470.49 L166.78 469.58 L168.4 468.66 L170.01 467.72 L171.61 466.76 L173.2 465.79 L174.79 464.79 L176.38 463.77 L177.96 462.72 L179.54 461.63 L181.1 460.5 L182.64 459.31 L184.13 458.06 L185.57 456.74 L186.94 455.33 L188.21 453.84 L189.38 452.26 L190.42 450.6 L191.34 448.87 L192.12 447.07 L192.78 445.22 L193.31 443.33 L193.74 441.42 L194.07 439.5 L194.33 437.58 L194.53 435.66 L194.69 433.75 L194.81 431.86 L194.9 429.97 L194.96 428.09 L195.01 426.22 L195.04 424.36 L195.05 422.5Z" fill="none" stroke="#1838c8" stroke-width="1.2" stroke-linejoin="round"/>
<path d="M174.05 422.5 L174.03 421.37 L173.97 420.25 L173.87 419.12 L173.74 418 L173.56 416.89 L173.34 415.78 L173.09 414.69 L172.8 413.6 L172.47 412.52 L172.1 411.45 L171.7 410.4 L171.26 409.36 L170.78 408.34 L170.27 407.34 L169.72 406.35 L169.14 405.38 L168.53 404.44 L167.88 403.51 L167.2 402.61 L166.49 401.74 L165.75 400.89 L164.98 400.06 L164.19 399.27 L163.36 398.5 L162.51 397.76 L161.64 397.05 L160.74 396.37 L159.81 395.72 L158.87 395.11 L157.9 394.53 L156.91 393.98 L155.91 393.47 L154.89 392.99 L153.85 392.55 L152.8 392.15 L151.73 391.78 L150.65 391.45 L149.56 391.16 L148.47 390.91 L147.36 390.69 L146.25 390.51 L145.13 390.38 L144 390.28 L142.88 390.22 L141.75 390.2 L140.62 390.22 L139.5 390.28 L138.37 390.38 L137.25 390.51 L136.14 390.69 L135.03 390.91 L133.94 391.16 L132.85 391.45 L131.77 391.78 L130.7 392.15 L129.65 392.55 L128.61 392.99 L127.59 393.47 L126.59 393.98 L125.6 394.53 L124.63 395.11 L123.69 395.72 L122.76 396.37 L121.86 397.05 L120.99 397.76 L120.14 398.5 L119.31 399.27 L118.52 400.06 L117.75 400.89 L117.01 401.74 L116.3 402.61 L115.62 403.51 L114.97 404.44 L114.36 405.38 L113.78 406.35 L113.23 407.34 L112.72 408.34 L112.24 409.36 L111.8 410.4 L111.4 411.45 L111.03 412.52 L110.7 413.6 L110.41 414.69 L110.16 415.78 L109.94 416.89 L109.76 418 L109.63 419.12 L109.53 420.25 L109.47 421.37 L109.45 422.5 L109.47 423.63 L109.53 424.75 L109.63 425.88 L109.76 427 L109.94 428.11 L110.16 429.22 L110.41 430.31 L110.7 431.4 L111.03 432.48 L111.4 433.55 L111.8 434.6 L112.24 435.64 L112.72 436.66 L113.23 437.66 L113.78 438.65 L114.36 439.62 L114.97 440.56 L115.62 441.49 L116.3 442.39 L117.01 443.26 L117.75 444.11 L118.52 444.94 L119.31 445.73 L120.14 446.5 L120.99 447.24 L121.86 447.95 L122.76 448.63 L123.69 449.28 L124.63 449.89 L125.6 450.47 L126.59 451.02 L127.59 451.53 L128.61 452.01 L129.65 452.45 L130.7 452.85 L131.77 453.22 L132.85 453.55 L133.94 453.84 L135.03 454.09 L136.14 454.31 L137.25 454.49 L138.37 454.62 L139.5 454.72 L140.62 454.78 L141.75 454.8 L142.88 454.78 L144 454.72 L145.13 454.62 L146.25 454.49 L147.36 454.31 L148.47 454.09 L149.56 453.84 L150.65 453.55 L151.73 453.22 L152.8 452.85 L153.85 452.45 L154.89 452.01 L155.91 451.53 L156.91 451.02 L157.9 450.47 L158.87 449.89 L159.81 449.28 L160.74 448.63 L161.64 447.95 L162.51 447.24 L163.36 446.5 L164.19 445.73 L164.98 444.94 L165.75 444.11 L166.49 443.26 L167.2 442.39 L167.88 441.49 L168.53 440.56 L169.14 439.62 L169.72 438.65 L170.27 437.66 L170.78 436.66 L171.26 435.64 L171.7 434.6 L172.1 433.55 L172.47 432.48 L172.8 431.4 L173.09 430.31 L173.34 429.22 L173.56 428.11 L173.74 427 L173.87 425.88 L173.97 424.75 L174.03 423.63 L174.05 422.5Z" fill="none" stroke="#111111" stroke-width="1.25" stroke-linejoin="round"/>
<text x="148.2" y="342.3" font-size="8.2" text-anchor="start" font-weight="bold" >x2</text>
<text x="228.8" y="437.2" font-size="8.2" text-anchor="start" font-weight="bold" >x1</text>
<path d="M210.2 332.6 H228.5" stroke="#1c9a1c" stroke-width="1.2"/>
<text x="231.9" y="335.4" font-size="8.2" text-anchor="start" font-weight="bold" >BAW S1</text>
<path d="M210.2 344.7 H228.5" stroke="#1838c8" stroke-width="1.2"/>
<text x="231.9" y="347.5" font-size="8.2" text-anchor="start" font-weight="bold" >BAW S2</text>
<path d="M210.2 356.8 H228.5" stroke="#111" stroke-width="1.6"/>
<text x="231.9" y="359.6" font-size="8.2" text-anchor="start" font-weight="bold" >BAW L</text>
<path d="M210.2 368.7 H228.5" stroke="#ff3a10" stroke-width="1.2"/>
<text x="231.9" y="371.5" font-size="8.2" text-anchor="start" font-weight="bold" >SAW</text>
<text x="136.8" y="518.5" font-size="10.8" text-anchor="middle">(<tspan font-weight="bold">e</tspan>)</text>
<circle cx="424.85" cy="420.4" r="17.75" fill="none" stroke="#888" stroke-width="0.55" stroke-dasharray="0.7 1.6"/>
<circle cx="424.85" cy="420.4" r="35.5" fill="none" stroke="#888" stroke-width="0.55" stroke-dasharray="0.7 1.6"/>
<circle cx="424.85" cy="420.4" r="53.25" fill="none" stroke="#888" stroke-width="0.55" stroke-dasharray="0.7 1.6"/>
<path d="M424.85 420.4 L486.34 384.9 M424.85 420.4 L460.35 358.91 M424.85 420.4 L389.35 358.91 M424.85 420.4 L363.36 384.9 M424.85 420.4 L353.85 420.4 M424.85 420.4 L363.36 455.9 M424.85 420.4 L389.35 481.89 M424.85 420.4 L424.85 491.4 M424.85 420.4 L460.35 481.89 M424.85 420.4 L486.34 455.9" fill="none" stroke="#888" stroke-width="0.55" stroke-dasharray="0.7 1.6"/>
<circle cx="424.85" cy="420.4" r="71" fill="none" stroke="#555" stroke-width="0.8"/>
<path d="M424.85 420.4 V340.3 M424.85 420.4 H514.6" stroke="#666" stroke-width="0.7" fill="none"/>
<path d="M424.85 336.3 l-2.8 7.6 l2.8 -1.8 l2.8 1.8Z" fill="#000"/>
<path d="M518.6 420.4 l-7.6 -2.8 l1.8 2.8 l-1.8 2.8Z" fill="#000"/>
<path d="M483.25 420.4 L483.22 418.36 L483.14 416.32 L483 414.29 L482.8 412.26 L482.55 410.23 L482.23 408.2 L481.86 406.19 L481.42 404.18 L480.92 402.18 L480.35 400.2 L479.71 398.23 L479.01 396.29 L478.23 394.36 L477.39 392.47 L476.47 390.6 L475.47 388.77 L474.41 386.97 L473.27 385.22 L472.06 383.52 L470.78 381.86 L469.43 380.26 L468.01 378.72 L466.53 377.24 L464.99 375.82 L463.39 374.47 L461.73 373.19 L460.03 371.98 L458.28 370.84 L456.48 369.78 L454.65 368.78 L452.78 367.86 L450.89 367.02 L448.96 366.24 L447.02 365.54 L445.05 364.9 L443.07 364.33 L441.07 363.83 L439.06 363.39 L437.05 363.02 L435.02 362.7 L432.99 362.45 L430.96 362.25 L428.93 362.11 L426.89 362.03 L424.85 362 L422.81 362.03 L420.77 362.11 L418.74 362.25 L416.71 362.45 L414.68 362.7 L412.65 363.02 L410.64 363.39 L408.63 363.83 L406.63 364.33 L404.65 364.9 L402.68 365.54 L400.74 366.24 L398.81 367.02 L396.92 367.86 L395.05 368.78 L393.22 369.78 L391.42 370.84 L389.67 371.98 L387.97 373.19 L386.31 374.47 L384.71 375.82 L383.17 377.24 L381.69 378.72 L380.27 380.26 L378.92 381.86 L377.64 383.52 L376.43 385.22 L375.29 386.97 L374.23 388.77 L373.23 390.6 L372.31 392.47 L371.47 394.36 L370.69 396.29 L369.99 398.23 L369.35 400.2 L368.78 402.18 L368.28 404.18 L367.84 406.19 L367.47 408.2 L367.15 410.23 L366.9 412.26 L366.7 414.29 L366.56 416.32 L366.48 418.36 L366.45 420.4 L366.48 422.44 L366.56 424.48 L366.7 426.51 L366.9 428.54 L367.15 430.57 L367.47 432.6 L367.84 434.61 L368.28 436.62 L368.78 438.62 L369.35 440.6 L369.99 442.57 L370.69 444.51 L371.47 446.44 L372.31 448.33 L373.23 450.2 L374.23 452.03 L375.29 453.83 L376.43 455.58 L377.64 457.28 L378.92 458.94 L380.27 460.54 L381.69 462.08 L383.17 463.56 L384.71 464.98 L386.31 466.33 L387.97 467.61 L389.67 468.82 L391.42 469.96 L393.22 471.02 L395.05 472.02 L396.92 472.94 L398.81 473.78 L400.74 474.56 L402.68 475.26 L404.65 475.9 L406.63 476.47 L408.63 476.97 L410.64 477.41 L412.65 477.78 L414.68 478.1 L416.71 478.35 L418.74 478.55 L420.77 478.69 L422.81 478.77 L424.85 478.8 L426.89 478.77 L428.93 478.69 L430.96 478.55 L432.99 478.35 L435.02 478.1 L437.05 477.78 L439.06 477.41 L441.07 476.97 L443.07 476.47 L445.05 475.9 L447.02 475.26 L448.96 474.56 L450.89 473.78 L452.78 472.94 L454.65 472.02 L456.48 471.02 L458.28 469.96 L460.03 468.82 L461.73 467.61 L463.39 466.33 L464.99 464.98 L466.53 463.56 L468.01 462.08 L469.43 460.54 L470.78 458.94 L472.06 457.28 L473.27 455.58 L474.41 453.83 L475.47 452.03 L476.47 450.2 L477.39 448.33 L478.23 446.44 L479.01 444.51 L479.71 442.57 L480.35 440.6 L480.92 438.62 L481.42 436.62 L481.86 434.61 L482.23 432.6 L482.55 430.57 L482.8 428.54 L483 426.51 L483.14 424.48 L483.22 422.44 L483.25 420.4Z" fill="none" stroke="#ff3a10" stroke-width="1.2" stroke-linejoin="round"/>
<path d="M486.35 420.4 L486.24 418.26 L485.93 416.13 L485.41 414.03 L484.71 411.99 L483.84 410 L482.84 408.07 L481.71 406.22 L480.5 404.44 L479.22 402.73 L477.9 401.09 L476.55 399.51 L475.21 397.98 L473.86 396.49 L472.54 395.04 L471.23 393.62 L469.93 392.23 L468.66 390.85 L467.39 389.49 L466.13 388.15 L464.87 386.82 L463.61 385.5 L462.33 384.2 L461.05 382.92 L459.75 381.64 L458.43 380.38 L457.1 379.12 L455.76 377.86 L454.4 376.59 L453.02 375.32 L451.63 374.02 L450.21 372.71 L448.76 371.39 L447.27 370.04 L445.74 368.7 L444.16 367.35 L442.52 366.03 L440.81 364.75 L439.03 363.54 L437.18 362.41 L435.25 361.41 L433.26 360.54 L431.22 359.84 L429.12 359.32 L426.99 359.01 L424.85 358.9 L422.71 359.01 L420.58 359.32 L418.48 359.84 L416.44 360.54 L414.45 361.41 L412.52 362.41 L410.67 363.54 L408.89 364.75 L407.18 366.03 L405.54 367.35 L403.96 368.7 L402.43 370.04 L400.94 371.39 L399.49 372.71 L398.08 374.02 L396.68 375.32 L395.3 376.59 L393.94 377.86 L392.6 379.12 L391.27 380.38 L389.95 381.64 L388.65 382.92 L387.37 384.2 L386.09 385.5 L384.83 386.82 L383.57 388.15 L382.31 389.49 L381.04 390.85 L379.77 392.23 L378.47 393.62 L377.16 395.04 L375.84 396.49 L374.49 397.98 L373.15 399.51 L371.8 401.09 L370.48 402.73 L369.2 404.44 L367.99 406.22 L366.86 408.07 L365.86 410 L364.99 411.99 L364.29 414.03 L363.77 416.13 L363.46 418.26 L363.35 420.4 L363.46 422.54 L363.77 424.67 L364.29 426.77 L364.99 428.81 L365.86 430.8 L366.86 432.73 L367.99 434.58 L369.2 436.36 L370.48 438.07 L371.8 439.71 L373.15 441.29 L374.49 442.82 L375.84 444.31 L377.16 445.76 L378.47 447.18 L379.77 448.57 L381.04 449.95 L382.31 451.31 L383.57 452.65 L384.83 453.98 L386.09 455.3 L387.37 456.6 L388.65 457.88 L389.95 459.16 L391.27 460.42 L392.6 461.68 L393.94 462.94 L395.3 464.21 L396.68 465.48 L398.07 466.78 L399.49 468.09 L400.94 469.41 L402.43 470.76 L403.96 472.1 L405.54 473.45 L407.18 474.77 L408.89 476.05 L410.67 477.26 L412.52 478.39 L414.45 479.39 L416.44 480.26 L418.48 480.96 L420.58 481.48 L422.71 481.79 L424.85 481.9 L426.99 481.79 L429.12 481.48 L431.22 480.96 L433.26 480.26 L435.25 479.39 L437.18 478.39 L439.03 477.26 L440.81 476.05 L442.52 474.77 L444.16 473.45 L445.74 472.1 L447.27 470.76 L448.76 469.41 L450.21 468.09 L451.63 466.78 L453.02 465.48 L454.4 464.21 L455.76 462.94 L457.1 461.68 L458.43 460.42 L459.75 459.16 L461.05 457.88 L462.33 456.6 L463.61 455.3 L464.87 453.98 L466.13 452.65 L467.39 451.31 L468.66 449.95 L469.93 448.57 L471.23 447.18 L472.54 445.76 L473.86 444.31 L475.21 442.82 L476.55 441.29 L477.9 439.71 L479.22 438.07 L480.5 436.36 L481.71 434.58 L482.84 432.73 L483.84 430.8 L484.71 428.81 L485.41 426.77 L485.93 424.67 L486.24 422.54 L486.35 420.4Z" fill="none" stroke="#1c9a1c" stroke-width="1.2" stroke-linejoin="round"/>
<path d="M477.05 420.4 L477.02 418.58 L476.92 416.76 L476.75 414.95 L476.52 413.14 L476.22 411.34 L475.85 409.56 L475.42 407.79 L474.93 406.04 L474.37 404.31 L473.75 402.6 L473.07 400.92 L472.33 399.26 L471.53 397.63 L470.67 396.04 L469.75 394.47 L468.78 392.95 L467.76 391.45 L466.69 390 L465.57 388.59 L464.39 387.22 L463.18 385.89 L461.91 384.61 L460.61 383.37 L459.26 382.18 L457.88 381.04 L456.45 379.95 L454.99 378.91 L453.5 377.92 L451.98 376.99 L450.43 376.1 L448.84 375.27 L447.24 374.5 L445.61 373.78 L443.95 373.12 L442.28 372.51 L440.59 371.96 L438.88 371.47 L437.16 371.03 L435.42 370.65 L433.68 370.33 L431.92 370.07 L430.16 369.86 L428.39 369.72 L426.62 369.63 L424.85 369.6 L423.08 369.63 L421.31 369.72 L419.54 369.86 L417.78 370.07 L416.02 370.33 L414.28 370.65 L412.54 371.03 L410.82 371.47 L409.11 371.96 L407.42 372.51 L405.75 373.12 L404.09 373.78 L402.46 374.5 L400.86 375.27 L399.28 376.1 L397.72 376.99 L396.2 377.92 L394.71 378.91 L393.25 379.95 L391.82 381.04 L390.44 382.18 L389.09 383.37 L387.79 384.61 L386.52 385.89 L385.31 387.22 L384.13 388.59 L383.01 390 L381.94 391.45 L380.92 392.95 L379.95 394.47 L379.03 396.04 L378.17 397.63 L377.37 399.26 L376.63 400.92 L375.95 402.6 L375.33 404.31 L374.77 406.04 L374.28 407.79 L373.85 409.56 L373.48 411.34 L373.18 413.14 L372.95 414.95 L372.78 416.76 L372.68 418.58 L372.65 420.4 L372.68 422.22 L372.78 424.04 L372.95 425.85 L373.18 427.66 L373.48 429.46 L373.85 431.24 L374.28 433.01 L374.77 434.76 L375.33 436.49 L375.95 438.2 L376.63 439.88 L377.37 441.54 L378.17 443.17 L379.03 444.76 L379.95 446.32 L380.92 447.85 L381.94 449.35 L383.01 450.8 L384.13 452.21 L385.31 453.58 L386.52 454.91 L387.79 456.19 L389.09 457.43 L390.44 458.62 L391.82 459.76 L393.25 460.85 L394.71 461.89 L396.2 462.88 L397.72 463.81 L399.27 464.7 L400.86 465.53 L402.46 466.3 L404.09 467.02 L405.75 467.68 L407.42 468.29 L409.11 468.84 L410.82 469.33 L412.54 469.77 L414.28 470.15 L416.02 470.47 L417.78 470.73 L419.54 470.94 L421.31 471.08 L423.08 471.17 L424.85 471.2 L426.62 471.17 L428.39 471.08 L430.16 470.94 L431.92 470.73 L433.68 470.47 L435.42 470.15 L437.16 469.77 L438.88 469.33 L440.59 468.84 L442.28 468.29 L443.95 467.68 L445.61 467.02 L447.24 466.3 L448.84 465.53 L450.43 464.7 L451.98 463.81 L453.5 462.88 L454.99 461.89 L456.45 460.85 L457.88 459.76 L459.26 458.62 L460.61 457.43 L461.91 456.19 L463.18 454.91 L464.39 453.58 L465.57 452.21 L466.69 450.8 L467.76 449.35 L468.78 447.85 L469.75 446.32 L470.67 444.76 L471.53 443.17 L472.33 441.54 L473.07 439.88 L473.75 438.2 L474.37 436.49 L474.93 434.76 L475.42 433.01 L475.85 431.24 L476.22 429.46 L476.52 427.66 L476.75 425.85 L476.92 424.04 L477.02 422.22 L477.05 420.4Z" fill="none" stroke="#1838c8" stroke-width="1.2" stroke-linejoin="round"/>
<path d="M456.85 420.4 L456.84 419.28 L456.82 418.16 L456.79 417.04 L456.73 415.92 L456.66 414.79 L456.57 413.66 L456.46 412.52 L456.31 411.38 L456.14 410.23 L455.93 409.09 L455.68 407.94 L455.4 406.8 L455.06 405.66 L454.68 404.54 L454.25 403.42 L453.77 402.33 L453.23 401.26 L452.64 400.21 L452 399.19 L451.3 398.21 L450.54 397.27 L449.74 396.37 L448.88 395.51 L447.98 394.71 L447.04 393.95 L446.06 393.25 L445.04 392.61 L443.99 392.02 L442.92 391.48 L441.83 391 L440.71 390.57 L439.59 390.19 L438.45 389.85 L437.31 389.57 L436.16 389.32 L435.02 389.11 L433.87 388.94 L432.73 388.79 L431.59 388.68 L430.46 388.59 L429.33 388.52 L428.21 388.46 L427.09 388.43 L425.97 388.41 L424.85 388.4 L423.73 388.41 L422.61 388.43 L421.49 388.46 L420.37 388.52 L419.24 388.59 L418.11 388.68 L416.97 388.79 L415.83 388.94 L414.68 389.11 L413.54 389.32 L412.39 389.57 L411.25 389.85 L410.11 390.19 L408.99 390.57 L407.88 391 L406.78 391.48 L405.71 392.02 L404.66 392.61 L403.64 393.25 L402.66 393.95 L401.72 394.71 L400.82 395.51 L399.96 396.37 L399.16 397.27 L398.4 398.21 L397.7 399.19 L397.06 400.21 L396.47 401.26 L395.93 402.33 L395.45 403.42 L395.02 404.54 L394.64 405.66 L394.3 406.8 L394.02 407.94 L393.77 409.09 L393.56 410.23 L393.39 411.38 L393.24 412.52 L393.13 413.66 L393.04 414.79 L392.97 415.92 L392.91 417.04 L392.88 418.16 L392.86 419.28 L392.85 420.4 L392.86 421.52 L392.88 422.64 L392.91 423.76 L392.97 424.88 L393.04 426.01 L393.13 427.14 L393.24 428.28 L393.39 429.42 L393.56 430.57 L393.77 431.71 L394.02 432.86 L394.3 434 L394.64 435.14 L395.02 436.26 L395.45 437.38 L395.93 438.47 L396.47 439.54 L397.06 440.59 L397.7 441.61 L398.4 442.59 L399.16 443.53 L399.96 444.43 L400.82 445.29 L401.72 446.09 L402.66 446.85 L403.64 447.55 L404.66 448.19 L405.71 448.78 L406.78 449.32 L407.88 449.8 L408.99 450.23 L410.11 450.61 L411.25 450.95 L412.39 451.23 L413.54 451.48 L414.68 451.69 L415.83 451.86 L416.97 452.01 L418.11 452.12 L419.24 452.21 L420.37 452.28 L421.49 452.34 L422.61 452.37 L423.73 452.39 L424.85 452.4 L425.97 452.39 L427.09 452.37 L428.21 452.34 L429.33 452.28 L430.46 452.21 L431.59 452.12 L432.73 452.01 L433.87 451.86 L435.02 451.69 L436.16 451.48 L437.31 451.23 L438.45 450.95 L439.59 450.61 L440.71 450.23 L441.83 449.8 L442.92 449.32 L443.99 448.78 L445.04 448.19 L446.06 447.55 L447.04 446.85 L447.98 446.09 L448.88 445.29 L449.74 444.43 L450.54 443.53 L451.3 442.59 L452 441.61 L452.64 440.59 L453.23 439.54 L453.77 438.47 L454.25 437.38 L454.68 436.26 L455.06 435.14 L455.4 434 L455.68 432.86 L455.93 431.71 L456.14 430.57 L456.31 429.42 L456.46 428.28 L456.57 427.14 L456.66 426.01 L456.73 424.88 L456.79 423.76 L456.82 422.64 L456.84 421.52 L456.85 420.4Z" fill="none" stroke="#111111" stroke-width="1.25" stroke-linejoin="round"/>
<text x="430.6" y="342" font-size="8.2" text-anchor="start" font-weight="bold" >x2</text>
<text x="510.2" y="434.9" font-size="8.2" text-anchor="start" font-weight="bold" >x1</text>
<path d="M493.3 332.7 H511" stroke="#1c9a1c" stroke-width="1.2"/>
<text x="514.3" y="335.5" font-size="8.2" text-anchor="start" font-weight="bold" >BAW S1</text>
<path d="M493.3 344.4 H511" stroke="#1838c8" stroke-width="1.2"/>
<text x="514.3" y="347.2" font-size="8.2" text-anchor="start" font-weight="bold" >BAW S2</text>
<path d="M493.3 356.1 H511" stroke="#111" stroke-width="1.6"/>
<text x="514.3" y="358.9" font-size="8.2" text-anchor="start" font-weight="bold" >BAW L</text>
<path d="M493.3 368 H511" stroke="#ff3a10" stroke-width="1.2"/>
<text x="514.3" y="370.8" font-size="8.2" text-anchor="start" font-weight="bold" >SAW</text>
<text x="419.5" y="518.5" font-size="10.8" text-anchor="middle">(<tspan font-weight="bold">f</tspan>)</text>
</svg>
</body></html>
